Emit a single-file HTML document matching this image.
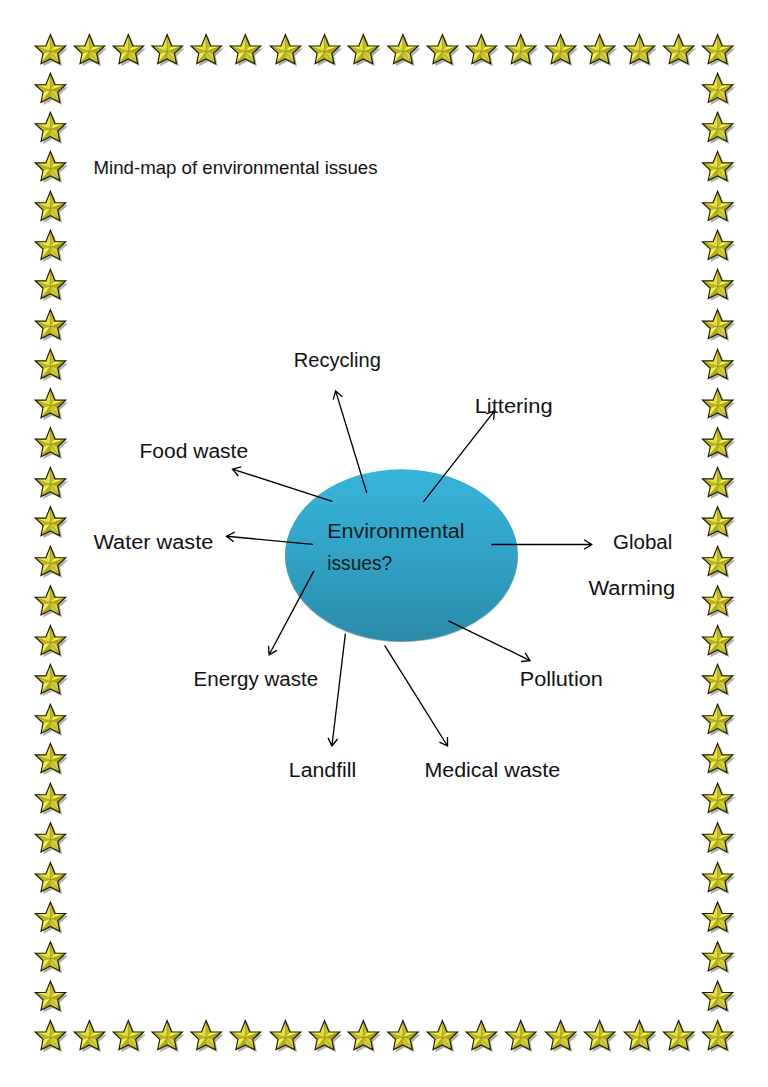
<!DOCTYPE html>
<html><head><meta charset="utf-8"><style>
html,body{margin:0;padding:0;background:#fff;}
body{width:768px;height:1087px;overflow:hidden;position:relative;}
svg{position:absolute;left:0;top:0;}
text{font-family:"Liberation Sans",sans-serif;}
</style></head><body>
<svg width="768" height="1087" viewBox="0 0 768 1087">
<defs>
<filter id="bl" x="-20%" y="-20%" width="140%" height="140%"><feGaussianBlur stdDeviation="0.7"/></filter>
<linearGradient id="eg" x1="0" y1="0" x2="0" y2="1">
<stop offset="0" stop-color="#37B5DA"/><stop offset="0.5" stop-color="#31A3C6"/><stop offset="1" stop-color="#2A8AA7"/>
</linearGradient>
</defs>
<rect width="768" height="1087" fill="#fff"/>
<g transform="translate(50.40,51.50)"><g><path d="M0.00,-17.00 L4.55,-5.50 L15.30,-5.50 L7.35,1.90 L9.40,12.20 L0.00,7.40 L-9.40,12.20 L-7.35,1.90 L-15.10,-5.50 L-4.55,-5.50Z" fill="#909090" opacity="0.7" transform="translate(2.2,2.5)" filter="url(#bl)"/><path d="M0.00,-17.00 L4.55,-5.50 L15.30,-5.50 L7.35,1.90 L9.40,12.20 L0.00,7.40 L-9.40,12.20 L-7.35,1.90 L-15.10,-5.50 L-4.55,-5.50Z" fill="#d8d23e"/><path d="M0,0 L0.00,-17.00 L-4.55,-5.50Z" fill="#e7e441"/><path d="M0,0 L0.00,-17.00 L4.55,-5.50Z" fill="#c2bc2b"/><path d="M0,0 L15.30,-5.50 L4.55,-5.50Z" fill="#f9f74b"/><path d="M0,0 L15.30,-5.50 L7.35,1.90Z" fill="#b0a820"/><path d="M0,0 L9.40,12.20 L7.35,1.90Z" fill="#d8d438"/><path d="M0,0 L9.40,12.20 L0.00,7.40Z" fill="#d1cb33"/><path d="M0,0 L-9.40,12.20 L0.00,7.40Z" fill="#b3ab21"/><path d="M0,0 L-9.40,12.20 L-7.35,1.90Z" fill="#f6f44a"/><path d="M0,0 L-15.10,-5.50 L-7.35,1.90Z" fill="#bcb527"/><path d="M0,0 L-15.10,-5.50 L-4.55,-5.50Z" fill="#edea44"/><path d="M0,0 L0.00,-17.00 M0,0 L15.30,-5.50 M0,0 L9.40,12.20 M0,0 L-9.40,12.20 M0,0 L-15.10,-5.50 " stroke="#7a7210" stroke-width="0.6" fill="none" opacity="0.7"/><path d="M0,0 L4.55,-5.50 M0,0 L7.35,1.90 M0,0 L0.00,7.40 M0,0 L-7.35,1.90 M0,0 L-4.55,-5.50 " stroke="#8a8214" stroke-width="0.5" fill="none" opacity="0.45"/><path d="M0.00,-17.00 L4.55,-5.50 L15.30,-5.50 L7.35,1.90 L9.40,12.20 L0.00,7.40 L-9.40,12.20 L-7.35,1.90 L-15.10,-5.50 L-4.55,-5.50Z" fill="none" stroke="#1a1a00" stroke-width="1.15" stroke-linejoin="miter" stroke-miterlimit="10"/></g></g>
<g transform="translate(50.40,1037.50)"><g><path d="M0.00,-17.00 L4.55,-5.50 L15.30,-5.50 L7.35,1.90 L9.40,12.20 L0.00,7.40 L-9.40,12.20 L-7.35,1.90 L-15.10,-5.50 L-4.55,-5.50Z" fill="#909090" opacity="0.7" transform="translate(2.2,2.5)" filter="url(#bl)"/><path d="M0.00,-17.00 L4.55,-5.50 L15.30,-5.50 L7.35,1.90 L9.40,12.20 L0.00,7.40 L-9.40,12.20 L-7.35,1.90 L-15.10,-5.50 L-4.55,-5.50Z" fill="#d8d23e"/><path d="M0,0 L0.00,-17.00 L-4.55,-5.50Z" fill="#e7e441"/><path d="M0,0 L0.00,-17.00 L4.55,-5.50Z" fill="#c2bc2b"/><path d="M0,0 L15.30,-5.50 L4.55,-5.50Z" fill="#f9f74b"/><path d="M0,0 L15.30,-5.50 L7.35,1.90Z" fill="#b0a820"/><path d="M0,0 L9.40,12.20 L7.35,1.90Z" fill="#d8d438"/><path d="M0,0 L9.40,12.20 L0.00,7.40Z" fill="#d1cb33"/><path d="M0,0 L-9.40,12.20 L0.00,7.40Z" fill="#b3ab21"/><path d="M0,0 L-9.40,12.20 L-7.35,1.90Z" fill="#f6f44a"/><path d="M0,0 L-15.10,-5.50 L-7.35,1.90Z" fill="#bcb527"/><path d="M0,0 L-15.10,-5.50 L-4.55,-5.50Z" fill="#edea44"/><path d="M0,0 L0.00,-17.00 M0,0 L15.30,-5.50 M0,0 L9.40,12.20 M0,0 L-9.40,12.20 M0,0 L-15.10,-5.50 " stroke="#7a7210" stroke-width="0.6" fill="none" opacity="0.7"/><path d="M0,0 L4.55,-5.50 M0,0 L7.35,1.90 M0,0 L0.00,7.40 M0,0 L-7.35,1.90 M0,0 L-4.55,-5.50 " stroke="#8a8214" stroke-width="0.5" fill="none" opacity="0.45"/><path d="M0.00,-17.00 L4.55,-5.50 L15.30,-5.50 L7.35,1.90 L9.40,12.20 L0.00,7.40 L-9.40,12.20 L-7.35,1.90 L-15.10,-5.50 L-4.55,-5.50Z" fill="none" stroke="#1a1a00" stroke-width="1.15" stroke-linejoin="miter" stroke-miterlimit="10"/></g></g>
<g transform="translate(89.40,51.50)"><g><path d="M0.00,-17.00 L4.55,-5.50 L15.30,-5.50 L7.35,1.90 L9.40,12.20 L0.00,7.40 L-9.40,12.20 L-7.35,1.90 L-15.10,-5.50 L-4.55,-5.50Z" fill="#909090" opacity="0.7" transform="translate(2.2,2.5)" filter="url(#bl)"/><path d="M0.00,-17.00 L4.55,-5.50 L15.30,-5.50 L7.35,1.90 L9.40,12.20 L0.00,7.40 L-9.40,12.20 L-7.35,1.90 L-15.10,-5.50 L-4.55,-5.50Z" fill="#d8d23e"/><path d="M0,0 L0.00,-17.00 L-4.55,-5.50Z" fill="#e7e441"/><path d="M0,0 L0.00,-17.00 L4.55,-5.50Z" fill="#c2bc2b"/><path d="M0,0 L15.30,-5.50 L4.55,-5.50Z" fill="#f9f74b"/><path d="M0,0 L15.30,-5.50 L7.35,1.90Z" fill="#b0a820"/><path d="M0,0 L9.40,12.20 L7.35,1.90Z" fill="#d8d438"/><path d="M0,0 L9.40,12.20 L0.00,7.40Z" fill="#d1cb33"/><path d="M0,0 L-9.40,12.20 L0.00,7.40Z" fill="#b3ab21"/><path d="M0,0 L-9.40,12.20 L-7.35,1.90Z" fill="#f6f44a"/><path d="M0,0 L-15.10,-5.50 L-7.35,1.90Z" fill="#bcb527"/><path d="M0,0 L-15.10,-5.50 L-4.55,-5.50Z" fill="#edea44"/><path d="M0,0 L0.00,-17.00 M0,0 L15.30,-5.50 M0,0 L9.40,12.20 M0,0 L-9.40,12.20 M0,0 L-15.10,-5.50 " stroke="#7a7210" stroke-width="0.6" fill="none" opacity="0.7"/><path d="M0,0 L4.55,-5.50 M0,0 L7.35,1.90 M0,0 L0.00,7.40 M0,0 L-7.35,1.90 M0,0 L-4.55,-5.50 " stroke="#8a8214" stroke-width="0.5" fill="none" opacity="0.45"/><path d="M0.00,-17.00 L4.55,-5.50 L15.30,-5.50 L7.35,1.90 L9.40,12.20 L0.00,7.40 L-9.40,12.20 L-7.35,1.90 L-15.10,-5.50 L-4.55,-5.50Z" fill="none" stroke="#1a1a00" stroke-width="1.15" stroke-linejoin="miter" stroke-miterlimit="10"/></g></g>
<g transform="translate(89.40,1037.50)"><g><path d="M0.00,-17.00 L4.55,-5.50 L15.30,-5.50 L7.35,1.90 L9.40,12.20 L0.00,7.40 L-9.40,12.20 L-7.35,1.90 L-15.10,-5.50 L-4.55,-5.50Z" fill="#909090" opacity="0.7" transform="translate(2.2,2.5)" filter="url(#bl)"/><path d="M0.00,-17.00 L4.55,-5.50 L15.30,-5.50 L7.35,1.90 L9.40,12.20 L0.00,7.40 L-9.40,12.20 L-7.35,1.90 L-15.10,-5.50 L-4.55,-5.50Z" fill="#d8d23e"/><path d="M0,0 L0.00,-17.00 L-4.55,-5.50Z" fill="#e7e441"/><path d="M0,0 L0.00,-17.00 L4.55,-5.50Z" fill="#c2bc2b"/><path d="M0,0 L15.30,-5.50 L4.55,-5.50Z" fill="#f9f74b"/><path d="M0,0 L15.30,-5.50 L7.35,1.90Z" fill="#b0a820"/><path d="M0,0 L9.40,12.20 L7.35,1.90Z" fill="#d8d438"/><path d="M0,0 L9.40,12.20 L0.00,7.40Z" fill="#d1cb33"/><path d="M0,0 L-9.40,12.20 L0.00,7.40Z" fill="#b3ab21"/><path d="M0,0 L-9.40,12.20 L-7.35,1.90Z" fill="#f6f44a"/><path d="M0,0 L-15.10,-5.50 L-7.35,1.90Z" fill="#bcb527"/><path d="M0,0 L-15.10,-5.50 L-4.55,-5.50Z" fill="#edea44"/><path d="M0,0 L0.00,-17.00 M0,0 L15.30,-5.50 M0,0 L9.40,12.20 M0,0 L-9.40,12.20 M0,0 L-15.10,-5.50 " stroke="#7a7210" stroke-width="0.6" fill="none" opacity="0.7"/><path d="M0,0 L4.55,-5.50 M0,0 L7.35,1.90 M0,0 L0.00,7.40 M0,0 L-7.35,1.90 M0,0 L-4.55,-5.50 " stroke="#8a8214" stroke-width="0.5" fill="none" opacity="0.45"/><path d="M0.00,-17.00 L4.55,-5.50 L15.30,-5.50 L7.35,1.90 L9.40,12.20 L0.00,7.40 L-9.40,12.20 L-7.35,1.90 L-15.10,-5.50 L-4.55,-5.50Z" fill="none" stroke="#1a1a00" stroke-width="1.15" stroke-linejoin="miter" stroke-miterlimit="10"/></g></g>
<g transform="translate(128.30,51.50)"><g><path d="M0.00,-17.00 L4.55,-5.50 L15.30,-5.50 L7.35,1.90 L9.40,12.20 L0.00,7.40 L-9.40,12.20 L-7.35,1.90 L-15.10,-5.50 L-4.55,-5.50Z" fill="#909090" opacity="0.7" transform="translate(2.2,2.5)" filter="url(#bl)"/><path d="M0.00,-17.00 L4.55,-5.50 L15.30,-5.50 L7.35,1.90 L9.40,12.20 L0.00,7.40 L-9.40,12.20 L-7.35,1.90 L-15.10,-5.50 L-4.55,-5.50Z" fill="#d8d23e"/><path d="M0,0 L0.00,-17.00 L-4.55,-5.50Z" fill="#e7e441"/><path d="M0,0 L0.00,-17.00 L4.55,-5.50Z" fill="#c2bc2b"/><path d="M0,0 L15.30,-5.50 L4.55,-5.50Z" fill="#f9f74b"/><path d="M0,0 L15.30,-5.50 L7.35,1.90Z" fill="#b0a820"/><path d="M0,0 L9.40,12.20 L7.35,1.90Z" fill="#d8d438"/><path d="M0,0 L9.40,12.20 L0.00,7.40Z" fill="#d1cb33"/><path d="M0,0 L-9.40,12.20 L0.00,7.40Z" fill="#b3ab21"/><path d="M0,0 L-9.40,12.20 L-7.35,1.90Z" fill="#f6f44a"/><path d="M0,0 L-15.10,-5.50 L-7.35,1.90Z" fill="#bcb527"/><path d="M0,0 L-15.10,-5.50 L-4.55,-5.50Z" fill="#edea44"/><path d="M0,0 L0.00,-17.00 M0,0 L15.30,-5.50 M0,0 L9.40,12.20 M0,0 L-9.40,12.20 M0,0 L-15.10,-5.50 " stroke="#7a7210" stroke-width="0.6" fill="none" opacity="0.7"/><path d="M0,0 L4.55,-5.50 M0,0 L7.35,1.90 M0,0 L0.00,7.40 M0,0 L-7.35,1.90 M0,0 L-4.55,-5.50 " stroke="#8a8214" stroke-width="0.5" fill="none" opacity="0.45"/><path d="M0.00,-17.00 L4.55,-5.50 L15.30,-5.50 L7.35,1.90 L9.40,12.20 L0.00,7.40 L-9.40,12.20 L-7.35,1.90 L-15.10,-5.50 L-4.55,-5.50Z" fill="none" stroke="#1a1a00" stroke-width="1.15" stroke-linejoin="miter" stroke-miterlimit="10"/></g></g>
<g transform="translate(128.30,1037.50)"><g><path d="M0.00,-17.00 L4.55,-5.50 L15.30,-5.50 L7.35,1.90 L9.40,12.20 L0.00,7.40 L-9.40,12.20 L-7.35,1.90 L-15.10,-5.50 L-4.55,-5.50Z" fill="#909090" opacity="0.7" transform="translate(2.2,2.5)" filter="url(#bl)"/><path d="M0.00,-17.00 L4.55,-5.50 L15.30,-5.50 L7.35,1.90 L9.40,12.20 L0.00,7.40 L-9.40,12.20 L-7.35,1.90 L-15.10,-5.50 L-4.55,-5.50Z" fill="#d8d23e"/><path d="M0,0 L0.00,-17.00 L-4.55,-5.50Z" fill="#e7e441"/><path d="M0,0 L0.00,-17.00 L4.55,-5.50Z" fill="#c2bc2b"/><path d="M0,0 L15.30,-5.50 L4.55,-5.50Z" fill="#f9f74b"/><path d="M0,0 L15.30,-5.50 L7.35,1.90Z" fill="#b0a820"/><path d="M0,0 L9.40,12.20 L7.35,1.90Z" fill="#d8d438"/><path d="M0,0 L9.40,12.20 L0.00,7.40Z" fill="#d1cb33"/><path d="M0,0 L-9.40,12.20 L0.00,7.40Z" fill="#b3ab21"/><path d="M0,0 L-9.40,12.20 L-7.35,1.90Z" fill="#f6f44a"/><path d="M0,0 L-15.10,-5.50 L-7.35,1.90Z" fill="#bcb527"/><path d="M0,0 L-15.10,-5.50 L-4.55,-5.50Z" fill="#edea44"/><path d="M0,0 L0.00,-17.00 M0,0 L15.30,-5.50 M0,0 L9.40,12.20 M0,0 L-9.40,12.20 M0,0 L-15.10,-5.50 " stroke="#7a7210" stroke-width="0.6" fill="none" opacity="0.7"/><path d="M0,0 L4.55,-5.50 M0,0 L7.35,1.90 M0,0 L0.00,7.40 M0,0 L-7.35,1.90 M0,0 L-4.55,-5.50 " stroke="#8a8214" stroke-width="0.5" fill="none" opacity="0.45"/><path d="M0.00,-17.00 L4.55,-5.50 L15.30,-5.50 L7.35,1.90 L9.40,12.20 L0.00,7.40 L-9.40,12.20 L-7.35,1.90 L-15.10,-5.50 L-4.55,-5.50Z" fill="none" stroke="#1a1a00" stroke-width="1.15" stroke-linejoin="miter" stroke-miterlimit="10"/></g></g>
<g transform="translate(167.10,51.50)"><g><path d="M0.00,-17.00 L4.55,-5.50 L15.30,-5.50 L7.35,1.90 L9.40,12.20 L0.00,7.40 L-9.40,12.20 L-7.35,1.90 L-15.10,-5.50 L-4.55,-5.50Z" fill="#909090" opacity="0.7" transform="translate(2.2,2.5)" filter="url(#bl)"/><path d="M0.00,-17.00 L4.55,-5.50 L15.30,-5.50 L7.35,1.90 L9.40,12.20 L0.00,7.40 L-9.40,12.20 L-7.35,1.90 L-15.10,-5.50 L-4.55,-5.50Z" fill="#d8d23e"/><path d="M0,0 L0.00,-17.00 L-4.55,-5.50Z" fill="#e7e441"/><path d="M0,0 L0.00,-17.00 L4.55,-5.50Z" fill="#c2bc2b"/><path d="M0,0 L15.30,-5.50 L4.55,-5.50Z" fill="#f9f74b"/><path d="M0,0 L15.30,-5.50 L7.35,1.90Z" fill="#b0a820"/><path d="M0,0 L9.40,12.20 L7.35,1.90Z" fill="#d8d438"/><path d="M0,0 L9.40,12.20 L0.00,7.40Z" fill="#d1cb33"/><path d="M0,0 L-9.40,12.20 L0.00,7.40Z" fill="#b3ab21"/><path d="M0,0 L-9.40,12.20 L-7.35,1.90Z" fill="#f6f44a"/><path d="M0,0 L-15.10,-5.50 L-7.35,1.90Z" fill="#bcb527"/><path d="M0,0 L-15.10,-5.50 L-4.55,-5.50Z" fill="#edea44"/><path d="M0,0 L0.00,-17.00 M0,0 L15.30,-5.50 M0,0 L9.40,12.20 M0,0 L-9.40,12.20 M0,0 L-15.10,-5.50 " stroke="#7a7210" stroke-width="0.6" fill="none" opacity="0.7"/><path d="M0,0 L4.55,-5.50 M0,0 L7.35,1.90 M0,0 L0.00,7.40 M0,0 L-7.35,1.90 M0,0 L-4.55,-5.50 " stroke="#8a8214" stroke-width="0.5" fill="none" opacity="0.45"/><path d="M0.00,-17.00 L4.55,-5.50 L15.30,-5.50 L7.35,1.90 L9.40,12.20 L0.00,7.40 L-9.40,12.20 L-7.35,1.90 L-15.10,-5.50 L-4.55,-5.50Z" fill="none" stroke="#1a1a00" stroke-width="1.15" stroke-linejoin="miter" stroke-miterlimit="10"/></g></g>
<g transform="translate(167.10,1037.50)"><g><path d="M0.00,-17.00 L4.55,-5.50 L15.30,-5.50 L7.35,1.90 L9.40,12.20 L0.00,7.40 L-9.40,12.20 L-7.35,1.90 L-15.10,-5.50 L-4.55,-5.50Z" fill="#909090" opacity="0.7" transform="translate(2.2,2.5)" filter="url(#bl)"/><path d="M0.00,-17.00 L4.55,-5.50 L15.30,-5.50 L7.35,1.90 L9.40,12.20 L0.00,7.40 L-9.40,12.20 L-7.35,1.90 L-15.10,-5.50 L-4.55,-5.50Z" fill="#d8d23e"/><path d="M0,0 L0.00,-17.00 L-4.55,-5.50Z" fill="#e7e441"/><path d="M0,0 L0.00,-17.00 L4.55,-5.50Z" fill="#c2bc2b"/><path d="M0,0 L15.30,-5.50 L4.55,-5.50Z" fill="#f9f74b"/><path d="M0,0 L15.30,-5.50 L7.35,1.90Z" fill="#b0a820"/><path d="M0,0 L9.40,12.20 L7.35,1.90Z" fill="#d8d438"/><path d="M0,0 L9.40,12.20 L0.00,7.40Z" fill="#d1cb33"/><path d="M0,0 L-9.40,12.20 L0.00,7.40Z" fill="#b3ab21"/><path d="M0,0 L-9.40,12.20 L-7.35,1.90Z" fill="#f6f44a"/><path d="M0,0 L-15.10,-5.50 L-7.35,1.90Z" fill="#bcb527"/><path d="M0,0 L-15.10,-5.50 L-4.55,-5.50Z" fill="#edea44"/><path d="M0,0 L0.00,-17.00 M0,0 L15.30,-5.50 M0,0 L9.40,12.20 M0,0 L-9.40,12.20 M0,0 L-15.10,-5.50 " stroke="#7a7210" stroke-width="0.6" fill="none" opacity="0.7"/><path d="M0,0 L4.55,-5.50 M0,0 L7.35,1.90 M0,0 L0.00,7.40 M0,0 L-7.35,1.90 M0,0 L-4.55,-5.50 " stroke="#8a8214" stroke-width="0.5" fill="none" opacity="0.45"/><path d="M0.00,-17.00 L4.55,-5.50 L15.30,-5.50 L7.35,1.90 L9.40,12.20 L0.00,7.40 L-9.40,12.20 L-7.35,1.90 L-15.10,-5.50 L-4.55,-5.50Z" fill="none" stroke="#1a1a00" stroke-width="1.15" stroke-linejoin="miter" stroke-miterlimit="10"/></g></g>
<g transform="translate(206.10,51.50)"><g><path d="M0.00,-17.00 L4.55,-5.50 L15.30,-5.50 L7.35,1.90 L9.40,12.20 L0.00,7.40 L-9.40,12.20 L-7.35,1.90 L-15.10,-5.50 L-4.55,-5.50Z" fill="#909090" opacity="0.7" transform="translate(2.2,2.5)" filter="url(#bl)"/><path d="M0.00,-17.00 L4.55,-5.50 L15.30,-5.50 L7.35,1.90 L9.40,12.20 L0.00,7.40 L-9.40,12.20 L-7.35,1.90 L-15.10,-5.50 L-4.55,-5.50Z" fill="#d8d23e"/><path d="M0,0 L0.00,-17.00 L-4.55,-5.50Z" fill="#e7e441"/><path d="M0,0 L0.00,-17.00 L4.55,-5.50Z" fill="#c2bc2b"/><path d="M0,0 L15.30,-5.50 L4.55,-5.50Z" fill="#f9f74b"/><path d="M0,0 L15.30,-5.50 L7.35,1.90Z" fill="#b0a820"/><path d="M0,0 L9.40,12.20 L7.35,1.90Z" fill="#d8d438"/><path d="M0,0 L9.40,12.20 L0.00,7.40Z" fill="#d1cb33"/><path d="M0,0 L-9.40,12.20 L0.00,7.40Z" fill="#b3ab21"/><path d="M0,0 L-9.40,12.20 L-7.35,1.90Z" fill="#f6f44a"/><path d="M0,0 L-15.10,-5.50 L-7.35,1.90Z" fill="#bcb527"/><path d="M0,0 L-15.10,-5.50 L-4.55,-5.50Z" fill="#edea44"/><path d="M0,0 L0.00,-17.00 M0,0 L15.30,-5.50 M0,0 L9.40,12.20 M0,0 L-9.40,12.20 M0,0 L-15.10,-5.50 " stroke="#7a7210" stroke-width="0.6" fill="none" opacity="0.7"/><path d="M0,0 L4.55,-5.50 M0,0 L7.35,1.90 M0,0 L0.00,7.40 M0,0 L-7.35,1.90 M0,0 L-4.55,-5.50 " stroke="#8a8214" stroke-width="0.5" fill="none" opacity="0.45"/><path d="M0.00,-17.00 L4.55,-5.50 L15.30,-5.50 L7.35,1.90 L9.40,12.20 L0.00,7.40 L-9.40,12.20 L-7.35,1.90 L-15.10,-5.50 L-4.55,-5.50Z" fill="none" stroke="#1a1a00" stroke-width="1.15" stroke-linejoin="miter" stroke-miterlimit="10"/></g></g>
<g transform="translate(206.10,1037.50)"><g><path d="M0.00,-17.00 L4.55,-5.50 L15.30,-5.50 L7.35,1.90 L9.40,12.20 L0.00,7.40 L-9.40,12.20 L-7.35,1.90 L-15.10,-5.50 L-4.55,-5.50Z" fill="#909090" opacity="0.7" transform="translate(2.2,2.5)" filter="url(#bl)"/><path d="M0.00,-17.00 L4.55,-5.50 L15.30,-5.50 L7.35,1.90 L9.40,12.20 L0.00,7.40 L-9.40,12.20 L-7.35,1.90 L-15.10,-5.50 L-4.55,-5.50Z" fill="#d8d23e"/><path d="M0,0 L0.00,-17.00 L-4.55,-5.50Z" fill="#e7e441"/><path d="M0,0 L0.00,-17.00 L4.55,-5.50Z" fill="#c2bc2b"/><path d="M0,0 L15.30,-5.50 L4.55,-5.50Z" fill="#f9f74b"/><path d="M0,0 L15.30,-5.50 L7.35,1.90Z" fill="#b0a820"/><path d="M0,0 L9.40,12.20 L7.35,1.90Z" fill="#d8d438"/><path d="M0,0 L9.40,12.20 L0.00,7.40Z" fill="#d1cb33"/><path d="M0,0 L-9.40,12.20 L0.00,7.40Z" fill="#b3ab21"/><path d="M0,0 L-9.40,12.20 L-7.35,1.90Z" fill="#f6f44a"/><path d="M0,0 L-15.10,-5.50 L-7.35,1.90Z" fill="#bcb527"/><path d="M0,0 L-15.10,-5.50 L-4.55,-5.50Z" fill="#edea44"/><path d="M0,0 L0.00,-17.00 M0,0 L15.30,-5.50 M0,0 L9.40,12.20 M0,0 L-9.40,12.20 M0,0 L-15.10,-5.50 " stroke="#7a7210" stroke-width="0.6" fill="none" opacity="0.7"/><path d="M0,0 L4.55,-5.50 M0,0 L7.35,1.90 M0,0 L0.00,7.40 M0,0 L-7.35,1.90 M0,0 L-4.55,-5.50 " stroke="#8a8214" stroke-width="0.5" fill="none" opacity="0.45"/><path d="M0.00,-17.00 L4.55,-5.50 L15.30,-5.50 L7.35,1.90 L9.40,12.20 L0.00,7.40 L-9.40,12.20 L-7.35,1.90 L-15.10,-5.50 L-4.55,-5.50Z" fill="none" stroke="#1a1a00" stroke-width="1.15" stroke-linejoin="miter" stroke-miterlimit="10"/></g></g>
<g transform="translate(245.30,51.50)"><g><path d="M0.00,-17.00 L4.55,-5.50 L15.30,-5.50 L7.35,1.90 L9.40,12.20 L0.00,7.40 L-9.40,12.20 L-7.35,1.90 L-15.10,-5.50 L-4.55,-5.50Z" fill="#909090" opacity="0.7" transform="translate(2.2,2.5)" filter="url(#bl)"/><path d="M0.00,-17.00 L4.55,-5.50 L15.30,-5.50 L7.35,1.90 L9.40,12.20 L0.00,7.40 L-9.40,12.20 L-7.35,1.90 L-15.10,-5.50 L-4.55,-5.50Z" fill="#d8d23e"/><path d="M0,0 L0.00,-17.00 L-4.55,-5.50Z" fill="#e7e441"/><path d="M0,0 L0.00,-17.00 L4.55,-5.50Z" fill="#c2bc2b"/><path d="M0,0 L15.30,-5.50 L4.55,-5.50Z" fill="#f9f74b"/><path d="M0,0 L15.30,-5.50 L7.35,1.90Z" fill="#b0a820"/><path d="M0,0 L9.40,12.20 L7.35,1.90Z" fill="#d8d438"/><path d="M0,0 L9.40,12.20 L0.00,7.40Z" fill="#d1cb33"/><path d="M0,0 L-9.40,12.20 L0.00,7.40Z" fill="#b3ab21"/><path d="M0,0 L-9.40,12.20 L-7.35,1.90Z" fill="#f6f44a"/><path d="M0,0 L-15.10,-5.50 L-7.35,1.90Z" fill="#bcb527"/><path d="M0,0 L-15.10,-5.50 L-4.55,-5.50Z" fill="#edea44"/><path d="M0,0 L0.00,-17.00 M0,0 L15.30,-5.50 M0,0 L9.40,12.20 M0,0 L-9.40,12.20 M0,0 L-15.10,-5.50 " stroke="#7a7210" stroke-width="0.6" fill="none" opacity="0.7"/><path d="M0,0 L4.55,-5.50 M0,0 L7.35,1.90 M0,0 L0.00,7.40 M0,0 L-7.35,1.90 M0,0 L-4.55,-5.50 " stroke="#8a8214" stroke-width="0.5" fill="none" opacity="0.45"/><path d="M0.00,-17.00 L4.55,-5.50 L15.30,-5.50 L7.35,1.90 L9.40,12.20 L0.00,7.40 L-9.40,12.20 L-7.35,1.90 L-15.10,-5.50 L-4.55,-5.50Z" fill="none" stroke="#1a1a00" stroke-width="1.15" stroke-linejoin="miter" stroke-miterlimit="10"/></g></g>
<g transform="translate(245.30,1037.50)"><g><path d="M0.00,-17.00 L4.55,-5.50 L15.30,-5.50 L7.35,1.90 L9.40,12.20 L0.00,7.40 L-9.40,12.20 L-7.35,1.90 L-15.10,-5.50 L-4.55,-5.50Z" fill="#909090" opacity="0.7" transform="translate(2.2,2.5)" filter="url(#bl)"/><path d="M0.00,-17.00 L4.55,-5.50 L15.30,-5.50 L7.35,1.90 L9.40,12.20 L0.00,7.40 L-9.40,12.20 L-7.35,1.90 L-15.10,-5.50 L-4.55,-5.50Z" fill="#d8d23e"/><path d="M0,0 L0.00,-17.00 L-4.55,-5.50Z" fill="#e7e441"/><path d="M0,0 L0.00,-17.00 L4.55,-5.50Z" fill="#c2bc2b"/><path d="M0,0 L15.30,-5.50 L4.55,-5.50Z" fill="#f9f74b"/><path d="M0,0 L15.30,-5.50 L7.35,1.90Z" fill="#b0a820"/><path d="M0,0 L9.40,12.20 L7.35,1.90Z" fill="#d8d438"/><path d="M0,0 L9.40,12.20 L0.00,7.40Z" fill="#d1cb33"/><path d="M0,0 L-9.40,12.20 L0.00,7.40Z" fill="#b3ab21"/><path d="M0,0 L-9.40,12.20 L-7.35,1.90Z" fill="#f6f44a"/><path d="M0,0 L-15.10,-5.50 L-7.35,1.90Z" fill="#bcb527"/><path d="M0,0 L-15.10,-5.50 L-4.55,-5.50Z" fill="#edea44"/><path d="M0,0 L0.00,-17.00 M0,0 L15.30,-5.50 M0,0 L9.40,12.20 M0,0 L-9.40,12.20 M0,0 L-15.10,-5.50 " stroke="#7a7210" stroke-width="0.6" fill="none" opacity="0.7"/><path d="M0,0 L4.55,-5.50 M0,0 L7.35,1.90 M0,0 L0.00,7.40 M0,0 L-7.35,1.90 M0,0 L-4.55,-5.50 " stroke="#8a8214" stroke-width="0.5" fill="none" opacity="0.45"/><path d="M0.00,-17.00 L4.55,-5.50 L15.30,-5.50 L7.35,1.90 L9.40,12.20 L0.00,7.40 L-9.40,12.20 L-7.35,1.90 L-15.10,-5.50 L-4.55,-5.50Z" fill="none" stroke="#1a1a00" stroke-width="1.15" stroke-linejoin="miter" stroke-miterlimit="10"/></g></g>
<g transform="translate(285.40,51.50)"><g><path d="M0.00,-17.00 L4.55,-5.50 L15.30,-5.50 L7.35,1.90 L9.40,12.20 L0.00,7.40 L-9.40,12.20 L-7.35,1.90 L-15.10,-5.50 L-4.55,-5.50Z" fill="#909090" opacity="0.7" transform="translate(2.2,2.5)" filter="url(#bl)"/><path d="M0.00,-17.00 L4.55,-5.50 L15.30,-5.50 L7.35,1.90 L9.40,12.20 L0.00,7.40 L-9.40,12.20 L-7.35,1.90 L-15.10,-5.50 L-4.55,-5.50Z" fill="#d8d23e"/><path d="M0,0 L0.00,-17.00 L-4.55,-5.50Z" fill="#e7e441"/><path d="M0,0 L0.00,-17.00 L4.55,-5.50Z" fill="#c2bc2b"/><path d="M0,0 L15.30,-5.50 L4.55,-5.50Z" fill="#f9f74b"/><path d="M0,0 L15.30,-5.50 L7.35,1.90Z" fill="#b0a820"/><path d="M0,0 L9.40,12.20 L7.35,1.90Z" fill="#d8d438"/><path d="M0,0 L9.40,12.20 L0.00,7.40Z" fill="#d1cb33"/><path d="M0,0 L-9.40,12.20 L0.00,7.40Z" fill="#b3ab21"/><path d="M0,0 L-9.40,12.20 L-7.35,1.90Z" fill="#f6f44a"/><path d="M0,0 L-15.10,-5.50 L-7.35,1.90Z" fill="#bcb527"/><path d="M0,0 L-15.10,-5.50 L-4.55,-5.50Z" fill="#edea44"/><path d="M0,0 L0.00,-17.00 M0,0 L15.30,-5.50 M0,0 L9.40,12.20 M0,0 L-9.40,12.20 M0,0 L-15.10,-5.50 " stroke="#7a7210" stroke-width="0.6" fill="none" opacity="0.7"/><path d="M0,0 L4.55,-5.50 M0,0 L7.35,1.90 M0,0 L0.00,7.40 M0,0 L-7.35,1.90 M0,0 L-4.55,-5.50 " stroke="#8a8214" stroke-width="0.5" fill="none" opacity="0.45"/><path d="M0.00,-17.00 L4.55,-5.50 L15.30,-5.50 L7.35,1.90 L9.40,12.20 L0.00,7.40 L-9.40,12.20 L-7.35,1.90 L-15.10,-5.50 L-4.55,-5.50Z" fill="none" stroke="#1a1a00" stroke-width="1.15" stroke-linejoin="miter" stroke-miterlimit="10"/></g></g>
<g transform="translate(285.40,1037.50)"><g><path d="M0.00,-17.00 L4.55,-5.50 L15.30,-5.50 L7.35,1.90 L9.40,12.20 L0.00,7.40 L-9.40,12.20 L-7.35,1.90 L-15.10,-5.50 L-4.55,-5.50Z" fill="#909090" opacity="0.7" transform="translate(2.2,2.5)" filter="url(#bl)"/><path d="M0.00,-17.00 L4.55,-5.50 L15.30,-5.50 L7.35,1.90 L9.40,12.20 L0.00,7.40 L-9.40,12.20 L-7.35,1.90 L-15.10,-5.50 L-4.55,-5.50Z" fill="#d8d23e"/><path d="M0,0 L0.00,-17.00 L-4.55,-5.50Z" fill="#e7e441"/><path d="M0,0 L0.00,-17.00 L4.55,-5.50Z" fill="#c2bc2b"/><path d="M0,0 L15.30,-5.50 L4.55,-5.50Z" fill="#f9f74b"/><path d="M0,0 L15.30,-5.50 L7.35,1.90Z" fill="#b0a820"/><path d="M0,0 L9.40,12.20 L7.35,1.90Z" fill="#d8d438"/><path d="M0,0 L9.40,12.20 L0.00,7.40Z" fill="#d1cb33"/><path d="M0,0 L-9.40,12.20 L0.00,7.40Z" fill="#b3ab21"/><path d="M0,0 L-9.40,12.20 L-7.35,1.90Z" fill="#f6f44a"/><path d="M0,0 L-15.10,-5.50 L-7.35,1.90Z" fill="#bcb527"/><path d="M0,0 L-15.10,-5.50 L-4.55,-5.50Z" fill="#edea44"/><path d="M0,0 L0.00,-17.00 M0,0 L15.30,-5.50 M0,0 L9.40,12.20 M0,0 L-9.40,12.20 M0,0 L-15.10,-5.50 " stroke="#7a7210" stroke-width="0.6" fill="none" opacity="0.7"/><path d="M0,0 L4.55,-5.50 M0,0 L7.35,1.90 M0,0 L0.00,7.40 M0,0 L-7.35,1.90 M0,0 L-4.55,-5.50 " stroke="#8a8214" stroke-width="0.5" fill="none" opacity="0.45"/><path d="M0.00,-17.00 L4.55,-5.50 L15.30,-5.50 L7.35,1.90 L9.40,12.20 L0.00,7.40 L-9.40,12.20 L-7.35,1.90 L-15.10,-5.50 L-4.55,-5.50Z" fill="none" stroke="#1a1a00" stroke-width="1.15" stroke-linejoin="miter" stroke-miterlimit="10"/></g></g>
<g transform="translate(324.50,51.50)"><g><path d="M0.00,-17.00 L4.55,-5.50 L15.30,-5.50 L7.35,1.90 L9.40,12.20 L0.00,7.40 L-9.40,12.20 L-7.35,1.90 L-15.10,-5.50 L-4.55,-5.50Z" fill="#909090" opacity="0.7" transform="translate(2.2,2.5)" filter="url(#bl)"/><path d="M0.00,-17.00 L4.55,-5.50 L15.30,-5.50 L7.35,1.90 L9.40,12.20 L0.00,7.40 L-9.40,12.20 L-7.35,1.90 L-15.10,-5.50 L-4.55,-5.50Z" fill="#d8d23e"/><path d="M0,0 L0.00,-17.00 L-4.55,-5.50Z" fill="#e7e441"/><path d="M0,0 L0.00,-17.00 L4.55,-5.50Z" fill="#c2bc2b"/><path d="M0,0 L15.30,-5.50 L4.55,-5.50Z" fill="#f9f74b"/><path d="M0,0 L15.30,-5.50 L7.35,1.90Z" fill="#b0a820"/><path d="M0,0 L9.40,12.20 L7.35,1.90Z" fill="#d8d438"/><path d="M0,0 L9.40,12.20 L0.00,7.40Z" fill="#d1cb33"/><path d="M0,0 L-9.40,12.20 L0.00,7.40Z" fill="#b3ab21"/><path d="M0,0 L-9.40,12.20 L-7.35,1.90Z" fill="#f6f44a"/><path d="M0,0 L-15.10,-5.50 L-7.35,1.90Z" fill="#bcb527"/><path d="M0,0 L-15.10,-5.50 L-4.55,-5.50Z" fill="#edea44"/><path d="M0,0 L0.00,-17.00 M0,0 L15.30,-5.50 M0,0 L9.40,12.20 M0,0 L-9.40,12.20 M0,0 L-15.10,-5.50 " stroke="#7a7210" stroke-width="0.6" fill="none" opacity="0.7"/><path d="M0,0 L4.55,-5.50 M0,0 L7.35,1.90 M0,0 L0.00,7.40 M0,0 L-7.35,1.90 M0,0 L-4.55,-5.50 " stroke="#8a8214" stroke-width="0.5" fill="none" opacity="0.45"/><path d="M0.00,-17.00 L4.55,-5.50 L15.30,-5.50 L7.35,1.90 L9.40,12.20 L0.00,7.40 L-9.40,12.20 L-7.35,1.90 L-15.10,-5.50 L-4.55,-5.50Z" fill="none" stroke="#1a1a00" stroke-width="1.15" stroke-linejoin="miter" stroke-miterlimit="10"/></g></g>
<g transform="translate(324.50,1037.50)"><g><path d="M0.00,-17.00 L4.55,-5.50 L15.30,-5.50 L7.35,1.90 L9.40,12.20 L0.00,7.40 L-9.40,12.20 L-7.35,1.90 L-15.10,-5.50 L-4.55,-5.50Z" fill="#909090" opacity="0.7" transform="translate(2.2,2.5)" filter="url(#bl)"/><path d="M0.00,-17.00 L4.55,-5.50 L15.30,-5.50 L7.35,1.90 L9.40,12.20 L0.00,7.40 L-9.40,12.20 L-7.35,1.90 L-15.10,-5.50 L-4.55,-5.50Z" fill="#d8d23e"/><path d="M0,0 L0.00,-17.00 L-4.55,-5.50Z" fill="#e7e441"/><path d="M0,0 L0.00,-17.00 L4.55,-5.50Z" fill="#c2bc2b"/><path d="M0,0 L15.30,-5.50 L4.55,-5.50Z" fill="#f9f74b"/><path d="M0,0 L15.30,-5.50 L7.35,1.90Z" fill="#b0a820"/><path d="M0,0 L9.40,12.20 L7.35,1.90Z" fill="#d8d438"/><path d="M0,0 L9.40,12.20 L0.00,7.40Z" fill="#d1cb33"/><path d="M0,0 L-9.40,12.20 L0.00,7.40Z" fill="#b3ab21"/><path d="M0,0 L-9.40,12.20 L-7.35,1.90Z" fill="#f6f44a"/><path d="M0,0 L-15.10,-5.50 L-7.35,1.90Z" fill="#bcb527"/><path d="M0,0 L-15.10,-5.50 L-4.55,-5.50Z" fill="#edea44"/><path d="M0,0 L0.00,-17.00 M0,0 L15.30,-5.50 M0,0 L9.40,12.20 M0,0 L-9.40,12.20 M0,0 L-15.10,-5.50 " stroke="#7a7210" stroke-width="0.6" fill="none" opacity="0.7"/><path d="M0,0 L4.55,-5.50 M0,0 L7.35,1.90 M0,0 L0.00,7.40 M0,0 L-7.35,1.90 M0,0 L-4.55,-5.50 " stroke="#8a8214" stroke-width="0.5" fill="none" opacity="0.45"/><path d="M0.00,-17.00 L4.55,-5.50 L15.30,-5.50 L7.35,1.90 L9.40,12.20 L0.00,7.40 L-9.40,12.20 L-7.35,1.90 L-15.10,-5.50 L-4.55,-5.50Z" fill="none" stroke="#1a1a00" stroke-width="1.15" stroke-linejoin="miter" stroke-miterlimit="10"/></g></g>
<g transform="translate(363.30,51.50)"><g><path d="M0.00,-17.00 L4.55,-5.50 L15.30,-5.50 L7.35,1.90 L9.40,12.20 L0.00,7.40 L-9.40,12.20 L-7.35,1.90 L-15.10,-5.50 L-4.55,-5.50Z" fill="#909090" opacity="0.7" transform="translate(2.2,2.5)" filter="url(#bl)"/><path d="M0.00,-17.00 L4.55,-5.50 L15.30,-5.50 L7.35,1.90 L9.40,12.20 L0.00,7.40 L-9.40,12.20 L-7.35,1.90 L-15.10,-5.50 L-4.55,-5.50Z" fill="#d8d23e"/><path d="M0,0 L0.00,-17.00 L-4.55,-5.50Z" fill="#e7e441"/><path d="M0,0 L0.00,-17.00 L4.55,-5.50Z" fill="#c2bc2b"/><path d="M0,0 L15.30,-5.50 L4.55,-5.50Z" fill="#f9f74b"/><path d="M0,0 L15.30,-5.50 L7.35,1.90Z" fill="#b0a820"/><path d="M0,0 L9.40,12.20 L7.35,1.90Z" fill="#d8d438"/><path d="M0,0 L9.40,12.20 L0.00,7.40Z" fill="#d1cb33"/><path d="M0,0 L-9.40,12.20 L0.00,7.40Z" fill="#b3ab21"/><path d="M0,0 L-9.40,12.20 L-7.35,1.90Z" fill="#f6f44a"/><path d="M0,0 L-15.10,-5.50 L-7.35,1.90Z" fill="#bcb527"/><path d="M0,0 L-15.10,-5.50 L-4.55,-5.50Z" fill="#edea44"/><path d="M0,0 L0.00,-17.00 M0,0 L15.30,-5.50 M0,0 L9.40,12.20 M0,0 L-9.40,12.20 M0,0 L-15.10,-5.50 " stroke="#7a7210" stroke-width="0.6" fill="none" opacity="0.7"/><path d="M0,0 L4.55,-5.50 M0,0 L7.35,1.90 M0,0 L0.00,7.40 M0,0 L-7.35,1.90 M0,0 L-4.55,-5.50 " stroke="#8a8214" stroke-width="0.5" fill="none" opacity="0.45"/><path d="M0.00,-17.00 L4.55,-5.50 L15.30,-5.50 L7.35,1.90 L9.40,12.20 L0.00,7.40 L-9.40,12.20 L-7.35,1.90 L-15.10,-5.50 L-4.55,-5.50Z" fill="none" stroke="#1a1a00" stroke-width="1.15" stroke-linejoin="miter" stroke-miterlimit="10"/></g></g>
<g transform="translate(363.30,1037.50)"><g><path d="M0.00,-17.00 L4.55,-5.50 L15.30,-5.50 L7.35,1.90 L9.40,12.20 L0.00,7.40 L-9.40,12.20 L-7.35,1.90 L-15.10,-5.50 L-4.55,-5.50Z" fill="#909090" opacity="0.7" transform="translate(2.2,2.5)" filter="url(#bl)"/><path d="M0.00,-17.00 L4.55,-5.50 L15.30,-5.50 L7.35,1.90 L9.40,12.20 L0.00,7.40 L-9.40,12.20 L-7.35,1.90 L-15.10,-5.50 L-4.55,-5.50Z" fill="#d8d23e"/><path d="M0,0 L0.00,-17.00 L-4.55,-5.50Z" fill="#e7e441"/><path d="M0,0 L0.00,-17.00 L4.55,-5.50Z" fill="#c2bc2b"/><path d="M0,0 L15.30,-5.50 L4.55,-5.50Z" fill="#f9f74b"/><path d="M0,0 L15.30,-5.50 L7.35,1.90Z" fill="#b0a820"/><path d="M0,0 L9.40,12.20 L7.35,1.90Z" fill="#d8d438"/><path d="M0,0 L9.40,12.20 L0.00,7.40Z" fill="#d1cb33"/><path d="M0,0 L-9.40,12.20 L0.00,7.40Z" fill="#b3ab21"/><path d="M0,0 L-9.40,12.20 L-7.35,1.90Z" fill="#f6f44a"/><path d="M0,0 L-15.10,-5.50 L-7.35,1.90Z" fill="#bcb527"/><path d="M0,0 L-15.10,-5.50 L-4.55,-5.50Z" fill="#edea44"/><path d="M0,0 L0.00,-17.00 M0,0 L15.30,-5.50 M0,0 L9.40,12.20 M0,0 L-9.40,12.20 M0,0 L-15.10,-5.50 " stroke="#7a7210" stroke-width="0.6" fill="none" opacity="0.7"/><path d="M0,0 L4.55,-5.50 M0,0 L7.35,1.90 M0,0 L0.00,7.40 M0,0 L-7.35,1.90 M0,0 L-4.55,-5.50 " stroke="#8a8214" stroke-width="0.5" fill="none" opacity="0.45"/><path d="M0.00,-17.00 L4.55,-5.50 L15.30,-5.50 L7.35,1.90 L9.40,12.20 L0.00,7.40 L-9.40,12.20 L-7.35,1.90 L-15.10,-5.50 L-4.55,-5.50Z" fill="none" stroke="#1a1a00" stroke-width="1.15" stroke-linejoin="miter" stroke-miterlimit="10"/></g></g>
<g transform="translate(402.90,51.50)"><g><path d="M0.00,-17.00 L4.55,-5.50 L15.30,-5.50 L7.35,1.90 L9.40,12.20 L0.00,7.40 L-9.40,12.20 L-7.35,1.90 L-15.10,-5.50 L-4.55,-5.50Z" fill="#909090" opacity="0.7" transform="translate(2.2,2.5)" filter="url(#bl)"/><path d="M0.00,-17.00 L4.55,-5.50 L15.30,-5.50 L7.35,1.90 L9.40,12.20 L0.00,7.40 L-9.40,12.20 L-7.35,1.90 L-15.10,-5.50 L-4.55,-5.50Z" fill="#d8d23e"/><path d="M0,0 L0.00,-17.00 L-4.55,-5.50Z" fill="#e7e441"/><path d="M0,0 L0.00,-17.00 L4.55,-5.50Z" fill="#c2bc2b"/><path d="M0,0 L15.30,-5.50 L4.55,-5.50Z" fill="#f9f74b"/><path d="M0,0 L15.30,-5.50 L7.35,1.90Z" fill="#b0a820"/><path d="M0,0 L9.40,12.20 L7.35,1.90Z" fill="#d8d438"/><path d="M0,0 L9.40,12.20 L0.00,7.40Z" fill="#d1cb33"/><path d="M0,0 L-9.40,12.20 L0.00,7.40Z" fill="#b3ab21"/><path d="M0,0 L-9.40,12.20 L-7.35,1.90Z" fill="#f6f44a"/><path d="M0,0 L-15.10,-5.50 L-7.35,1.90Z" fill="#bcb527"/><path d="M0,0 L-15.10,-5.50 L-4.55,-5.50Z" fill="#edea44"/><path d="M0,0 L0.00,-17.00 M0,0 L15.30,-5.50 M0,0 L9.40,12.20 M0,0 L-9.40,12.20 M0,0 L-15.10,-5.50 " stroke="#7a7210" stroke-width="0.6" fill="none" opacity="0.7"/><path d="M0,0 L4.55,-5.50 M0,0 L7.35,1.90 M0,0 L0.00,7.40 M0,0 L-7.35,1.90 M0,0 L-4.55,-5.50 " stroke="#8a8214" stroke-width="0.5" fill="none" opacity="0.45"/><path d="M0.00,-17.00 L4.55,-5.50 L15.30,-5.50 L7.35,1.90 L9.40,12.20 L0.00,7.40 L-9.40,12.20 L-7.35,1.90 L-15.10,-5.50 L-4.55,-5.50Z" fill="none" stroke="#1a1a00" stroke-width="1.15" stroke-linejoin="miter" stroke-miterlimit="10"/></g></g>
<g transform="translate(402.90,1037.50)"><g><path d="M0.00,-17.00 L4.55,-5.50 L15.30,-5.50 L7.35,1.90 L9.40,12.20 L0.00,7.40 L-9.40,12.20 L-7.35,1.90 L-15.10,-5.50 L-4.55,-5.50Z" fill="#909090" opacity="0.7" transform="translate(2.2,2.5)" filter="url(#bl)"/><path d="M0.00,-17.00 L4.55,-5.50 L15.30,-5.50 L7.35,1.90 L9.40,12.20 L0.00,7.40 L-9.40,12.20 L-7.35,1.90 L-15.10,-5.50 L-4.55,-5.50Z" fill="#d8d23e"/><path d="M0,0 L0.00,-17.00 L-4.55,-5.50Z" fill="#e7e441"/><path d="M0,0 L0.00,-17.00 L4.55,-5.50Z" fill="#c2bc2b"/><path d="M0,0 L15.30,-5.50 L4.55,-5.50Z" fill="#f9f74b"/><path d="M0,0 L15.30,-5.50 L7.35,1.90Z" fill="#b0a820"/><path d="M0,0 L9.40,12.20 L7.35,1.90Z" fill="#d8d438"/><path d="M0,0 L9.40,12.20 L0.00,7.40Z" fill="#d1cb33"/><path d="M0,0 L-9.40,12.20 L0.00,7.40Z" fill="#b3ab21"/><path d="M0,0 L-9.40,12.20 L-7.35,1.90Z" fill="#f6f44a"/><path d="M0,0 L-15.10,-5.50 L-7.35,1.90Z" fill="#bcb527"/><path d="M0,0 L-15.10,-5.50 L-4.55,-5.50Z" fill="#edea44"/><path d="M0,0 L0.00,-17.00 M0,0 L15.30,-5.50 M0,0 L9.40,12.20 M0,0 L-9.40,12.20 M0,0 L-15.10,-5.50 " stroke="#7a7210" stroke-width="0.6" fill="none" opacity="0.7"/><path d="M0,0 L4.55,-5.50 M0,0 L7.35,1.90 M0,0 L0.00,7.40 M0,0 L-7.35,1.90 M0,0 L-4.55,-5.50 " stroke="#8a8214" stroke-width="0.5" fill="none" opacity="0.45"/><path d="M0.00,-17.00 L4.55,-5.50 L15.30,-5.50 L7.35,1.90 L9.40,12.20 L0.00,7.40 L-9.40,12.20 L-7.35,1.90 L-15.10,-5.50 L-4.55,-5.50Z" fill="none" stroke="#1a1a00" stroke-width="1.15" stroke-linejoin="miter" stroke-miterlimit="10"/></g></g>
<g transform="translate(442.40,51.50)"><g><path d="M0.00,-17.00 L4.55,-5.50 L15.30,-5.50 L7.35,1.90 L9.40,12.20 L0.00,7.40 L-9.40,12.20 L-7.35,1.90 L-15.10,-5.50 L-4.55,-5.50Z" fill="#909090" opacity="0.7" transform="translate(2.2,2.5)" filter="url(#bl)"/><path d="M0.00,-17.00 L4.55,-5.50 L15.30,-5.50 L7.35,1.90 L9.40,12.20 L0.00,7.40 L-9.40,12.20 L-7.35,1.90 L-15.10,-5.50 L-4.55,-5.50Z" fill="#d8d23e"/><path d="M0,0 L0.00,-17.00 L-4.55,-5.50Z" fill="#e7e441"/><path d="M0,0 L0.00,-17.00 L4.55,-5.50Z" fill="#c2bc2b"/><path d="M0,0 L15.30,-5.50 L4.55,-5.50Z" fill="#f9f74b"/><path d="M0,0 L15.30,-5.50 L7.35,1.90Z" fill="#b0a820"/><path d="M0,0 L9.40,12.20 L7.35,1.90Z" fill="#d8d438"/><path d="M0,0 L9.40,12.20 L0.00,7.40Z" fill="#d1cb33"/><path d="M0,0 L-9.40,12.20 L0.00,7.40Z" fill="#b3ab21"/><path d="M0,0 L-9.40,12.20 L-7.35,1.90Z" fill="#f6f44a"/><path d="M0,0 L-15.10,-5.50 L-7.35,1.90Z" fill="#bcb527"/><path d="M0,0 L-15.10,-5.50 L-4.55,-5.50Z" fill="#edea44"/><path d="M0,0 L0.00,-17.00 M0,0 L15.30,-5.50 M0,0 L9.40,12.20 M0,0 L-9.40,12.20 M0,0 L-15.10,-5.50 " stroke="#7a7210" stroke-width="0.6" fill="none" opacity="0.7"/><path d="M0,0 L4.55,-5.50 M0,0 L7.35,1.90 M0,0 L0.00,7.40 M0,0 L-7.35,1.90 M0,0 L-4.55,-5.50 " stroke="#8a8214" stroke-width="0.5" fill="none" opacity="0.45"/><path d="M0.00,-17.00 L4.55,-5.50 L15.30,-5.50 L7.35,1.90 L9.40,12.20 L0.00,7.40 L-9.40,12.20 L-7.35,1.90 L-15.10,-5.50 L-4.55,-5.50Z" fill="none" stroke="#1a1a00" stroke-width="1.15" stroke-linejoin="miter" stroke-miterlimit="10"/></g></g>
<g transform="translate(442.40,1037.50)"><g><path d="M0.00,-17.00 L4.55,-5.50 L15.30,-5.50 L7.35,1.90 L9.40,12.20 L0.00,7.40 L-9.40,12.20 L-7.35,1.90 L-15.10,-5.50 L-4.55,-5.50Z" fill="#909090" opacity="0.7" transform="translate(2.2,2.5)" filter="url(#bl)"/><path d="M0.00,-17.00 L4.55,-5.50 L15.30,-5.50 L7.35,1.90 L9.40,12.20 L0.00,7.40 L-9.40,12.20 L-7.35,1.90 L-15.10,-5.50 L-4.55,-5.50Z" fill="#d8d23e"/><path d="M0,0 L0.00,-17.00 L-4.55,-5.50Z" fill="#e7e441"/><path d="M0,0 L0.00,-17.00 L4.55,-5.50Z" fill="#c2bc2b"/><path d="M0,0 L15.30,-5.50 L4.55,-5.50Z" fill="#f9f74b"/><path d="M0,0 L15.30,-5.50 L7.35,1.90Z" fill="#b0a820"/><path d="M0,0 L9.40,12.20 L7.35,1.90Z" fill="#d8d438"/><path d="M0,0 L9.40,12.20 L0.00,7.40Z" fill="#d1cb33"/><path d="M0,0 L-9.40,12.20 L0.00,7.40Z" fill="#b3ab21"/><path d="M0,0 L-9.40,12.20 L-7.35,1.90Z" fill="#f6f44a"/><path d="M0,0 L-15.10,-5.50 L-7.35,1.90Z" fill="#bcb527"/><path d="M0,0 L-15.10,-5.50 L-4.55,-5.50Z" fill="#edea44"/><path d="M0,0 L0.00,-17.00 M0,0 L15.30,-5.50 M0,0 L9.40,12.20 M0,0 L-9.40,12.20 M0,0 L-15.10,-5.50 " stroke="#7a7210" stroke-width="0.6" fill="none" opacity="0.7"/><path d="M0,0 L4.55,-5.50 M0,0 L7.35,1.90 M0,0 L0.00,7.40 M0,0 L-7.35,1.90 M0,0 L-4.55,-5.50 " stroke="#8a8214" stroke-width="0.5" fill="none" opacity="0.45"/><path d="M0.00,-17.00 L4.55,-5.50 L15.30,-5.50 L7.35,1.90 L9.40,12.20 L0.00,7.40 L-9.40,12.20 L-7.35,1.90 L-15.10,-5.50 L-4.55,-5.50Z" fill="none" stroke="#1a1a00" stroke-width="1.15" stroke-linejoin="miter" stroke-miterlimit="10"/></g></g>
<g transform="translate(481.30,51.50)"><g><path d="M0.00,-17.00 L4.55,-5.50 L15.30,-5.50 L7.35,1.90 L9.40,12.20 L0.00,7.40 L-9.40,12.20 L-7.35,1.90 L-15.10,-5.50 L-4.55,-5.50Z" fill="#909090" opacity="0.7" transform="translate(2.2,2.5)" filter="url(#bl)"/><path d="M0.00,-17.00 L4.55,-5.50 L15.30,-5.50 L7.35,1.90 L9.40,12.20 L0.00,7.40 L-9.40,12.20 L-7.35,1.90 L-15.10,-5.50 L-4.55,-5.50Z" fill="#d8d23e"/><path d="M0,0 L0.00,-17.00 L-4.55,-5.50Z" fill="#e7e441"/><path d="M0,0 L0.00,-17.00 L4.55,-5.50Z" fill="#c2bc2b"/><path d="M0,0 L15.30,-5.50 L4.55,-5.50Z" fill="#f9f74b"/><path d="M0,0 L15.30,-5.50 L7.35,1.90Z" fill="#b0a820"/><path d="M0,0 L9.40,12.20 L7.35,1.90Z" fill="#d8d438"/><path d="M0,0 L9.40,12.20 L0.00,7.40Z" fill="#d1cb33"/><path d="M0,0 L-9.40,12.20 L0.00,7.40Z" fill="#b3ab21"/><path d="M0,0 L-9.40,12.20 L-7.35,1.90Z" fill="#f6f44a"/><path d="M0,0 L-15.10,-5.50 L-7.35,1.90Z" fill="#bcb527"/><path d="M0,0 L-15.10,-5.50 L-4.55,-5.50Z" fill="#edea44"/><path d="M0,0 L0.00,-17.00 M0,0 L15.30,-5.50 M0,0 L9.40,12.20 M0,0 L-9.40,12.20 M0,0 L-15.10,-5.50 " stroke="#7a7210" stroke-width="0.6" fill="none" opacity="0.7"/><path d="M0,0 L4.55,-5.50 M0,0 L7.35,1.90 M0,0 L0.00,7.40 M0,0 L-7.35,1.90 M0,0 L-4.55,-5.50 " stroke="#8a8214" stroke-width="0.5" fill="none" opacity="0.45"/><path d="M0.00,-17.00 L4.55,-5.50 L15.30,-5.50 L7.35,1.90 L9.40,12.20 L0.00,7.40 L-9.40,12.20 L-7.35,1.90 L-15.10,-5.50 L-4.55,-5.50Z" fill="none" stroke="#1a1a00" stroke-width="1.15" stroke-linejoin="miter" stroke-miterlimit="10"/></g></g>
<g transform="translate(481.30,1037.50)"><g><path d="M0.00,-17.00 L4.55,-5.50 L15.30,-5.50 L7.35,1.90 L9.40,12.20 L0.00,7.40 L-9.40,12.20 L-7.35,1.90 L-15.10,-5.50 L-4.55,-5.50Z" fill="#909090" opacity="0.7" transform="translate(2.2,2.5)" filter="url(#bl)"/><path d="M0.00,-17.00 L4.55,-5.50 L15.30,-5.50 L7.35,1.90 L9.40,12.20 L0.00,7.40 L-9.40,12.20 L-7.35,1.90 L-15.10,-5.50 L-4.55,-5.50Z" fill="#d8d23e"/><path d="M0,0 L0.00,-17.00 L-4.55,-5.50Z" fill="#e7e441"/><path d="M0,0 L0.00,-17.00 L4.55,-5.50Z" fill="#c2bc2b"/><path d="M0,0 L15.30,-5.50 L4.55,-5.50Z" fill="#f9f74b"/><path d="M0,0 L15.30,-5.50 L7.35,1.90Z" fill="#b0a820"/><path d="M0,0 L9.40,12.20 L7.35,1.90Z" fill="#d8d438"/><path d="M0,0 L9.40,12.20 L0.00,7.40Z" fill="#d1cb33"/><path d="M0,0 L-9.40,12.20 L0.00,7.40Z" fill="#b3ab21"/><path d="M0,0 L-9.40,12.20 L-7.35,1.90Z" fill="#f6f44a"/><path d="M0,0 L-15.10,-5.50 L-7.35,1.90Z" fill="#bcb527"/><path d="M0,0 L-15.10,-5.50 L-4.55,-5.50Z" fill="#edea44"/><path d="M0,0 L0.00,-17.00 M0,0 L15.30,-5.50 M0,0 L9.40,12.20 M0,0 L-9.40,12.20 M0,0 L-15.10,-5.50 " stroke="#7a7210" stroke-width="0.6" fill="none" opacity="0.7"/><path d="M0,0 L4.55,-5.50 M0,0 L7.35,1.90 M0,0 L0.00,7.40 M0,0 L-7.35,1.90 M0,0 L-4.55,-5.50 " stroke="#8a8214" stroke-width="0.5" fill="none" opacity="0.45"/><path d="M0.00,-17.00 L4.55,-5.50 L15.30,-5.50 L7.35,1.90 L9.40,12.20 L0.00,7.40 L-9.40,12.20 L-7.35,1.90 L-15.10,-5.50 L-4.55,-5.50Z" fill="none" stroke="#1a1a00" stroke-width="1.15" stroke-linejoin="miter" stroke-miterlimit="10"/></g></g>
<g transform="translate(520.70,51.50)"><g><path d="M0.00,-17.00 L4.55,-5.50 L15.30,-5.50 L7.35,1.90 L9.40,12.20 L0.00,7.40 L-9.40,12.20 L-7.35,1.90 L-15.10,-5.50 L-4.55,-5.50Z" fill="#909090" opacity="0.7" transform="translate(2.2,2.5)" filter="url(#bl)"/><path d="M0.00,-17.00 L4.55,-5.50 L15.30,-5.50 L7.35,1.90 L9.40,12.20 L0.00,7.40 L-9.40,12.20 L-7.35,1.90 L-15.10,-5.50 L-4.55,-5.50Z" fill="#d8d23e"/><path d="M0,0 L0.00,-17.00 L-4.55,-5.50Z" fill="#e7e441"/><path d="M0,0 L0.00,-17.00 L4.55,-5.50Z" fill="#c2bc2b"/><path d="M0,0 L15.30,-5.50 L4.55,-5.50Z" fill="#f9f74b"/><path d="M0,0 L15.30,-5.50 L7.35,1.90Z" fill="#b0a820"/><path d="M0,0 L9.40,12.20 L7.35,1.90Z" fill="#d8d438"/><path d="M0,0 L9.40,12.20 L0.00,7.40Z" fill="#d1cb33"/><path d="M0,0 L-9.40,12.20 L0.00,7.40Z" fill="#b3ab21"/><path d="M0,0 L-9.40,12.20 L-7.35,1.90Z" fill="#f6f44a"/><path d="M0,0 L-15.10,-5.50 L-7.35,1.90Z" fill="#bcb527"/><path d="M0,0 L-15.10,-5.50 L-4.55,-5.50Z" fill="#edea44"/><path d="M0,0 L0.00,-17.00 M0,0 L15.30,-5.50 M0,0 L9.40,12.20 M0,0 L-9.40,12.20 M0,0 L-15.10,-5.50 " stroke="#7a7210" stroke-width="0.6" fill="none" opacity="0.7"/><path d="M0,0 L4.55,-5.50 M0,0 L7.35,1.90 M0,0 L0.00,7.40 M0,0 L-7.35,1.90 M0,0 L-4.55,-5.50 " stroke="#8a8214" stroke-width="0.5" fill="none" opacity="0.45"/><path d="M0.00,-17.00 L4.55,-5.50 L15.30,-5.50 L7.35,1.90 L9.40,12.20 L0.00,7.40 L-9.40,12.20 L-7.35,1.90 L-15.10,-5.50 L-4.55,-5.50Z" fill="none" stroke="#1a1a00" stroke-width="1.15" stroke-linejoin="miter" stroke-miterlimit="10"/></g></g>
<g transform="translate(520.70,1037.50)"><g><path d="M0.00,-17.00 L4.55,-5.50 L15.30,-5.50 L7.35,1.90 L9.40,12.20 L0.00,7.40 L-9.40,12.20 L-7.35,1.90 L-15.10,-5.50 L-4.55,-5.50Z" fill="#909090" opacity="0.7" transform="translate(2.2,2.5)" filter="url(#bl)"/><path d="M0.00,-17.00 L4.55,-5.50 L15.30,-5.50 L7.35,1.90 L9.40,12.20 L0.00,7.40 L-9.40,12.20 L-7.35,1.90 L-15.10,-5.50 L-4.55,-5.50Z" fill="#d8d23e"/><path d="M0,0 L0.00,-17.00 L-4.55,-5.50Z" fill="#e7e441"/><path d="M0,0 L0.00,-17.00 L4.55,-5.50Z" fill="#c2bc2b"/><path d="M0,0 L15.30,-5.50 L4.55,-5.50Z" fill="#f9f74b"/><path d="M0,0 L15.30,-5.50 L7.35,1.90Z" fill="#b0a820"/><path d="M0,0 L9.40,12.20 L7.35,1.90Z" fill="#d8d438"/><path d="M0,0 L9.40,12.20 L0.00,7.40Z" fill="#d1cb33"/><path d="M0,0 L-9.40,12.20 L0.00,7.40Z" fill="#b3ab21"/><path d="M0,0 L-9.40,12.20 L-7.35,1.90Z" fill="#f6f44a"/><path d="M0,0 L-15.10,-5.50 L-7.35,1.90Z" fill="#bcb527"/><path d="M0,0 L-15.10,-5.50 L-4.55,-5.50Z" fill="#edea44"/><path d="M0,0 L0.00,-17.00 M0,0 L15.30,-5.50 M0,0 L9.40,12.20 M0,0 L-9.40,12.20 M0,0 L-15.10,-5.50 " stroke="#7a7210" stroke-width="0.6" fill="none" opacity="0.7"/><path d="M0,0 L4.55,-5.50 M0,0 L7.35,1.90 M0,0 L0.00,7.40 M0,0 L-7.35,1.90 M0,0 L-4.55,-5.50 " stroke="#8a8214" stroke-width="0.5" fill="none" opacity="0.45"/><path d="M0.00,-17.00 L4.55,-5.50 L15.30,-5.50 L7.35,1.90 L9.40,12.20 L0.00,7.40 L-9.40,12.20 L-7.35,1.90 L-15.10,-5.50 L-4.55,-5.50Z" fill="none" stroke="#1a1a00" stroke-width="1.15" stroke-linejoin="miter" stroke-miterlimit="10"/></g></g>
<g transform="translate(560.60,51.50)"><g><path d="M0.00,-17.00 L4.55,-5.50 L15.30,-5.50 L7.35,1.90 L9.40,12.20 L0.00,7.40 L-9.40,12.20 L-7.35,1.90 L-15.10,-5.50 L-4.55,-5.50Z" fill="#909090" opacity="0.7" transform="translate(2.2,2.5)" filter="url(#bl)"/><path d="M0.00,-17.00 L4.55,-5.50 L15.30,-5.50 L7.35,1.90 L9.40,12.20 L0.00,7.40 L-9.40,12.20 L-7.35,1.90 L-15.10,-5.50 L-4.55,-5.50Z" fill="#d8d23e"/><path d="M0,0 L0.00,-17.00 L-4.55,-5.50Z" fill="#e7e441"/><path d="M0,0 L0.00,-17.00 L4.55,-5.50Z" fill="#c2bc2b"/><path d="M0,0 L15.30,-5.50 L4.55,-5.50Z" fill="#f9f74b"/><path d="M0,0 L15.30,-5.50 L7.35,1.90Z" fill="#b0a820"/><path d="M0,0 L9.40,12.20 L7.35,1.90Z" fill="#d8d438"/><path d="M0,0 L9.40,12.20 L0.00,7.40Z" fill="#d1cb33"/><path d="M0,0 L-9.40,12.20 L0.00,7.40Z" fill="#b3ab21"/><path d="M0,0 L-9.40,12.20 L-7.35,1.90Z" fill="#f6f44a"/><path d="M0,0 L-15.10,-5.50 L-7.35,1.90Z" fill="#bcb527"/><path d="M0,0 L-15.10,-5.50 L-4.55,-5.50Z" fill="#edea44"/><path d="M0,0 L0.00,-17.00 M0,0 L15.30,-5.50 M0,0 L9.40,12.20 M0,0 L-9.40,12.20 M0,0 L-15.10,-5.50 " stroke="#7a7210" stroke-width="0.6" fill="none" opacity="0.7"/><path d="M0,0 L4.55,-5.50 M0,0 L7.35,1.90 M0,0 L0.00,7.40 M0,0 L-7.35,1.90 M0,0 L-4.55,-5.50 " stroke="#8a8214" stroke-width="0.5" fill="none" opacity="0.45"/><path d="M0.00,-17.00 L4.55,-5.50 L15.30,-5.50 L7.35,1.90 L9.40,12.20 L0.00,7.40 L-9.40,12.20 L-7.35,1.90 L-15.10,-5.50 L-4.55,-5.50Z" fill="none" stroke="#1a1a00" stroke-width="1.15" stroke-linejoin="miter" stroke-miterlimit="10"/></g></g>
<g transform="translate(560.60,1037.50)"><g><path d="M0.00,-17.00 L4.55,-5.50 L15.30,-5.50 L7.35,1.90 L9.40,12.20 L0.00,7.40 L-9.40,12.20 L-7.35,1.90 L-15.10,-5.50 L-4.55,-5.50Z" fill="#909090" opacity="0.7" transform="translate(2.2,2.5)" filter="url(#bl)"/><path d="M0.00,-17.00 L4.55,-5.50 L15.30,-5.50 L7.35,1.90 L9.40,12.20 L0.00,7.40 L-9.40,12.20 L-7.35,1.90 L-15.10,-5.50 L-4.55,-5.50Z" fill="#d8d23e"/><path d="M0,0 L0.00,-17.00 L-4.55,-5.50Z" fill="#e7e441"/><path d="M0,0 L0.00,-17.00 L4.55,-5.50Z" fill="#c2bc2b"/><path d="M0,0 L15.30,-5.50 L4.55,-5.50Z" fill="#f9f74b"/><path d="M0,0 L15.30,-5.50 L7.35,1.90Z" fill="#b0a820"/><path d="M0,0 L9.40,12.20 L7.35,1.90Z" fill="#d8d438"/><path d="M0,0 L9.40,12.20 L0.00,7.40Z" fill="#d1cb33"/><path d="M0,0 L-9.40,12.20 L0.00,7.40Z" fill="#b3ab21"/><path d="M0,0 L-9.40,12.20 L-7.35,1.90Z" fill="#f6f44a"/><path d="M0,0 L-15.10,-5.50 L-7.35,1.90Z" fill="#bcb527"/><path d="M0,0 L-15.10,-5.50 L-4.55,-5.50Z" fill="#edea44"/><path d="M0,0 L0.00,-17.00 M0,0 L15.30,-5.50 M0,0 L9.40,12.20 M0,0 L-9.40,12.20 M0,0 L-15.10,-5.50 " stroke="#7a7210" stroke-width="0.6" fill="none" opacity="0.7"/><path d="M0,0 L4.55,-5.50 M0,0 L7.35,1.90 M0,0 L0.00,7.40 M0,0 L-7.35,1.90 M0,0 L-4.55,-5.50 " stroke="#8a8214" stroke-width="0.5" fill="none" opacity="0.45"/><path d="M0.00,-17.00 L4.55,-5.50 L15.30,-5.50 L7.35,1.90 L9.40,12.20 L0.00,7.40 L-9.40,12.20 L-7.35,1.90 L-15.10,-5.50 L-4.55,-5.50Z" fill="none" stroke="#1a1a00" stroke-width="1.15" stroke-linejoin="miter" stroke-miterlimit="10"/></g></g>
<g transform="translate(599.60,51.50)"><g><path d="M0.00,-17.00 L4.55,-5.50 L15.30,-5.50 L7.35,1.90 L9.40,12.20 L0.00,7.40 L-9.40,12.20 L-7.35,1.90 L-15.10,-5.50 L-4.55,-5.50Z" fill="#909090" opacity="0.7" transform="translate(2.2,2.5)" filter="url(#bl)"/><path d="M0.00,-17.00 L4.55,-5.50 L15.30,-5.50 L7.35,1.90 L9.40,12.20 L0.00,7.40 L-9.40,12.20 L-7.35,1.90 L-15.10,-5.50 L-4.55,-5.50Z" fill="#d8d23e"/><path d="M0,0 L0.00,-17.00 L-4.55,-5.50Z" fill="#e7e441"/><path d="M0,0 L0.00,-17.00 L4.55,-5.50Z" fill="#c2bc2b"/><path d="M0,0 L15.30,-5.50 L4.55,-5.50Z" fill="#f9f74b"/><path d="M0,0 L15.30,-5.50 L7.35,1.90Z" fill="#b0a820"/><path d="M0,0 L9.40,12.20 L7.35,1.90Z" fill="#d8d438"/><path d="M0,0 L9.40,12.20 L0.00,7.40Z" fill="#d1cb33"/><path d="M0,0 L-9.40,12.20 L0.00,7.40Z" fill="#b3ab21"/><path d="M0,0 L-9.40,12.20 L-7.35,1.90Z" fill="#f6f44a"/><path d="M0,0 L-15.10,-5.50 L-7.35,1.90Z" fill="#bcb527"/><path d="M0,0 L-15.10,-5.50 L-4.55,-5.50Z" fill="#edea44"/><path d="M0,0 L0.00,-17.00 M0,0 L15.30,-5.50 M0,0 L9.40,12.20 M0,0 L-9.40,12.20 M0,0 L-15.10,-5.50 " stroke="#7a7210" stroke-width="0.6" fill="none" opacity="0.7"/><path d="M0,0 L4.55,-5.50 M0,0 L7.35,1.90 M0,0 L0.00,7.40 M0,0 L-7.35,1.90 M0,0 L-4.55,-5.50 " stroke="#8a8214" stroke-width="0.5" fill="none" opacity="0.45"/><path d="M0.00,-17.00 L4.55,-5.50 L15.30,-5.50 L7.35,1.90 L9.40,12.20 L0.00,7.40 L-9.40,12.20 L-7.35,1.90 L-15.10,-5.50 L-4.55,-5.50Z" fill="none" stroke="#1a1a00" stroke-width="1.15" stroke-linejoin="miter" stroke-miterlimit="10"/></g></g>
<g transform="translate(599.60,1037.50)"><g><path d="M0.00,-17.00 L4.55,-5.50 L15.30,-5.50 L7.35,1.90 L9.40,12.20 L0.00,7.40 L-9.40,12.20 L-7.35,1.90 L-15.10,-5.50 L-4.55,-5.50Z" fill="#909090" opacity="0.7" transform="translate(2.2,2.5)" filter="url(#bl)"/><path d="M0.00,-17.00 L4.55,-5.50 L15.30,-5.50 L7.35,1.90 L9.40,12.20 L0.00,7.40 L-9.40,12.20 L-7.35,1.90 L-15.10,-5.50 L-4.55,-5.50Z" fill="#d8d23e"/><path d="M0,0 L0.00,-17.00 L-4.55,-5.50Z" fill="#e7e441"/><path d="M0,0 L0.00,-17.00 L4.55,-5.50Z" fill="#c2bc2b"/><path d="M0,0 L15.30,-5.50 L4.55,-5.50Z" fill="#f9f74b"/><path d="M0,0 L15.30,-5.50 L7.35,1.90Z" fill="#b0a820"/><path d="M0,0 L9.40,12.20 L7.35,1.90Z" fill="#d8d438"/><path d="M0,0 L9.40,12.20 L0.00,7.40Z" fill="#d1cb33"/><path d="M0,0 L-9.40,12.20 L0.00,7.40Z" fill="#b3ab21"/><path d="M0,0 L-9.40,12.20 L-7.35,1.90Z" fill="#f6f44a"/><path d="M0,0 L-15.10,-5.50 L-7.35,1.90Z" fill="#bcb527"/><path d="M0,0 L-15.10,-5.50 L-4.55,-5.50Z" fill="#edea44"/><path d="M0,0 L0.00,-17.00 M0,0 L15.30,-5.50 M0,0 L9.40,12.20 M0,0 L-9.40,12.20 M0,0 L-15.10,-5.50 " stroke="#7a7210" stroke-width="0.6" fill="none" opacity="0.7"/><path d="M0,0 L4.55,-5.50 M0,0 L7.35,1.90 M0,0 L0.00,7.40 M0,0 L-7.35,1.90 M0,0 L-4.55,-5.50 " stroke="#8a8214" stroke-width="0.5" fill="none" opacity="0.45"/><path d="M0.00,-17.00 L4.55,-5.50 L15.30,-5.50 L7.35,1.90 L9.40,12.20 L0.00,7.40 L-9.40,12.20 L-7.35,1.90 L-15.10,-5.50 L-4.55,-5.50Z" fill="none" stroke="#1a1a00" stroke-width="1.15" stroke-linejoin="miter" stroke-miterlimit="10"/></g></g>
<g transform="translate(639.40,51.50)"><g><path d="M0.00,-17.00 L4.55,-5.50 L15.30,-5.50 L7.35,1.90 L9.40,12.20 L0.00,7.40 L-9.40,12.20 L-7.35,1.90 L-15.10,-5.50 L-4.55,-5.50Z" fill="#909090" opacity="0.7" transform="translate(2.2,2.5)" filter="url(#bl)"/><path d="M0.00,-17.00 L4.55,-5.50 L15.30,-5.50 L7.35,1.90 L9.40,12.20 L0.00,7.40 L-9.40,12.20 L-7.35,1.90 L-15.10,-5.50 L-4.55,-5.50Z" fill="#d8d23e"/><path d="M0,0 L0.00,-17.00 L-4.55,-5.50Z" fill="#e7e441"/><path d="M0,0 L0.00,-17.00 L4.55,-5.50Z" fill="#c2bc2b"/><path d="M0,0 L15.30,-5.50 L4.55,-5.50Z" fill="#f9f74b"/><path d="M0,0 L15.30,-5.50 L7.35,1.90Z" fill="#b0a820"/><path d="M0,0 L9.40,12.20 L7.35,1.90Z" fill="#d8d438"/><path d="M0,0 L9.40,12.20 L0.00,7.40Z" fill="#d1cb33"/><path d="M0,0 L-9.40,12.20 L0.00,7.40Z" fill="#b3ab21"/><path d="M0,0 L-9.40,12.20 L-7.35,1.90Z" fill="#f6f44a"/><path d="M0,0 L-15.10,-5.50 L-7.35,1.90Z" fill="#bcb527"/><path d="M0,0 L-15.10,-5.50 L-4.55,-5.50Z" fill="#edea44"/><path d="M0,0 L0.00,-17.00 M0,0 L15.30,-5.50 M0,0 L9.40,12.20 M0,0 L-9.40,12.20 M0,0 L-15.10,-5.50 " stroke="#7a7210" stroke-width="0.6" fill="none" opacity="0.7"/><path d="M0,0 L4.55,-5.50 M0,0 L7.35,1.90 M0,0 L0.00,7.40 M0,0 L-7.35,1.90 M0,0 L-4.55,-5.50 " stroke="#8a8214" stroke-width="0.5" fill="none" opacity="0.45"/><path d="M0.00,-17.00 L4.55,-5.50 L15.30,-5.50 L7.35,1.90 L9.40,12.20 L0.00,7.40 L-9.40,12.20 L-7.35,1.90 L-15.10,-5.50 L-4.55,-5.50Z" fill="none" stroke="#1a1a00" stroke-width="1.15" stroke-linejoin="miter" stroke-miterlimit="10"/></g></g>
<g transform="translate(639.40,1037.50)"><g><path d="M0.00,-17.00 L4.55,-5.50 L15.30,-5.50 L7.35,1.90 L9.40,12.20 L0.00,7.40 L-9.40,12.20 L-7.35,1.90 L-15.10,-5.50 L-4.55,-5.50Z" fill="#909090" opacity="0.7" transform="translate(2.2,2.5)" filter="url(#bl)"/><path d="M0.00,-17.00 L4.55,-5.50 L15.30,-5.50 L7.35,1.90 L9.40,12.20 L0.00,7.40 L-9.40,12.20 L-7.35,1.90 L-15.10,-5.50 L-4.55,-5.50Z" fill="#d8d23e"/><path d="M0,0 L0.00,-17.00 L-4.55,-5.50Z" fill="#e7e441"/><path d="M0,0 L0.00,-17.00 L4.55,-5.50Z" fill="#c2bc2b"/><path d="M0,0 L15.30,-5.50 L4.55,-5.50Z" fill="#f9f74b"/><path d="M0,0 L15.30,-5.50 L7.35,1.90Z" fill="#b0a820"/><path d="M0,0 L9.40,12.20 L7.35,1.90Z" fill="#d8d438"/><path d="M0,0 L9.40,12.20 L0.00,7.40Z" fill="#d1cb33"/><path d="M0,0 L-9.40,12.20 L0.00,7.40Z" fill="#b3ab21"/><path d="M0,0 L-9.40,12.20 L-7.35,1.90Z" fill="#f6f44a"/><path d="M0,0 L-15.10,-5.50 L-7.35,1.90Z" fill="#bcb527"/><path d="M0,0 L-15.10,-5.50 L-4.55,-5.50Z" fill="#edea44"/><path d="M0,0 L0.00,-17.00 M0,0 L15.30,-5.50 M0,0 L9.40,12.20 M0,0 L-9.40,12.20 M0,0 L-15.10,-5.50 " stroke="#7a7210" stroke-width="0.6" fill="none" opacity="0.7"/><path d="M0,0 L4.55,-5.50 M0,0 L7.35,1.90 M0,0 L0.00,7.40 M0,0 L-7.35,1.90 M0,0 L-4.55,-5.50 " stroke="#8a8214" stroke-width="0.5" fill="none" opacity="0.45"/><path d="M0.00,-17.00 L4.55,-5.50 L15.30,-5.50 L7.35,1.90 L9.40,12.20 L0.00,7.40 L-9.40,12.20 L-7.35,1.90 L-15.10,-5.50 L-4.55,-5.50Z" fill="none" stroke="#1a1a00" stroke-width="1.15" stroke-linejoin="miter" stroke-miterlimit="10"/></g></g>
<g transform="translate(678.60,51.50)"><g><path d="M0.00,-17.00 L4.55,-5.50 L15.30,-5.50 L7.35,1.90 L9.40,12.20 L0.00,7.40 L-9.40,12.20 L-7.35,1.90 L-15.10,-5.50 L-4.55,-5.50Z" fill="#909090" opacity="0.7" transform="translate(2.2,2.5)" filter="url(#bl)"/><path d="M0.00,-17.00 L4.55,-5.50 L15.30,-5.50 L7.35,1.90 L9.40,12.20 L0.00,7.40 L-9.40,12.20 L-7.35,1.90 L-15.10,-5.50 L-4.55,-5.50Z" fill="#d8d23e"/><path d="M0,0 L0.00,-17.00 L-4.55,-5.50Z" fill="#e7e441"/><path d="M0,0 L0.00,-17.00 L4.55,-5.50Z" fill="#c2bc2b"/><path d="M0,0 L15.30,-5.50 L4.55,-5.50Z" fill="#f9f74b"/><path d="M0,0 L15.30,-5.50 L7.35,1.90Z" fill="#b0a820"/><path d="M0,0 L9.40,12.20 L7.35,1.90Z" fill="#d8d438"/><path d="M0,0 L9.40,12.20 L0.00,7.40Z" fill="#d1cb33"/><path d="M0,0 L-9.40,12.20 L0.00,7.40Z" fill="#b3ab21"/><path d="M0,0 L-9.40,12.20 L-7.35,1.90Z" fill="#f6f44a"/><path d="M0,0 L-15.10,-5.50 L-7.35,1.90Z" fill="#bcb527"/><path d="M0,0 L-15.10,-5.50 L-4.55,-5.50Z" fill="#edea44"/><path d="M0,0 L0.00,-17.00 M0,0 L15.30,-5.50 M0,0 L9.40,12.20 M0,0 L-9.40,12.20 M0,0 L-15.10,-5.50 " stroke="#7a7210" stroke-width="0.6" fill="none" opacity="0.7"/><path d="M0,0 L4.55,-5.50 M0,0 L7.35,1.90 M0,0 L0.00,7.40 M0,0 L-7.35,1.90 M0,0 L-4.55,-5.50 " stroke="#8a8214" stroke-width="0.5" fill="none" opacity="0.45"/><path d="M0.00,-17.00 L4.55,-5.50 L15.30,-5.50 L7.35,1.90 L9.40,12.20 L0.00,7.40 L-9.40,12.20 L-7.35,1.90 L-15.10,-5.50 L-4.55,-5.50Z" fill="none" stroke="#1a1a00" stroke-width="1.15" stroke-linejoin="miter" stroke-miterlimit="10"/></g></g>
<g transform="translate(678.60,1037.50)"><g><path d="M0.00,-17.00 L4.55,-5.50 L15.30,-5.50 L7.35,1.90 L9.40,12.20 L0.00,7.40 L-9.40,12.20 L-7.35,1.90 L-15.10,-5.50 L-4.55,-5.50Z" fill="#909090" opacity="0.7" transform="translate(2.2,2.5)" filter="url(#bl)"/><path d="M0.00,-17.00 L4.55,-5.50 L15.30,-5.50 L7.35,1.90 L9.40,12.20 L0.00,7.40 L-9.40,12.20 L-7.35,1.90 L-15.10,-5.50 L-4.55,-5.50Z" fill="#d8d23e"/><path d="M0,0 L0.00,-17.00 L-4.55,-5.50Z" fill="#e7e441"/><path d="M0,0 L0.00,-17.00 L4.55,-5.50Z" fill="#c2bc2b"/><path d="M0,0 L15.30,-5.50 L4.55,-5.50Z" fill="#f9f74b"/><path d="M0,0 L15.30,-5.50 L7.35,1.90Z" fill="#b0a820"/><path d="M0,0 L9.40,12.20 L7.35,1.90Z" fill="#d8d438"/><path d="M0,0 L9.40,12.20 L0.00,7.40Z" fill="#d1cb33"/><path d="M0,0 L-9.40,12.20 L0.00,7.40Z" fill="#b3ab21"/><path d="M0,0 L-9.40,12.20 L-7.35,1.90Z" fill="#f6f44a"/><path d="M0,0 L-15.10,-5.50 L-7.35,1.90Z" fill="#bcb527"/><path d="M0,0 L-15.10,-5.50 L-4.55,-5.50Z" fill="#edea44"/><path d="M0,0 L0.00,-17.00 M0,0 L15.30,-5.50 M0,0 L9.40,12.20 M0,0 L-9.40,12.20 M0,0 L-15.10,-5.50 " stroke="#7a7210" stroke-width="0.6" fill="none" opacity="0.7"/><path d="M0,0 L4.55,-5.50 M0,0 L7.35,1.90 M0,0 L0.00,7.40 M0,0 L-7.35,1.90 M0,0 L-4.55,-5.50 " stroke="#8a8214" stroke-width="0.5" fill="none" opacity="0.45"/><path d="M0.00,-17.00 L4.55,-5.50 L15.30,-5.50 L7.35,1.90 L9.40,12.20 L0.00,7.40 L-9.40,12.20 L-7.35,1.90 L-15.10,-5.50 L-4.55,-5.50Z" fill="none" stroke="#1a1a00" stroke-width="1.15" stroke-linejoin="miter" stroke-miterlimit="10"/></g></g>
<g transform="translate(717.60,51.50)"><g><path d="M0.00,-17.00 L4.55,-5.50 L15.30,-5.50 L7.35,1.90 L9.40,12.20 L0.00,7.40 L-9.40,12.20 L-7.35,1.90 L-15.10,-5.50 L-4.55,-5.50Z" fill="#909090" opacity="0.7" transform="translate(2.2,2.5)" filter="url(#bl)"/><path d="M0.00,-17.00 L4.55,-5.50 L15.30,-5.50 L7.35,1.90 L9.40,12.20 L0.00,7.40 L-9.40,12.20 L-7.35,1.90 L-15.10,-5.50 L-4.55,-5.50Z" fill="#d8d23e"/><path d="M0,0 L0.00,-17.00 L-4.55,-5.50Z" fill="#e7e441"/><path d="M0,0 L0.00,-17.00 L4.55,-5.50Z" fill="#c2bc2b"/><path d="M0,0 L15.30,-5.50 L4.55,-5.50Z" fill="#f9f74b"/><path d="M0,0 L15.30,-5.50 L7.35,1.90Z" fill="#b0a820"/><path d="M0,0 L9.40,12.20 L7.35,1.90Z" fill="#d8d438"/><path d="M0,0 L9.40,12.20 L0.00,7.40Z" fill="#d1cb33"/><path d="M0,0 L-9.40,12.20 L0.00,7.40Z" fill="#b3ab21"/><path d="M0,0 L-9.40,12.20 L-7.35,1.90Z" fill="#f6f44a"/><path d="M0,0 L-15.10,-5.50 L-7.35,1.90Z" fill="#bcb527"/><path d="M0,0 L-15.10,-5.50 L-4.55,-5.50Z" fill="#edea44"/><path d="M0,0 L0.00,-17.00 M0,0 L15.30,-5.50 M0,0 L9.40,12.20 M0,0 L-9.40,12.20 M0,0 L-15.10,-5.50 " stroke="#7a7210" stroke-width="0.6" fill="none" opacity="0.7"/><path d="M0,0 L4.55,-5.50 M0,0 L7.35,1.90 M0,0 L0.00,7.40 M0,0 L-7.35,1.90 M0,0 L-4.55,-5.50 " stroke="#8a8214" stroke-width="0.5" fill="none" opacity="0.45"/><path d="M0.00,-17.00 L4.55,-5.50 L15.30,-5.50 L7.35,1.90 L9.40,12.20 L0.00,7.40 L-9.40,12.20 L-7.35,1.90 L-15.10,-5.50 L-4.55,-5.50Z" fill="none" stroke="#1a1a00" stroke-width="1.15" stroke-linejoin="miter" stroke-miterlimit="10"/></g></g>
<g transform="translate(717.60,1037.50)"><g><path d="M0.00,-17.00 L4.55,-5.50 L15.30,-5.50 L7.35,1.90 L9.40,12.20 L0.00,7.40 L-9.40,12.20 L-7.35,1.90 L-15.10,-5.50 L-4.55,-5.50Z" fill="#909090" opacity="0.7" transform="translate(2.2,2.5)" filter="url(#bl)"/><path d="M0.00,-17.00 L4.55,-5.50 L15.30,-5.50 L7.35,1.90 L9.40,12.20 L0.00,7.40 L-9.40,12.20 L-7.35,1.90 L-15.10,-5.50 L-4.55,-5.50Z" fill="#d8d23e"/><path d="M0,0 L0.00,-17.00 L-4.55,-5.50Z" fill="#e7e441"/><path d="M0,0 L0.00,-17.00 L4.55,-5.50Z" fill="#c2bc2b"/><path d="M0,0 L15.30,-5.50 L4.55,-5.50Z" fill="#f9f74b"/><path d="M0,0 L15.30,-5.50 L7.35,1.90Z" fill="#b0a820"/><path d="M0,0 L9.40,12.20 L7.35,1.90Z" fill="#d8d438"/><path d="M0,0 L9.40,12.20 L0.00,7.40Z" fill="#d1cb33"/><path d="M0,0 L-9.40,12.20 L0.00,7.40Z" fill="#b3ab21"/><path d="M0,0 L-9.40,12.20 L-7.35,1.90Z" fill="#f6f44a"/><path d="M0,0 L-15.10,-5.50 L-7.35,1.90Z" fill="#bcb527"/><path d="M0,0 L-15.10,-5.50 L-4.55,-5.50Z" fill="#edea44"/><path d="M0,0 L0.00,-17.00 M0,0 L15.30,-5.50 M0,0 L9.40,12.20 M0,0 L-9.40,12.20 M0,0 L-15.10,-5.50 " stroke="#7a7210" stroke-width="0.6" fill="none" opacity="0.7"/><path d="M0,0 L4.55,-5.50 M0,0 L7.35,1.90 M0,0 L0.00,7.40 M0,0 L-7.35,1.90 M0,0 L-4.55,-5.50 " stroke="#8a8214" stroke-width="0.5" fill="none" opacity="0.45"/><path d="M0.00,-17.00 L4.55,-5.50 L15.30,-5.50 L7.35,1.90 L9.40,12.20 L0.00,7.40 L-9.40,12.20 L-7.35,1.90 L-15.10,-5.50 L-4.55,-5.50Z" fill="none" stroke="#1a1a00" stroke-width="1.15" stroke-linejoin="miter" stroke-miterlimit="10"/></g></g>
<g transform="translate(50.40,90.20)"><g><path d="M0.00,-17.00 L4.55,-5.50 L15.30,-5.50 L7.35,1.90 L9.40,12.20 L0.00,7.40 L-9.40,12.20 L-7.35,1.90 L-15.10,-5.50 L-4.55,-5.50Z" fill="#909090" opacity="0.7" transform="translate(2.2,2.5)" filter="url(#bl)"/><path d="M0.00,-17.00 L4.55,-5.50 L15.30,-5.50 L7.35,1.90 L9.40,12.20 L0.00,7.40 L-9.40,12.20 L-7.35,1.90 L-15.10,-5.50 L-4.55,-5.50Z" fill="#d8d23e"/><path d="M0,0 L0.00,-17.00 L-4.55,-5.50Z" fill="#e7e441"/><path d="M0,0 L0.00,-17.00 L4.55,-5.50Z" fill="#c2bc2b"/><path d="M0,0 L15.30,-5.50 L4.55,-5.50Z" fill="#f9f74b"/><path d="M0,0 L15.30,-5.50 L7.35,1.90Z" fill="#b0a820"/><path d="M0,0 L9.40,12.20 L7.35,1.90Z" fill="#d8d438"/><path d="M0,0 L9.40,12.20 L0.00,7.40Z" fill="#d1cb33"/><path d="M0,0 L-9.40,12.20 L0.00,7.40Z" fill="#b3ab21"/><path d="M0,0 L-9.40,12.20 L-7.35,1.90Z" fill="#f6f44a"/><path d="M0,0 L-15.10,-5.50 L-7.35,1.90Z" fill="#bcb527"/><path d="M0,0 L-15.10,-5.50 L-4.55,-5.50Z" fill="#edea44"/><path d="M0,0 L0.00,-17.00 M0,0 L15.30,-5.50 M0,0 L9.40,12.20 M0,0 L-9.40,12.20 M0,0 L-15.10,-5.50 " stroke="#7a7210" stroke-width="0.6" fill="none" opacity="0.7"/><path d="M0,0 L4.55,-5.50 M0,0 L7.35,1.90 M0,0 L0.00,7.40 M0,0 L-7.35,1.90 M0,0 L-4.55,-5.50 " stroke="#8a8214" stroke-width="0.5" fill="none" opacity="0.45"/><path d="M0.00,-17.00 L4.55,-5.50 L15.30,-5.50 L7.35,1.90 L9.40,12.20 L0.00,7.40 L-9.40,12.20 L-7.35,1.90 L-15.10,-5.50 L-4.55,-5.50Z" fill="none" stroke="#1a1a00" stroke-width="1.15" stroke-linejoin="miter" stroke-miterlimit="10"/></g></g>
<g transform="translate(717.60,90.20)"><g><path d="M0.00,-17.00 L4.55,-5.50 L15.30,-5.50 L7.35,1.90 L9.40,12.20 L0.00,7.40 L-9.40,12.20 L-7.35,1.90 L-15.10,-5.50 L-4.55,-5.50Z" fill="#909090" opacity="0.7" transform="translate(2.2,2.5)" filter="url(#bl)"/><path d="M0.00,-17.00 L4.55,-5.50 L15.30,-5.50 L7.35,1.90 L9.40,12.20 L0.00,7.40 L-9.40,12.20 L-7.35,1.90 L-15.10,-5.50 L-4.55,-5.50Z" fill="#d8d23e"/><path d="M0,0 L0.00,-17.00 L-4.55,-5.50Z" fill="#e7e441"/><path d="M0,0 L0.00,-17.00 L4.55,-5.50Z" fill="#c2bc2b"/><path d="M0,0 L15.30,-5.50 L4.55,-5.50Z" fill="#f9f74b"/><path d="M0,0 L15.30,-5.50 L7.35,1.90Z" fill="#b0a820"/><path d="M0,0 L9.40,12.20 L7.35,1.90Z" fill="#d8d438"/><path d="M0,0 L9.40,12.20 L0.00,7.40Z" fill="#d1cb33"/><path d="M0,0 L-9.40,12.20 L0.00,7.40Z" fill="#b3ab21"/><path d="M0,0 L-9.40,12.20 L-7.35,1.90Z" fill="#f6f44a"/><path d="M0,0 L-15.10,-5.50 L-7.35,1.90Z" fill="#bcb527"/><path d="M0,0 L-15.10,-5.50 L-4.55,-5.50Z" fill="#edea44"/><path d="M0,0 L0.00,-17.00 M0,0 L15.30,-5.50 M0,0 L9.40,12.20 M0,0 L-9.40,12.20 M0,0 L-15.10,-5.50 " stroke="#7a7210" stroke-width="0.6" fill="none" opacity="0.7"/><path d="M0,0 L4.55,-5.50 M0,0 L7.35,1.90 M0,0 L0.00,7.40 M0,0 L-7.35,1.90 M0,0 L-4.55,-5.50 " stroke="#8a8214" stroke-width="0.5" fill="none" opacity="0.45"/><path d="M0.00,-17.00 L4.55,-5.50 L15.30,-5.50 L7.35,1.90 L9.40,12.20 L0.00,7.40 L-9.40,12.20 L-7.35,1.90 L-15.10,-5.50 L-4.55,-5.50Z" fill="none" stroke="#1a1a00" stroke-width="1.15" stroke-linejoin="miter" stroke-miterlimit="10"/></g></g>
<g transform="translate(50.40,129.20)"><g><path d="M0.00,-17.00 L4.55,-5.50 L15.30,-5.50 L7.35,1.90 L9.40,12.20 L0.00,7.40 L-9.40,12.20 L-7.35,1.90 L-15.10,-5.50 L-4.55,-5.50Z" fill="#909090" opacity="0.7" transform="translate(2.2,2.5)" filter="url(#bl)"/><path d="M0.00,-17.00 L4.55,-5.50 L15.30,-5.50 L7.35,1.90 L9.40,12.20 L0.00,7.40 L-9.40,12.20 L-7.35,1.90 L-15.10,-5.50 L-4.55,-5.50Z" fill="#d8d23e"/><path d="M0,0 L0.00,-17.00 L-4.55,-5.50Z" fill="#e7e441"/><path d="M0,0 L0.00,-17.00 L4.55,-5.50Z" fill="#c2bc2b"/><path d="M0,0 L15.30,-5.50 L4.55,-5.50Z" fill="#f9f74b"/><path d="M0,0 L15.30,-5.50 L7.35,1.90Z" fill="#b0a820"/><path d="M0,0 L9.40,12.20 L7.35,1.90Z" fill="#d8d438"/><path d="M0,0 L9.40,12.20 L0.00,7.40Z" fill="#d1cb33"/><path d="M0,0 L-9.40,12.20 L0.00,7.40Z" fill="#b3ab21"/><path d="M0,0 L-9.40,12.20 L-7.35,1.90Z" fill="#f6f44a"/><path d="M0,0 L-15.10,-5.50 L-7.35,1.90Z" fill="#bcb527"/><path d="M0,0 L-15.10,-5.50 L-4.55,-5.50Z" fill="#edea44"/><path d="M0,0 L0.00,-17.00 M0,0 L15.30,-5.50 M0,0 L9.40,12.20 M0,0 L-9.40,12.20 M0,0 L-15.10,-5.50 " stroke="#7a7210" stroke-width="0.6" fill="none" opacity="0.7"/><path d="M0,0 L4.55,-5.50 M0,0 L7.35,1.90 M0,0 L0.00,7.40 M0,0 L-7.35,1.90 M0,0 L-4.55,-5.50 " stroke="#8a8214" stroke-width="0.5" fill="none" opacity="0.45"/><path d="M0.00,-17.00 L4.55,-5.50 L15.30,-5.50 L7.35,1.90 L9.40,12.20 L0.00,7.40 L-9.40,12.20 L-7.35,1.90 L-15.10,-5.50 L-4.55,-5.50Z" fill="none" stroke="#1a1a00" stroke-width="1.15" stroke-linejoin="miter" stroke-miterlimit="10"/></g></g>
<g transform="translate(717.60,129.20)"><g><path d="M0.00,-17.00 L4.55,-5.50 L15.30,-5.50 L7.35,1.90 L9.40,12.20 L0.00,7.40 L-9.40,12.20 L-7.35,1.90 L-15.10,-5.50 L-4.55,-5.50Z" fill="#909090" opacity="0.7" transform="translate(2.2,2.5)" filter="url(#bl)"/><path d="M0.00,-17.00 L4.55,-5.50 L15.30,-5.50 L7.35,1.90 L9.40,12.20 L0.00,7.40 L-9.40,12.20 L-7.35,1.90 L-15.10,-5.50 L-4.55,-5.50Z" fill="#d8d23e"/><path d="M0,0 L0.00,-17.00 L-4.55,-5.50Z" fill="#e7e441"/><path d="M0,0 L0.00,-17.00 L4.55,-5.50Z" fill="#c2bc2b"/><path d="M0,0 L15.30,-5.50 L4.55,-5.50Z" fill="#f9f74b"/><path d="M0,0 L15.30,-5.50 L7.35,1.90Z" fill="#b0a820"/><path d="M0,0 L9.40,12.20 L7.35,1.90Z" fill="#d8d438"/><path d="M0,0 L9.40,12.20 L0.00,7.40Z" fill="#d1cb33"/><path d="M0,0 L-9.40,12.20 L0.00,7.40Z" fill="#b3ab21"/><path d="M0,0 L-9.40,12.20 L-7.35,1.90Z" fill="#f6f44a"/><path d="M0,0 L-15.10,-5.50 L-7.35,1.90Z" fill="#bcb527"/><path d="M0,0 L-15.10,-5.50 L-4.55,-5.50Z" fill="#edea44"/><path d="M0,0 L0.00,-17.00 M0,0 L15.30,-5.50 M0,0 L9.40,12.20 M0,0 L-9.40,12.20 M0,0 L-15.10,-5.50 " stroke="#7a7210" stroke-width="0.6" fill="none" opacity="0.7"/><path d="M0,0 L4.55,-5.50 M0,0 L7.35,1.90 M0,0 L0.00,7.40 M0,0 L-7.35,1.90 M0,0 L-4.55,-5.50 " stroke="#8a8214" stroke-width="0.5" fill="none" opacity="0.45"/><path d="M0.00,-17.00 L4.55,-5.50 L15.30,-5.50 L7.35,1.90 L9.40,12.20 L0.00,7.40 L-9.40,12.20 L-7.35,1.90 L-15.10,-5.50 L-4.55,-5.50Z" fill="none" stroke="#1a1a00" stroke-width="1.15" stroke-linejoin="miter" stroke-miterlimit="10"/></g></g>
<g transform="translate(50.40,168.40)"><g><path d="M0.00,-17.00 L4.55,-5.50 L15.30,-5.50 L7.35,1.90 L9.40,12.20 L0.00,7.40 L-9.40,12.20 L-7.35,1.90 L-15.10,-5.50 L-4.55,-5.50Z" fill="#909090" opacity="0.7" transform="translate(2.2,2.5)" filter="url(#bl)"/><path d="M0.00,-17.00 L4.55,-5.50 L15.30,-5.50 L7.35,1.90 L9.40,12.20 L0.00,7.40 L-9.40,12.20 L-7.35,1.90 L-15.10,-5.50 L-4.55,-5.50Z" fill="#d8d23e"/><path d="M0,0 L0.00,-17.00 L-4.55,-5.50Z" fill="#e7e441"/><path d="M0,0 L0.00,-17.00 L4.55,-5.50Z" fill="#c2bc2b"/><path d="M0,0 L15.30,-5.50 L4.55,-5.50Z" fill="#f9f74b"/><path d="M0,0 L15.30,-5.50 L7.35,1.90Z" fill="#b0a820"/><path d="M0,0 L9.40,12.20 L7.35,1.90Z" fill="#d8d438"/><path d="M0,0 L9.40,12.20 L0.00,7.40Z" fill="#d1cb33"/><path d="M0,0 L-9.40,12.20 L0.00,7.40Z" fill="#b3ab21"/><path d="M0,0 L-9.40,12.20 L-7.35,1.90Z" fill="#f6f44a"/><path d="M0,0 L-15.10,-5.50 L-7.35,1.90Z" fill="#bcb527"/><path d="M0,0 L-15.10,-5.50 L-4.55,-5.50Z" fill="#edea44"/><path d="M0,0 L0.00,-17.00 M0,0 L15.30,-5.50 M0,0 L9.40,12.20 M0,0 L-9.40,12.20 M0,0 L-15.10,-5.50 " stroke="#7a7210" stroke-width="0.6" fill="none" opacity="0.7"/><path d="M0,0 L4.55,-5.50 M0,0 L7.35,1.90 M0,0 L0.00,7.40 M0,0 L-7.35,1.90 M0,0 L-4.55,-5.50 " stroke="#8a8214" stroke-width="0.5" fill="none" opacity="0.45"/><path d="M0.00,-17.00 L4.55,-5.50 L15.30,-5.50 L7.35,1.90 L9.40,12.20 L0.00,7.40 L-9.40,12.20 L-7.35,1.90 L-15.10,-5.50 L-4.55,-5.50Z" fill="none" stroke="#1a1a00" stroke-width="1.15" stroke-linejoin="miter" stroke-miterlimit="10"/></g></g>
<g transform="translate(717.60,168.40)"><g><path d="M0.00,-17.00 L4.55,-5.50 L15.30,-5.50 L7.35,1.90 L9.40,12.20 L0.00,7.40 L-9.40,12.20 L-7.35,1.90 L-15.10,-5.50 L-4.55,-5.50Z" fill="#909090" opacity="0.7" transform="translate(2.2,2.5)" filter="url(#bl)"/><path d="M0.00,-17.00 L4.55,-5.50 L15.30,-5.50 L7.35,1.90 L9.40,12.20 L0.00,7.40 L-9.40,12.20 L-7.35,1.90 L-15.10,-5.50 L-4.55,-5.50Z" fill="#d8d23e"/><path d="M0,0 L0.00,-17.00 L-4.55,-5.50Z" fill="#e7e441"/><path d="M0,0 L0.00,-17.00 L4.55,-5.50Z" fill="#c2bc2b"/><path d="M0,0 L15.30,-5.50 L4.55,-5.50Z" fill="#f9f74b"/><path d="M0,0 L15.30,-5.50 L7.35,1.90Z" fill="#b0a820"/><path d="M0,0 L9.40,12.20 L7.35,1.90Z" fill="#d8d438"/><path d="M0,0 L9.40,12.20 L0.00,7.40Z" fill="#d1cb33"/><path d="M0,0 L-9.40,12.20 L0.00,7.40Z" fill="#b3ab21"/><path d="M0,0 L-9.40,12.20 L-7.35,1.90Z" fill="#f6f44a"/><path d="M0,0 L-15.10,-5.50 L-7.35,1.90Z" fill="#bcb527"/><path d="M0,0 L-15.10,-5.50 L-4.55,-5.50Z" fill="#edea44"/><path d="M0,0 L0.00,-17.00 M0,0 L15.30,-5.50 M0,0 L9.40,12.20 M0,0 L-9.40,12.20 M0,0 L-15.10,-5.50 " stroke="#7a7210" stroke-width="0.6" fill="none" opacity="0.7"/><path d="M0,0 L4.55,-5.50 M0,0 L7.35,1.90 M0,0 L0.00,7.40 M0,0 L-7.35,1.90 M0,0 L-4.55,-5.50 " stroke="#8a8214" stroke-width="0.5" fill="none" opacity="0.45"/><path d="M0.00,-17.00 L4.55,-5.50 L15.30,-5.50 L7.35,1.90 L9.40,12.20 L0.00,7.40 L-9.40,12.20 L-7.35,1.90 L-15.10,-5.50 L-4.55,-5.50Z" fill="none" stroke="#1a1a00" stroke-width="1.15" stroke-linejoin="miter" stroke-miterlimit="10"/></g></g>
<g transform="translate(50.40,208.20)"><g><path d="M0.00,-17.00 L4.55,-5.50 L15.30,-5.50 L7.35,1.90 L9.40,12.20 L0.00,7.40 L-9.40,12.20 L-7.35,1.90 L-15.10,-5.50 L-4.55,-5.50Z" fill="#909090" opacity="0.7" transform="translate(2.2,2.5)" filter="url(#bl)"/><path d="M0.00,-17.00 L4.55,-5.50 L15.30,-5.50 L7.35,1.90 L9.40,12.20 L0.00,7.40 L-9.40,12.20 L-7.35,1.90 L-15.10,-5.50 L-4.55,-5.50Z" fill="#d8d23e"/><path d="M0,0 L0.00,-17.00 L-4.55,-5.50Z" fill="#e7e441"/><path d="M0,0 L0.00,-17.00 L4.55,-5.50Z" fill="#c2bc2b"/><path d="M0,0 L15.30,-5.50 L4.55,-5.50Z" fill="#f9f74b"/><path d="M0,0 L15.30,-5.50 L7.35,1.90Z" fill="#b0a820"/><path d="M0,0 L9.40,12.20 L7.35,1.90Z" fill="#d8d438"/><path d="M0,0 L9.40,12.20 L0.00,7.40Z" fill="#d1cb33"/><path d="M0,0 L-9.40,12.20 L0.00,7.40Z" fill="#b3ab21"/><path d="M0,0 L-9.40,12.20 L-7.35,1.90Z" fill="#f6f44a"/><path d="M0,0 L-15.10,-5.50 L-7.35,1.90Z" fill="#bcb527"/><path d="M0,0 L-15.10,-5.50 L-4.55,-5.50Z" fill="#edea44"/><path d="M0,0 L0.00,-17.00 M0,0 L15.30,-5.50 M0,0 L9.40,12.20 M0,0 L-9.40,12.20 M0,0 L-15.10,-5.50 " stroke="#7a7210" stroke-width="0.6" fill="none" opacity="0.7"/><path d="M0,0 L4.55,-5.50 M0,0 L7.35,1.90 M0,0 L0.00,7.40 M0,0 L-7.35,1.90 M0,0 L-4.55,-5.50 " stroke="#8a8214" stroke-width="0.5" fill="none" opacity="0.45"/><path d="M0.00,-17.00 L4.55,-5.50 L15.30,-5.50 L7.35,1.90 L9.40,12.20 L0.00,7.40 L-9.40,12.20 L-7.35,1.90 L-15.10,-5.50 L-4.55,-5.50Z" fill="none" stroke="#1a1a00" stroke-width="1.15" stroke-linejoin="miter" stroke-miterlimit="10"/></g></g>
<g transform="translate(717.60,208.20)"><g><path d="M0.00,-17.00 L4.55,-5.50 L15.30,-5.50 L7.35,1.90 L9.40,12.20 L0.00,7.40 L-9.40,12.20 L-7.35,1.90 L-15.10,-5.50 L-4.55,-5.50Z" fill="#909090" opacity="0.7" transform="translate(2.2,2.5)" filter="url(#bl)"/><path d="M0.00,-17.00 L4.55,-5.50 L15.30,-5.50 L7.35,1.90 L9.40,12.20 L0.00,7.40 L-9.40,12.20 L-7.35,1.90 L-15.10,-5.50 L-4.55,-5.50Z" fill="#d8d23e"/><path d="M0,0 L0.00,-17.00 L-4.55,-5.50Z" fill="#e7e441"/><path d="M0,0 L0.00,-17.00 L4.55,-5.50Z" fill="#c2bc2b"/><path d="M0,0 L15.30,-5.50 L4.55,-5.50Z" fill="#f9f74b"/><path d="M0,0 L15.30,-5.50 L7.35,1.90Z" fill="#b0a820"/><path d="M0,0 L9.40,12.20 L7.35,1.90Z" fill="#d8d438"/><path d="M0,0 L9.40,12.20 L0.00,7.40Z" fill="#d1cb33"/><path d="M0,0 L-9.40,12.20 L0.00,7.40Z" fill="#b3ab21"/><path d="M0,0 L-9.40,12.20 L-7.35,1.90Z" fill="#f6f44a"/><path d="M0,0 L-15.10,-5.50 L-7.35,1.90Z" fill="#bcb527"/><path d="M0,0 L-15.10,-5.50 L-4.55,-5.50Z" fill="#edea44"/><path d="M0,0 L0.00,-17.00 M0,0 L15.30,-5.50 M0,0 L9.40,12.20 M0,0 L-9.40,12.20 M0,0 L-15.10,-5.50 " stroke="#7a7210" stroke-width="0.6" fill="none" opacity="0.7"/><path d="M0,0 L4.55,-5.50 M0,0 L7.35,1.90 M0,0 L0.00,7.40 M0,0 L-7.35,1.90 M0,0 L-4.55,-5.50 " stroke="#8a8214" stroke-width="0.5" fill="none" opacity="0.45"/><path d="M0.00,-17.00 L4.55,-5.50 L15.30,-5.50 L7.35,1.90 L9.40,12.20 L0.00,7.40 L-9.40,12.20 L-7.35,1.90 L-15.10,-5.50 L-4.55,-5.50Z" fill="none" stroke="#1a1a00" stroke-width="1.15" stroke-linejoin="miter" stroke-miterlimit="10"/></g></g>
<g transform="translate(50.40,247.20)"><g><path d="M0.00,-17.00 L4.55,-5.50 L15.30,-5.50 L7.35,1.90 L9.40,12.20 L0.00,7.40 L-9.40,12.20 L-7.35,1.90 L-15.10,-5.50 L-4.55,-5.50Z" fill="#909090" opacity="0.7" transform="translate(2.2,2.5)" filter="url(#bl)"/><path d="M0.00,-17.00 L4.55,-5.50 L15.30,-5.50 L7.35,1.90 L9.40,12.20 L0.00,7.40 L-9.40,12.20 L-7.35,1.90 L-15.10,-5.50 L-4.55,-5.50Z" fill="#d8d23e"/><path d="M0,0 L0.00,-17.00 L-4.55,-5.50Z" fill="#e7e441"/><path d="M0,0 L0.00,-17.00 L4.55,-5.50Z" fill="#c2bc2b"/><path d="M0,0 L15.30,-5.50 L4.55,-5.50Z" fill="#f9f74b"/><path d="M0,0 L15.30,-5.50 L7.35,1.90Z" fill="#b0a820"/><path d="M0,0 L9.40,12.20 L7.35,1.90Z" fill="#d8d438"/><path d="M0,0 L9.40,12.20 L0.00,7.40Z" fill="#d1cb33"/><path d="M0,0 L-9.40,12.20 L0.00,7.40Z" fill="#b3ab21"/><path d="M0,0 L-9.40,12.20 L-7.35,1.90Z" fill="#f6f44a"/><path d="M0,0 L-15.10,-5.50 L-7.35,1.90Z" fill="#bcb527"/><path d="M0,0 L-15.10,-5.50 L-4.55,-5.50Z" fill="#edea44"/><path d="M0,0 L0.00,-17.00 M0,0 L15.30,-5.50 M0,0 L9.40,12.20 M0,0 L-9.40,12.20 M0,0 L-15.10,-5.50 " stroke="#7a7210" stroke-width="0.6" fill="none" opacity="0.7"/><path d="M0,0 L4.55,-5.50 M0,0 L7.35,1.90 M0,0 L0.00,7.40 M0,0 L-7.35,1.90 M0,0 L-4.55,-5.50 " stroke="#8a8214" stroke-width="0.5" fill="none" opacity="0.45"/><path d="M0.00,-17.00 L4.55,-5.50 L15.30,-5.50 L7.35,1.90 L9.40,12.20 L0.00,7.40 L-9.40,12.20 L-7.35,1.90 L-15.10,-5.50 L-4.55,-5.50Z" fill="none" stroke="#1a1a00" stroke-width="1.15" stroke-linejoin="miter" stroke-miterlimit="10"/></g></g>
<g transform="translate(717.60,247.20)"><g><path d="M0.00,-17.00 L4.55,-5.50 L15.30,-5.50 L7.35,1.90 L9.40,12.20 L0.00,7.40 L-9.40,12.20 L-7.35,1.90 L-15.10,-5.50 L-4.55,-5.50Z" fill="#909090" opacity="0.7" transform="translate(2.2,2.5)" filter="url(#bl)"/><path d="M0.00,-17.00 L4.55,-5.50 L15.30,-5.50 L7.35,1.90 L9.40,12.20 L0.00,7.40 L-9.40,12.20 L-7.35,1.90 L-15.10,-5.50 L-4.55,-5.50Z" fill="#d8d23e"/><path d="M0,0 L0.00,-17.00 L-4.55,-5.50Z" fill="#e7e441"/><path d="M0,0 L0.00,-17.00 L4.55,-5.50Z" fill="#c2bc2b"/><path d="M0,0 L15.30,-5.50 L4.55,-5.50Z" fill="#f9f74b"/><path d="M0,0 L15.30,-5.50 L7.35,1.90Z" fill="#b0a820"/><path d="M0,0 L9.40,12.20 L7.35,1.90Z" fill="#d8d438"/><path d="M0,0 L9.40,12.20 L0.00,7.40Z" fill="#d1cb33"/><path d="M0,0 L-9.40,12.20 L0.00,7.40Z" fill="#b3ab21"/><path d="M0,0 L-9.40,12.20 L-7.35,1.90Z" fill="#f6f44a"/><path d="M0,0 L-15.10,-5.50 L-7.35,1.90Z" fill="#bcb527"/><path d="M0,0 L-15.10,-5.50 L-4.55,-5.50Z" fill="#edea44"/><path d="M0,0 L0.00,-17.00 M0,0 L15.30,-5.50 M0,0 L9.40,12.20 M0,0 L-9.40,12.20 M0,0 L-15.10,-5.50 " stroke="#7a7210" stroke-width="0.6" fill="none" opacity="0.7"/><path d="M0,0 L4.55,-5.50 M0,0 L7.35,1.90 M0,0 L0.00,7.40 M0,0 L-7.35,1.90 M0,0 L-4.55,-5.50 " stroke="#8a8214" stroke-width="0.5" fill="none" opacity="0.45"/><path d="M0.00,-17.00 L4.55,-5.50 L15.30,-5.50 L7.35,1.90 L9.40,12.20 L0.00,7.40 L-9.40,12.20 L-7.35,1.90 L-15.10,-5.50 L-4.55,-5.50Z" fill="none" stroke="#1a1a00" stroke-width="1.15" stroke-linejoin="miter" stroke-miterlimit="10"/></g></g>
<g transform="translate(50.40,286.40)"><g><path d="M0.00,-17.00 L4.55,-5.50 L15.30,-5.50 L7.35,1.90 L9.40,12.20 L0.00,7.40 L-9.40,12.20 L-7.35,1.90 L-15.10,-5.50 L-4.55,-5.50Z" fill="#909090" opacity="0.7" transform="translate(2.2,2.5)" filter="url(#bl)"/><path d="M0.00,-17.00 L4.55,-5.50 L15.30,-5.50 L7.35,1.90 L9.40,12.20 L0.00,7.40 L-9.40,12.20 L-7.35,1.90 L-15.10,-5.50 L-4.55,-5.50Z" fill="#d8d23e"/><path d="M0,0 L0.00,-17.00 L-4.55,-5.50Z" fill="#e7e441"/><path d="M0,0 L0.00,-17.00 L4.55,-5.50Z" fill="#c2bc2b"/><path d="M0,0 L15.30,-5.50 L4.55,-5.50Z" fill="#f9f74b"/><path d="M0,0 L15.30,-5.50 L7.35,1.90Z" fill="#b0a820"/><path d="M0,0 L9.40,12.20 L7.35,1.90Z" fill="#d8d438"/><path d="M0,0 L9.40,12.20 L0.00,7.40Z" fill="#d1cb33"/><path d="M0,0 L-9.40,12.20 L0.00,7.40Z" fill="#b3ab21"/><path d="M0,0 L-9.40,12.20 L-7.35,1.90Z" fill="#f6f44a"/><path d="M0,0 L-15.10,-5.50 L-7.35,1.90Z" fill="#bcb527"/><path d="M0,0 L-15.10,-5.50 L-4.55,-5.50Z" fill="#edea44"/><path d="M0,0 L0.00,-17.00 M0,0 L15.30,-5.50 M0,0 L9.40,12.20 M0,0 L-9.40,12.20 M0,0 L-15.10,-5.50 " stroke="#7a7210" stroke-width="0.6" fill="none" opacity="0.7"/><path d="M0,0 L4.55,-5.50 M0,0 L7.35,1.90 M0,0 L0.00,7.40 M0,0 L-7.35,1.90 M0,0 L-4.55,-5.50 " stroke="#8a8214" stroke-width="0.5" fill="none" opacity="0.45"/><path d="M0.00,-17.00 L4.55,-5.50 L15.30,-5.50 L7.35,1.90 L9.40,12.20 L0.00,7.40 L-9.40,12.20 L-7.35,1.90 L-15.10,-5.50 L-4.55,-5.50Z" fill="none" stroke="#1a1a00" stroke-width="1.15" stroke-linejoin="miter" stroke-miterlimit="10"/></g></g>
<g transform="translate(717.60,286.40)"><g><path d="M0.00,-17.00 L4.55,-5.50 L15.30,-5.50 L7.35,1.90 L9.40,12.20 L0.00,7.40 L-9.40,12.20 L-7.35,1.90 L-15.10,-5.50 L-4.55,-5.50Z" fill="#909090" opacity="0.7" transform="translate(2.2,2.5)" filter="url(#bl)"/><path d="M0.00,-17.00 L4.55,-5.50 L15.30,-5.50 L7.35,1.90 L9.40,12.20 L0.00,7.40 L-9.40,12.20 L-7.35,1.90 L-15.10,-5.50 L-4.55,-5.50Z" fill="#d8d23e"/><path d="M0,0 L0.00,-17.00 L-4.55,-5.50Z" fill="#e7e441"/><path d="M0,0 L0.00,-17.00 L4.55,-5.50Z" fill="#c2bc2b"/><path d="M0,0 L15.30,-5.50 L4.55,-5.50Z" fill="#f9f74b"/><path d="M0,0 L15.30,-5.50 L7.35,1.90Z" fill="#b0a820"/><path d="M0,0 L9.40,12.20 L7.35,1.90Z" fill="#d8d438"/><path d="M0,0 L9.40,12.20 L0.00,7.40Z" fill="#d1cb33"/><path d="M0,0 L-9.40,12.20 L0.00,7.40Z" fill="#b3ab21"/><path d="M0,0 L-9.40,12.20 L-7.35,1.90Z" fill="#f6f44a"/><path d="M0,0 L-15.10,-5.50 L-7.35,1.90Z" fill="#bcb527"/><path d="M0,0 L-15.10,-5.50 L-4.55,-5.50Z" fill="#edea44"/><path d="M0,0 L0.00,-17.00 M0,0 L15.30,-5.50 M0,0 L9.40,12.20 M0,0 L-9.40,12.20 M0,0 L-15.10,-5.50 " stroke="#7a7210" stroke-width="0.6" fill="none" opacity="0.7"/><path d="M0,0 L4.55,-5.50 M0,0 L7.35,1.90 M0,0 L0.00,7.40 M0,0 L-7.35,1.90 M0,0 L-4.55,-5.50 " stroke="#8a8214" stroke-width="0.5" fill="none" opacity="0.45"/><path d="M0.00,-17.00 L4.55,-5.50 L15.30,-5.50 L7.35,1.90 L9.40,12.20 L0.00,7.40 L-9.40,12.20 L-7.35,1.90 L-15.10,-5.50 L-4.55,-5.50Z" fill="none" stroke="#1a1a00" stroke-width="1.15" stroke-linejoin="miter" stroke-miterlimit="10"/></g></g>
<g transform="translate(50.40,326.60)"><g><path d="M0.00,-17.00 L4.55,-5.50 L15.30,-5.50 L7.35,1.90 L9.40,12.20 L0.00,7.40 L-9.40,12.20 L-7.35,1.90 L-15.10,-5.50 L-4.55,-5.50Z" fill="#909090" opacity="0.7" transform="translate(2.2,2.5)" filter="url(#bl)"/><path d="M0.00,-17.00 L4.55,-5.50 L15.30,-5.50 L7.35,1.90 L9.40,12.20 L0.00,7.40 L-9.40,12.20 L-7.35,1.90 L-15.10,-5.50 L-4.55,-5.50Z" fill="#d8d23e"/><path d="M0,0 L0.00,-17.00 L-4.55,-5.50Z" fill="#e7e441"/><path d="M0,0 L0.00,-17.00 L4.55,-5.50Z" fill="#c2bc2b"/><path d="M0,0 L15.30,-5.50 L4.55,-5.50Z" fill="#f9f74b"/><path d="M0,0 L15.30,-5.50 L7.35,1.90Z" fill="#b0a820"/><path d="M0,0 L9.40,12.20 L7.35,1.90Z" fill="#d8d438"/><path d="M0,0 L9.40,12.20 L0.00,7.40Z" fill="#d1cb33"/><path d="M0,0 L-9.40,12.20 L0.00,7.40Z" fill="#b3ab21"/><path d="M0,0 L-9.40,12.20 L-7.35,1.90Z" fill="#f6f44a"/><path d="M0,0 L-15.10,-5.50 L-7.35,1.90Z" fill="#bcb527"/><path d="M0,0 L-15.10,-5.50 L-4.55,-5.50Z" fill="#edea44"/><path d="M0,0 L0.00,-17.00 M0,0 L15.30,-5.50 M0,0 L9.40,12.20 M0,0 L-9.40,12.20 M0,0 L-15.10,-5.50 " stroke="#7a7210" stroke-width="0.6" fill="none" opacity="0.7"/><path d="M0,0 L4.55,-5.50 M0,0 L7.35,1.90 M0,0 L0.00,7.40 M0,0 L-7.35,1.90 M0,0 L-4.55,-5.50 " stroke="#8a8214" stroke-width="0.5" fill="none" opacity="0.45"/><path d="M0.00,-17.00 L4.55,-5.50 L15.30,-5.50 L7.35,1.90 L9.40,12.20 L0.00,7.40 L-9.40,12.20 L-7.35,1.90 L-15.10,-5.50 L-4.55,-5.50Z" fill="none" stroke="#1a1a00" stroke-width="1.15" stroke-linejoin="miter" stroke-miterlimit="10"/></g></g>
<g transform="translate(717.60,326.60)"><g><path d="M0.00,-17.00 L4.55,-5.50 L15.30,-5.50 L7.35,1.90 L9.40,12.20 L0.00,7.40 L-9.40,12.20 L-7.35,1.90 L-15.10,-5.50 L-4.55,-5.50Z" fill="#909090" opacity="0.7" transform="translate(2.2,2.5)" filter="url(#bl)"/><path d="M0.00,-17.00 L4.55,-5.50 L15.30,-5.50 L7.35,1.90 L9.40,12.20 L0.00,7.40 L-9.40,12.20 L-7.35,1.90 L-15.10,-5.50 L-4.55,-5.50Z" fill="#d8d23e"/><path d="M0,0 L0.00,-17.00 L-4.55,-5.50Z" fill="#e7e441"/><path d="M0,0 L0.00,-17.00 L4.55,-5.50Z" fill="#c2bc2b"/><path d="M0,0 L15.30,-5.50 L4.55,-5.50Z" fill="#f9f74b"/><path d="M0,0 L15.30,-5.50 L7.35,1.90Z" fill="#b0a820"/><path d="M0,0 L9.40,12.20 L7.35,1.90Z" fill="#d8d438"/><path d="M0,0 L9.40,12.20 L0.00,7.40Z" fill="#d1cb33"/><path d="M0,0 L-9.40,12.20 L0.00,7.40Z" fill="#b3ab21"/><path d="M0,0 L-9.40,12.20 L-7.35,1.90Z" fill="#f6f44a"/><path d="M0,0 L-15.10,-5.50 L-7.35,1.90Z" fill="#bcb527"/><path d="M0,0 L-15.10,-5.50 L-4.55,-5.50Z" fill="#edea44"/><path d="M0,0 L0.00,-17.00 M0,0 L15.30,-5.50 M0,0 L9.40,12.20 M0,0 L-9.40,12.20 M0,0 L-15.10,-5.50 " stroke="#7a7210" stroke-width="0.6" fill="none" opacity="0.7"/><path d="M0,0 L4.55,-5.50 M0,0 L7.35,1.90 M0,0 L0.00,7.40 M0,0 L-7.35,1.90 M0,0 L-4.55,-5.50 " stroke="#8a8214" stroke-width="0.5" fill="none" opacity="0.45"/><path d="M0.00,-17.00 L4.55,-5.50 L15.30,-5.50 L7.35,1.90 L9.40,12.20 L0.00,7.40 L-9.40,12.20 L-7.35,1.90 L-15.10,-5.50 L-4.55,-5.50Z" fill="none" stroke="#1a1a00" stroke-width="1.15" stroke-linejoin="miter" stroke-miterlimit="10"/></g></g>
<g transform="translate(50.40,366.40)"><g><path d="M0.00,-17.00 L4.55,-5.50 L15.30,-5.50 L7.35,1.90 L9.40,12.20 L0.00,7.40 L-9.40,12.20 L-7.35,1.90 L-15.10,-5.50 L-4.55,-5.50Z" fill="#909090" opacity="0.7" transform="translate(2.2,2.5)" filter="url(#bl)"/><path d="M0.00,-17.00 L4.55,-5.50 L15.30,-5.50 L7.35,1.90 L9.40,12.20 L0.00,7.40 L-9.40,12.20 L-7.35,1.90 L-15.10,-5.50 L-4.55,-5.50Z" fill="#d8d23e"/><path d="M0,0 L0.00,-17.00 L-4.55,-5.50Z" fill="#e7e441"/><path d="M0,0 L0.00,-17.00 L4.55,-5.50Z" fill="#c2bc2b"/><path d="M0,0 L15.30,-5.50 L4.55,-5.50Z" fill="#f9f74b"/><path d="M0,0 L15.30,-5.50 L7.35,1.90Z" fill="#b0a820"/><path d="M0,0 L9.40,12.20 L7.35,1.90Z" fill="#d8d438"/><path d="M0,0 L9.40,12.20 L0.00,7.40Z" fill="#d1cb33"/><path d="M0,0 L-9.40,12.20 L0.00,7.40Z" fill="#b3ab21"/><path d="M0,0 L-9.40,12.20 L-7.35,1.90Z" fill="#f6f44a"/><path d="M0,0 L-15.10,-5.50 L-7.35,1.90Z" fill="#bcb527"/><path d="M0,0 L-15.10,-5.50 L-4.55,-5.50Z" fill="#edea44"/><path d="M0,0 L0.00,-17.00 M0,0 L15.30,-5.50 M0,0 L9.40,12.20 M0,0 L-9.40,12.20 M0,0 L-15.10,-5.50 " stroke="#7a7210" stroke-width="0.6" fill="none" opacity="0.7"/><path d="M0,0 L4.55,-5.50 M0,0 L7.35,1.90 M0,0 L0.00,7.40 M0,0 L-7.35,1.90 M0,0 L-4.55,-5.50 " stroke="#8a8214" stroke-width="0.5" fill="none" opacity="0.45"/><path d="M0.00,-17.00 L4.55,-5.50 L15.30,-5.50 L7.35,1.90 L9.40,12.20 L0.00,7.40 L-9.40,12.20 L-7.35,1.90 L-15.10,-5.50 L-4.55,-5.50Z" fill="none" stroke="#1a1a00" stroke-width="1.15" stroke-linejoin="miter" stroke-miterlimit="10"/></g></g>
<g transform="translate(717.60,366.40)"><g><path d="M0.00,-17.00 L4.55,-5.50 L15.30,-5.50 L7.35,1.90 L9.40,12.20 L0.00,7.40 L-9.40,12.20 L-7.35,1.90 L-15.10,-5.50 L-4.55,-5.50Z" fill="#909090" opacity="0.7" transform="translate(2.2,2.5)" filter="url(#bl)"/><path d="M0.00,-17.00 L4.55,-5.50 L15.30,-5.50 L7.35,1.90 L9.40,12.20 L0.00,7.40 L-9.40,12.20 L-7.35,1.90 L-15.10,-5.50 L-4.55,-5.50Z" fill="#d8d23e"/><path d="M0,0 L0.00,-17.00 L-4.55,-5.50Z" fill="#e7e441"/><path d="M0,0 L0.00,-17.00 L4.55,-5.50Z" fill="#c2bc2b"/><path d="M0,0 L15.30,-5.50 L4.55,-5.50Z" fill="#f9f74b"/><path d="M0,0 L15.30,-5.50 L7.35,1.90Z" fill="#b0a820"/><path d="M0,0 L9.40,12.20 L7.35,1.90Z" fill="#d8d438"/><path d="M0,0 L9.40,12.20 L0.00,7.40Z" fill="#d1cb33"/><path d="M0,0 L-9.40,12.20 L0.00,7.40Z" fill="#b3ab21"/><path d="M0,0 L-9.40,12.20 L-7.35,1.90Z" fill="#f6f44a"/><path d="M0,0 L-15.10,-5.50 L-7.35,1.90Z" fill="#bcb527"/><path d="M0,0 L-15.10,-5.50 L-4.55,-5.50Z" fill="#edea44"/><path d="M0,0 L0.00,-17.00 M0,0 L15.30,-5.50 M0,0 L9.40,12.20 M0,0 L-9.40,12.20 M0,0 L-15.10,-5.50 " stroke="#7a7210" stroke-width="0.6" fill="none" opacity="0.7"/><path d="M0,0 L4.55,-5.50 M0,0 L7.35,1.90 M0,0 L0.00,7.40 M0,0 L-7.35,1.90 M0,0 L-4.55,-5.50 " stroke="#8a8214" stroke-width="0.5" fill="none" opacity="0.45"/><path d="M0.00,-17.00 L4.55,-5.50 L15.30,-5.50 L7.35,1.90 L9.40,12.20 L0.00,7.40 L-9.40,12.20 L-7.35,1.90 L-15.10,-5.50 L-4.55,-5.50Z" fill="none" stroke="#1a1a00" stroke-width="1.15" stroke-linejoin="miter" stroke-miterlimit="10"/></g></g>
<g transform="translate(50.40,405.60)"><g><path d="M0.00,-17.00 L4.55,-5.50 L15.30,-5.50 L7.35,1.90 L9.40,12.20 L0.00,7.40 L-9.40,12.20 L-7.35,1.90 L-15.10,-5.50 L-4.55,-5.50Z" fill="#909090" opacity="0.7" transform="translate(2.2,2.5)" filter="url(#bl)"/><path d="M0.00,-17.00 L4.55,-5.50 L15.30,-5.50 L7.35,1.90 L9.40,12.20 L0.00,7.40 L-9.40,12.20 L-7.35,1.90 L-15.10,-5.50 L-4.55,-5.50Z" fill="#d8d23e"/><path d="M0,0 L0.00,-17.00 L-4.55,-5.50Z" fill="#e7e441"/><path d="M0,0 L0.00,-17.00 L4.55,-5.50Z" fill="#c2bc2b"/><path d="M0,0 L15.30,-5.50 L4.55,-5.50Z" fill="#f9f74b"/><path d="M0,0 L15.30,-5.50 L7.35,1.90Z" fill="#b0a820"/><path d="M0,0 L9.40,12.20 L7.35,1.90Z" fill="#d8d438"/><path d="M0,0 L9.40,12.20 L0.00,7.40Z" fill="#d1cb33"/><path d="M0,0 L-9.40,12.20 L0.00,7.40Z" fill="#b3ab21"/><path d="M0,0 L-9.40,12.20 L-7.35,1.90Z" fill="#f6f44a"/><path d="M0,0 L-15.10,-5.50 L-7.35,1.90Z" fill="#bcb527"/><path d="M0,0 L-15.10,-5.50 L-4.55,-5.50Z" fill="#edea44"/><path d="M0,0 L0.00,-17.00 M0,0 L15.30,-5.50 M0,0 L9.40,12.20 M0,0 L-9.40,12.20 M0,0 L-15.10,-5.50 " stroke="#7a7210" stroke-width="0.6" fill="none" opacity="0.7"/><path d="M0,0 L4.55,-5.50 M0,0 L7.35,1.90 M0,0 L0.00,7.40 M0,0 L-7.35,1.90 M0,0 L-4.55,-5.50 " stroke="#8a8214" stroke-width="0.5" fill="none" opacity="0.45"/><path d="M0.00,-17.00 L4.55,-5.50 L15.30,-5.50 L7.35,1.90 L9.40,12.20 L0.00,7.40 L-9.40,12.20 L-7.35,1.90 L-15.10,-5.50 L-4.55,-5.50Z" fill="none" stroke="#1a1a00" stroke-width="1.15" stroke-linejoin="miter" stroke-miterlimit="10"/></g></g>
<g transform="translate(717.60,405.60)"><g><path d="M0.00,-17.00 L4.55,-5.50 L15.30,-5.50 L7.35,1.90 L9.40,12.20 L0.00,7.40 L-9.40,12.20 L-7.35,1.90 L-15.10,-5.50 L-4.55,-5.50Z" fill="#909090" opacity="0.7" transform="translate(2.2,2.5)" filter="url(#bl)"/><path d="M0.00,-17.00 L4.55,-5.50 L15.30,-5.50 L7.35,1.90 L9.40,12.20 L0.00,7.40 L-9.40,12.20 L-7.35,1.90 L-15.10,-5.50 L-4.55,-5.50Z" fill="#d8d23e"/><path d="M0,0 L0.00,-17.00 L-4.55,-5.50Z" fill="#e7e441"/><path d="M0,0 L0.00,-17.00 L4.55,-5.50Z" fill="#c2bc2b"/><path d="M0,0 L15.30,-5.50 L4.55,-5.50Z" fill="#f9f74b"/><path d="M0,0 L15.30,-5.50 L7.35,1.90Z" fill="#b0a820"/><path d="M0,0 L9.40,12.20 L7.35,1.90Z" fill="#d8d438"/><path d="M0,0 L9.40,12.20 L0.00,7.40Z" fill="#d1cb33"/><path d="M0,0 L-9.40,12.20 L0.00,7.40Z" fill="#b3ab21"/><path d="M0,0 L-9.40,12.20 L-7.35,1.90Z" fill="#f6f44a"/><path d="M0,0 L-15.10,-5.50 L-7.35,1.90Z" fill="#bcb527"/><path d="M0,0 L-15.10,-5.50 L-4.55,-5.50Z" fill="#edea44"/><path d="M0,0 L0.00,-17.00 M0,0 L15.30,-5.50 M0,0 L9.40,12.20 M0,0 L-9.40,12.20 M0,0 L-15.10,-5.50 " stroke="#7a7210" stroke-width="0.6" fill="none" opacity="0.7"/><path d="M0,0 L4.55,-5.50 M0,0 L7.35,1.90 M0,0 L0.00,7.40 M0,0 L-7.35,1.90 M0,0 L-4.55,-5.50 " stroke="#8a8214" stroke-width="0.5" fill="none" opacity="0.45"/><path d="M0.00,-17.00 L4.55,-5.50 L15.30,-5.50 L7.35,1.90 L9.40,12.20 L0.00,7.40 L-9.40,12.20 L-7.35,1.90 L-15.10,-5.50 L-4.55,-5.50Z" fill="none" stroke="#1a1a00" stroke-width="1.15" stroke-linejoin="miter" stroke-miterlimit="10"/></g></g>
<g transform="translate(50.40,444.60)"><g><path d="M0.00,-17.00 L4.55,-5.50 L15.30,-5.50 L7.35,1.90 L9.40,12.20 L0.00,7.40 L-9.40,12.20 L-7.35,1.90 L-15.10,-5.50 L-4.55,-5.50Z" fill="#909090" opacity="0.7" transform="translate(2.2,2.5)" filter="url(#bl)"/><path d="M0.00,-17.00 L4.55,-5.50 L15.30,-5.50 L7.35,1.90 L9.40,12.20 L0.00,7.40 L-9.40,12.20 L-7.35,1.90 L-15.10,-5.50 L-4.55,-5.50Z" fill="#d8d23e"/><path d="M0,0 L0.00,-17.00 L-4.55,-5.50Z" fill="#e7e441"/><path d="M0,0 L0.00,-17.00 L4.55,-5.50Z" fill="#c2bc2b"/><path d="M0,0 L15.30,-5.50 L4.55,-5.50Z" fill="#f9f74b"/><path d="M0,0 L15.30,-5.50 L7.35,1.90Z" fill="#b0a820"/><path d="M0,0 L9.40,12.20 L7.35,1.90Z" fill="#d8d438"/><path d="M0,0 L9.40,12.20 L0.00,7.40Z" fill="#d1cb33"/><path d="M0,0 L-9.40,12.20 L0.00,7.40Z" fill="#b3ab21"/><path d="M0,0 L-9.40,12.20 L-7.35,1.90Z" fill="#f6f44a"/><path d="M0,0 L-15.10,-5.50 L-7.35,1.90Z" fill="#bcb527"/><path d="M0,0 L-15.10,-5.50 L-4.55,-5.50Z" fill="#edea44"/><path d="M0,0 L0.00,-17.00 M0,0 L15.30,-5.50 M0,0 L9.40,12.20 M0,0 L-9.40,12.20 M0,0 L-15.10,-5.50 " stroke="#7a7210" stroke-width="0.6" fill="none" opacity="0.7"/><path d="M0,0 L4.55,-5.50 M0,0 L7.35,1.90 M0,0 L0.00,7.40 M0,0 L-7.35,1.90 M0,0 L-4.55,-5.50 " stroke="#8a8214" stroke-width="0.5" fill="none" opacity="0.45"/><path d="M0.00,-17.00 L4.55,-5.50 L15.30,-5.50 L7.35,1.90 L9.40,12.20 L0.00,7.40 L-9.40,12.20 L-7.35,1.90 L-15.10,-5.50 L-4.55,-5.50Z" fill="none" stroke="#1a1a00" stroke-width="1.15" stroke-linejoin="miter" stroke-miterlimit="10"/></g></g>
<g transform="translate(717.60,444.60)"><g><path d="M0.00,-17.00 L4.55,-5.50 L15.30,-5.50 L7.35,1.90 L9.40,12.20 L0.00,7.40 L-9.40,12.20 L-7.35,1.90 L-15.10,-5.50 L-4.55,-5.50Z" fill="#909090" opacity="0.7" transform="translate(2.2,2.5)" filter="url(#bl)"/><path d="M0.00,-17.00 L4.55,-5.50 L15.30,-5.50 L7.35,1.90 L9.40,12.20 L0.00,7.40 L-9.40,12.20 L-7.35,1.90 L-15.10,-5.50 L-4.55,-5.50Z" fill="#d8d23e"/><path d="M0,0 L0.00,-17.00 L-4.55,-5.50Z" fill="#e7e441"/><path d="M0,0 L0.00,-17.00 L4.55,-5.50Z" fill="#c2bc2b"/><path d="M0,0 L15.30,-5.50 L4.55,-5.50Z" fill="#f9f74b"/><path d="M0,0 L15.30,-5.50 L7.35,1.90Z" fill="#b0a820"/><path d="M0,0 L9.40,12.20 L7.35,1.90Z" fill="#d8d438"/><path d="M0,0 L9.40,12.20 L0.00,7.40Z" fill="#d1cb33"/><path d="M0,0 L-9.40,12.20 L0.00,7.40Z" fill="#b3ab21"/><path d="M0,0 L-9.40,12.20 L-7.35,1.90Z" fill="#f6f44a"/><path d="M0,0 L-15.10,-5.50 L-7.35,1.90Z" fill="#bcb527"/><path d="M0,0 L-15.10,-5.50 L-4.55,-5.50Z" fill="#edea44"/><path d="M0,0 L0.00,-17.00 M0,0 L15.30,-5.50 M0,0 L9.40,12.20 M0,0 L-9.40,12.20 M0,0 L-15.10,-5.50 " stroke="#7a7210" stroke-width="0.6" fill="none" opacity="0.7"/><path d="M0,0 L4.55,-5.50 M0,0 L7.35,1.90 M0,0 L0.00,7.40 M0,0 L-7.35,1.90 M0,0 L-4.55,-5.50 " stroke="#8a8214" stroke-width="0.5" fill="none" opacity="0.45"/><path d="M0.00,-17.00 L4.55,-5.50 L15.30,-5.50 L7.35,1.90 L9.40,12.20 L0.00,7.40 L-9.40,12.20 L-7.35,1.90 L-15.10,-5.50 L-4.55,-5.50Z" fill="none" stroke="#1a1a00" stroke-width="1.15" stroke-linejoin="miter" stroke-miterlimit="10"/></g></g>
<g transform="translate(50.40,484.40)"><g><path d="M0.00,-17.00 L4.55,-5.50 L15.30,-5.50 L7.35,1.90 L9.40,12.20 L0.00,7.40 L-9.40,12.20 L-7.35,1.90 L-15.10,-5.50 L-4.55,-5.50Z" fill="#909090" opacity="0.7" transform="translate(2.2,2.5)" filter="url(#bl)"/><path d="M0.00,-17.00 L4.55,-5.50 L15.30,-5.50 L7.35,1.90 L9.40,12.20 L0.00,7.40 L-9.40,12.20 L-7.35,1.90 L-15.10,-5.50 L-4.55,-5.50Z" fill="#d8d23e"/><path d="M0,0 L0.00,-17.00 L-4.55,-5.50Z" fill="#e7e441"/><path d="M0,0 L0.00,-17.00 L4.55,-5.50Z" fill="#c2bc2b"/><path d="M0,0 L15.30,-5.50 L4.55,-5.50Z" fill="#f9f74b"/><path d="M0,0 L15.30,-5.50 L7.35,1.90Z" fill="#b0a820"/><path d="M0,0 L9.40,12.20 L7.35,1.90Z" fill="#d8d438"/><path d="M0,0 L9.40,12.20 L0.00,7.40Z" fill="#d1cb33"/><path d="M0,0 L-9.40,12.20 L0.00,7.40Z" fill="#b3ab21"/><path d="M0,0 L-9.40,12.20 L-7.35,1.90Z" fill="#f6f44a"/><path d="M0,0 L-15.10,-5.50 L-7.35,1.90Z" fill="#bcb527"/><path d="M0,0 L-15.10,-5.50 L-4.55,-5.50Z" fill="#edea44"/><path d="M0,0 L0.00,-17.00 M0,0 L15.30,-5.50 M0,0 L9.40,12.20 M0,0 L-9.40,12.20 M0,0 L-15.10,-5.50 " stroke="#7a7210" stroke-width="0.6" fill="none" opacity="0.7"/><path d="M0,0 L4.55,-5.50 M0,0 L7.35,1.90 M0,0 L0.00,7.40 M0,0 L-7.35,1.90 M0,0 L-4.55,-5.50 " stroke="#8a8214" stroke-width="0.5" fill="none" opacity="0.45"/><path d="M0.00,-17.00 L4.55,-5.50 L15.30,-5.50 L7.35,1.90 L9.40,12.20 L0.00,7.40 L-9.40,12.20 L-7.35,1.90 L-15.10,-5.50 L-4.55,-5.50Z" fill="none" stroke="#1a1a00" stroke-width="1.15" stroke-linejoin="miter" stroke-miterlimit="10"/></g></g>
<g transform="translate(717.60,484.40)"><g><path d="M0.00,-17.00 L4.55,-5.50 L15.30,-5.50 L7.35,1.90 L9.40,12.20 L0.00,7.40 L-9.40,12.20 L-7.35,1.90 L-15.10,-5.50 L-4.55,-5.50Z" fill="#909090" opacity="0.7" transform="translate(2.2,2.5)" filter="url(#bl)"/><path d="M0.00,-17.00 L4.55,-5.50 L15.30,-5.50 L7.35,1.90 L9.40,12.20 L0.00,7.40 L-9.40,12.20 L-7.35,1.90 L-15.10,-5.50 L-4.55,-5.50Z" fill="#d8d23e"/><path d="M0,0 L0.00,-17.00 L-4.55,-5.50Z" fill="#e7e441"/><path d="M0,0 L0.00,-17.00 L4.55,-5.50Z" fill="#c2bc2b"/><path d="M0,0 L15.30,-5.50 L4.55,-5.50Z" fill="#f9f74b"/><path d="M0,0 L15.30,-5.50 L7.35,1.90Z" fill="#b0a820"/><path d="M0,0 L9.40,12.20 L7.35,1.90Z" fill="#d8d438"/><path d="M0,0 L9.40,12.20 L0.00,7.40Z" fill="#d1cb33"/><path d="M0,0 L-9.40,12.20 L0.00,7.40Z" fill="#b3ab21"/><path d="M0,0 L-9.40,12.20 L-7.35,1.90Z" fill="#f6f44a"/><path d="M0,0 L-15.10,-5.50 L-7.35,1.90Z" fill="#bcb527"/><path d="M0,0 L-15.10,-5.50 L-4.55,-5.50Z" fill="#edea44"/><path d="M0,0 L0.00,-17.00 M0,0 L15.30,-5.50 M0,0 L9.40,12.20 M0,0 L-9.40,12.20 M0,0 L-15.10,-5.50 " stroke="#7a7210" stroke-width="0.6" fill="none" opacity="0.7"/><path d="M0,0 L4.55,-5.50 M0,0 L7.35,1.90 M0,0 L0.00,7.40 M0,0 L-7.35,1.90 M0,0 L-4.55,-5.50 " stroke="#8a8214" stroke-width="0.5" fill="none" opacity="0.45"/><path d="M0.00,-17.00 L4.55,-5.50 L15.30,-5.50 L7.35,1.90 L9.40,12.20 L0.00,7.40 L-9.40,12.20 L-7.35,1.90 L-15.10,-5.50 L-4.55,-5.50Z" fill="none" stroke="#1a1a00" stroke-width="1.15" stroke-linejoin="miter" stroke-miterlimit="10"/></g></g>
<g transform="translate(50.40,523.60)"><g><path d="M0.00,-17.00 L4.55,-5.50 L15.30,-5.50 L7.35,1.90 L9.40,12.20 L0.00,7.40 L-9.40,12.20 L-7.35,1.90 L-15.10,-5.50 L-4.55,-5.50Z" fill="#909090" opacity="0.7" transform="translate(2.2,2.5)" filter="url(#bl)"/><path d="M0.00,-17.00 L4.55,-5.50 L15.30,-5.50 L7.35,1.90 L9.40,12.20 L0.00,7.40 L-9.40,12.20 L-7.35,1.90 L-15.10,-5.50 L-4.55,-5.50Z" fill="#d8d23e"/><path d="M0,0 L0.00,-17.00 L-4.55,-5.50Z" fill="#e7e441"/><path d="M0,0 L0.00,-17.00 L4.55,-5.50Z" fill="#c2bc2b"/><path d="M0,0 L15.30,-5.50 L4.55,-5.50Z" fill="#f9f74b"/><path d="M0,0 L15.30,-5.50 L7.35,1.90Z" fill="#b0a820"/><path d="M0,0 L9.40,12.20 L7.35,1.90Z" fill="#d8d438"/><path d="M0,0 L9.40,12.20 L0.00,7.40Z" fill="#d1cb33"/><path d="M0,0 L-9.40,12.20 L0.00,7.40Z" fill="#b3ab21"/><path d="M0,0 L-9.40,12.20 L-7.35,1.90Z" fill="#f6f44a"/><path d="M0,0 L-15.10,-5.50 L-7.35,1.90Z" fill="#bcb527"/><path d="M0,0 L-15.10,-5.50 L-4.55,-5.50Z" fill="#edea44"/><path d="M0,0 L0.00,-17.00 M0,0 L15.30,-5.50 M0,0 L9.40,12.20 M0,0 L-9.40,12.20 M0,0 L-15.10,-5.50 " stroke="#7a7210" stroke-width="0.6" fill="none" opacity="0.7"/><path d="M0,0 L4.55,-5.50 M0,0 L7.35,1.90 M0,0 L0.00,7.40 M0,0 L-7.35,1.90 M0,0 L-4.55,-5.50 " stroke="#8a8214" stroke-width="0.5" fill="none" opacity="0.45"/><path d="M0.00,-17.00 L4.55,-5.50 L15.30,-5.50 L7.35,1.90 L9.40,12.20 L0.00,7.40 L-9.40,12.20 L-7.35,1.90 L-15.10,-5.50 L-4.55,-5.50Z" fill="none" stroke="#1a1a00" stroke-width="1.15" stroke-linejoin="miter" stroke-miterlimit="10"/></g></g>
<g transform="translate(717.60,523.60)"><g><path d="M0.00,-17.00 L4.55,-5.50 L15.30,-5.50 L7.35,1.90 L9.40,12.20 L0.00,7.40 L-9.40,12.20 L-7.35,1.90 L-15.10,-5.50 L-4.55,-5.50Z" fill="#909090" opacity="0.7" transform="translate(2.2,2.5)" filter="url(#bl)"/><path d="M0.00,-17.00 L4.55,-5.50 L15.30,-5.50 L7.35,1.90 L9.40,12.20 L0.00,7.40 L-9.40,12.20 L-7.35,1.90 L-15.10,-5.50 L-4.55,-5.50Z" fill="#d8d23e"/><path d="M0,0 L0.00,-17.00 L-4.55,-5.50Z" fill="#e7e441"/><path d="M0,0 L0.00,-17.00 L4.55,-5.50Z" fill="#c2bc2b"/><path d="M0,0 L15.30,-5.50 L4.55,-5.50Z" fill="#f9f74b"/><path d="M0,0 L15.30,-5.50 L7.35,1.90Z" fill="#b0a820"/><path d="M0,0 L9.40,12.20 L7.35,1.90Z" fill="#d8d438"/><path d="M0,0 L9.40,12.20 L0.00,7.40Z" fill="#d1cb33"/><path d="M0,0 L-9.40,12.20 L0.00,7.40Z" fill="#b3ab21"/><path d="M0,0 L-9.40,12.20 L-7.35,1.90Z" fill="#f6f44a"/><path d="M0,0 L-15.10,-5.50 L-7.35,1.90Z" fill="#bcb527"/><path d="M0,0 L-15.10,-5.50 L-4.55,-5.50Z" fill="#edea44"/><path d="M0,0 L0.00,-17.00 M0,0 L15.30,-5.50 M0,0 L9.40,12.20 M0,0 L-9.40,12.20 M0,0 L-15.10,-5.50 " stroke="#7a7210" stroke-width="0.6" fill="none" opacity="0.7"/><path d="M0,0 L4.55,-5.50 M0,0 L7.35,1.90 M0,0 L0.00,7.40 M0,0 L-7.35,1.90 M0,0 L-4.55,-5.50 " stroke="#8a8214" stroke-width="0.5" fill="none" opacity="0.45"/><path d="M0.00,-17.00 L4.55,-5.50 L15.30,-5.50 L7.35,1.90 L9.40,12.20 L0.00,7.40 L-9.40,12.20 L-7.35,1.90 L-15.10,-5.50 L-4.55,-5.50Z" fill="none" stroke="#1a1a00" stroke-width="1.15" stroke-linejoin="miter" stroke-miterlimit="10"/></g></g>
<g transform="translate(50.40,563.30)"><g><path d="M0.00,-17.00 L4.55,-5.50 L15.30,-5.50 L7.35,1.90 L9.40,12.20 L0.00,7.40 L-9.40,12.20 L-7.35,1.90 L-15.10,-5.50 L-4.55,-5.50Z" fill="#909090" opacity="0.7" transform="translate(2.2,2.5)" filter="url(#bl)"/><path d="M0.00,-17.00 L4.55,-5.50 L15.30,-5.50 L7.35,1.90 L9.40,12.20 L0.00,7.40 L-9.40,12.20 L-7.35,1.90 L-15.10,-5.50 L-4.55,-5.50Z" fill="#d8d23e"/><path d="M0,0 L0.00,-17.00 L-4.55,-5.50Z" fill="#e7e441"/><path d="M0,0 L0.00,-17.00 L4.55,-5.50Z" fill="#c2bc2b"/><path d="M0,0 L15.30,-5.50 L4.55,-5.50Z" fill="#f9f74b"/><path d="M0,0 L15.30,-5.50 L7.35,1.90Z" fill="#b0a820"/><path d="M0,0 L9.40,12.20 L7.35,1.90Z" fill="#d8d438"/><path d="M0,0 L9.40,12.20 L0.00,7.40Z" fill="#d1cb33"/><path d="M0,0 L-9.40,12.20 L0.00,7.40Z" fill="#b3ab21"/><path d="M0,0 L-9.40,12.20 L-7.35,1.90Z" fill="#f6f44a"/><path d="M0,0 L-15.10,-5.50 L-7.35,1.90Z" fill="#bcb527"/><path d="M0,0 L-15.10,-5.50 L-4.55,-5.50Z" fill="#edea44"/><path d="M0,0 L0.00,-17.00 M0,0 L15.30,-5.50 M0,0 L9.40,12.20 M0,0 L-9.40,12.20 M0,0 L-15.10,-5.50 " stroke="#7a7210" stroke-width="0.6" fill="none" opacity="0.7"/><path d="M0,0 L4.55,-5.50 M0,0 L7.35,1.90 M0,0 L0.00,7.40 M0,0 L-7.35,1.90 M0,0 L-4.55,-5.50 " stroke="#8a8214" stroke-width="0.5" fill="none" opacity="0.45"/><path d="M0.00,-17.00 L4.55,-5.50 L15.30,-5.50 L7.35,1.90 L9.40,12.20 L0.00,7.40 L-9.40,12.20 L-7.35,1.90 L-15.10,-5.50 L-4.55,-5.50Z" fill="none" stroke="#1a1a00" stroke-width="1.15" stroke-linejoin="miter" stroke-miterlimit="10"/></g></g>
<g transform="translate(717.60,563.30)"><g><path d="M0.00,-17.00 L4.55,-5.50 L15.30,-5.50 L7.35,1.90 L9.40,12.20 L0.00,7.40 L-9.40,12.20 L-7.35,1.90 L-15.10,-5.50 L-4.55,-5.50Z" fill="#909090" opacity="0.7" transform="translate(2.2,2.5)" filter="url(#bl)"/><path d="M0.00,-17.00 L4.55,-5.50 L15.30,-5.50 L7.35,1.90 L9.40,12.20 L0.00,7.40 L-9.40,12.20 L-7.35,1.90 L-15.10,-5.50 L-4.55,-5.50Z" fill="#d8d23e"/><path d="M0,0 L0.00,-17.00 L-4.55,-5.50Z" fill="#e7e441"/><path d="M0,0 L0.00,-17.00 L4.55,-5.50Z" fill="#c2bc2b"/><path d="M0,0 L15.30,-5.50 L4.55,-5.50Z" fill="#f9f74b"/><path d="M0,0 L15.30,-5.50 L7.35,1.90Z" fill="#b0a820"/><path d="M0,0 L9.40,12.20 L7.35,1.90Z" fill="#d8d438"/><path d="M0,0 L9.40,12.20 L0.00,7.40Z" fill="#d1cb33"/><path d="M0,0 L-9.40,12.20 L0.00,7.40Z" fill="#b3ab21"/><path d="M0,0 L-9.40,12.20 L-7.35,1.90Z" fill="#f6f44a"/><path d="M0,0 L-15.10,-5.50 L-7.35,1.90Z" fill="#bcb527"/><path d="M0,0 L-15.10,-5.50 L-4.55,-5.50Z" fill="#edea44"/><path d="M0,0 L0.00,-17.00 M0,0 L15.30,-5.50 M0,0 L9.40,12.20 M0,0 L-9.40,12.20 M0,0 L-15.10,-5.50 " stroke="#7a7210" stroke-width="0.6" fill="none" opacity="0.7"/><path d="M0,0 L4.55,-5.50 M0,0 L7.35,1.90 M0,0 L0.00,7.40 M0,0 L-7.35,1.90 M0,0 L-4.55,-5.50 " stroke="#8a8214" stroke-width="0.5" fill="none" opacity="0.45"/><path d="M0.00,-17.00 L4.55,-5.50 L15.30,-5.50 L7.35,1.90 L9.40,12.20 L0.00,7.40 L-9.40,12.20 L-7.35,1.90 L-15.10,-5.50 L-4.55,-5.50Z" fill="none" stroke="#1a1a00" stroke-width="1.15" stroke-linejoin="miter" stroke-miterlimit="10"/></g></g>
<g transform="translate(50.40,602.70)"><g><path d="M0.00,-17.00 L4.55,-5.50 L15.30,-5.50 L7.35,1.90 L9.40,12.20 L0.00,7.40 L-9.40,12.20 L-7.35,1.90 L-15.10,-5.50 L-4.55,-5.50Z" fill="#909090" opacity="0.7" transform="translate(2.2,2.5)" filter="url(#bl)"/><path d="M0.00,-17.00 L4.55,-5.50 L15.30,-5.50 L7.35,1.90 L9.40,12.20 L0.00,7.40 L-9.40,12.20 L-7.35,1.90 L-15.10,-5.50 L-4.55,-5.50Z" fill="#d8d23e"/><path d="M0,0 L0.00,-17.00 L-4.55,-5.50Z" fill="#e7e441"/><path d="M0,0 L0.00,-17.00 L4.55,-5.50Z" fill="#c2bc2b"/><path d="M0,0 L15.30,-5.50 L4.55,-5.50Z" fill="#f9f74b"/><path d="M0,0 L15.30,-5.50 L7.35,1.90Z" fill="#b0a820"/><path d="M0,0 L9.40,12.20 L7.35,1.90Z" fill="#d8d438"/><path d="M0,0 L9.40,12.20 L0.00,7.40Z" fill="#d1cb33"/><path d="M0,0 L-9.40,12.20 L0.00,7.40Z" fill="#b3ab21"/><path d="M0,0 L-9.40,12.20 L-7.35,1.90Z" fill="#f6f44a"/><path d="M0,0 L-15.10,-5.50 L-7.35,1.90Z" fill="#bcb527"/><path d="M0,0 L-15.10,-5.50 L-4.55,-5.50Z" fill="#edea44"/><path d="M0,0 L0.00,-17.00 M0,0 L15.30,-5.50 M0,0 L9.40,12.20 M0,0 L-9.40,12.20 M0,0 L-15.10,-5.50 " stroke="#7a7210" stroke-width="0.6" fill="none" opacity="0.7"/><path d="M0,0 L4.55,-5.50 M0,0 L7.35,1.90 M0,0 L0.00,7.40 M0,0 L-7.35,1.90 M0,0 L-4.55,-5.50 " stroke="#8a8214" stroke-width="0.5" fill="none" opacity="0.45"/><path d="M0.00,-17.00 L4.55,-5.50 L15.30,-5.50 L7.35,1.90 L9.40,12.20 L0.00,7.40 L-9.40,12.20 L-7.35,1.90 L-15.10,-5.50 L-4.55,-5.50Z" fill="none" stroke="#1a1a00" stroke-width="1.15" stroke-linejoin="miter" stroke-miterlimit="10"/></g></g>
<g transform="translate(717.60,602.70)"><g><path d="M0.00,-17.00 L4.55,-5.50 L15.30,-5.50 L7.35,1.90 L9.40,12.20 L0.00,7.40 L-9.40,12.20 L-7.35,1.90 L-15.10,-5.50 L-4.55,-5.50Z" fill="#909090" opacity="0.7" transform="translate(2.2,2.5)" filter="url(#bl)"/><path d="M0.00,-17.00 L4.55,-5.50 L15.30,-5.50 L7.35,1.90 L9.40,12.20 L0.00,7.40 L-9.40,12.20 L-7.35,1.90 L-15.10,-5.50 L-4.55,-5.50Z" fill="#d8d23e"/><path d="M0,0 L0.00,-17.00 L-4.55,-5.50Z" fill="#e7e441"/><path d="M0,0 L0.00,-17.00 L4.55,-5.50Z" fill="#c2bc2b"/><path d="M0,0 L15.30,-5.50 L4.55,-5.50Z" fill="#f9f74b"/><path d="M0,0 L15.30,-5.50 L7.35,1.90Z" fill="#b0a820"/><path d="M0,0 L9.40,12.20 L7.35,1.90Z" fill="#d8d438"/><path d="M0,0 L9.40,12.20 L0.00,7.40Z" fill="#d1cb33"/><path d="M0,0 L-9.40,12.20 L0.00,7.40Z" fill="#b3ab21"/><path d="M0,0 L-9.40,12.20 L-7.35,1.90Z" fill="#f6f44a"/><path d="M0,0 L-15.10,-5.50 L-7.35,1.90Z" fill="#bcb527"/><path d="M0,0 L-15.10,-5.50 L-4.55,-5.50Z" fill="#edea44"/><path d="M0,0 L0.00,-17.00 M0,0 L15.30,-5.50 M0,0 L9.40,12.20 M0,0 L-9.40,12.20 M0,0 L-15.10,-5.50 " stroke="#7a7210" stroke-width="0.6" fill="none" opacity="0.7"/><path d="M0,0 L4.55,-5.50 M0,0 L7.35,1.90 M0,0 L0.00,7.40 M0,0 L-7.35,1.90 M0,0 L-4.55,-5.50 " stroke="#8a8214" stroke-width="0.5" fill="none" opacity="0.45"/><path d="M0.00,-17.00 L4.55,-5.50 L15.30,-5.50 L7.35,1.90 L9.40,12.20 L0.00,7.40 L-9.40,12.20 L-7.35,1.90 L-15.10,-5.50 L-4.55,-5.50Z" fill="none" stroke="#1a1a00" stroke-width="1.15" stroke-linejoin="miter" stroke-miterlimit="10"/></g></g>
<g transform="translate(50.40,642.50)"><g><path d="M0.00,-17.00 L4.55,-5.50 L15.30,-5.50 L7.35,1.90 L9.40,12.20 L0.00,7.40 L-9.40,12.20 L-7.35,1.90 L-15.10,-5.50 L-4.55,-5.50Z" fill="#909090" opacity="0.7" transform="translate(2.2,2.5)" filter="url(#bl)"/><path d="M0.00,-17.00 L4.55,-5.50 L15.30,-5.50 L7.35,1.90 L9.40,12.20 L0.00,7.40 L-9.40,12.20 L-7.35,1.90 L-15.10,-5.50 L-4.55,-5.50Z" fill="#d8d23e"/><path d="M0,0 L0.00,-17.00 L-4.55,-5.50Z" fill="#e7e441"/><path d="M0,0 L0.00,-17.00 L4.55,-5.50Z" fill="#c2bc2b"/><path d="M0,0 L15.30,-5.50 L4.55,-5.50Z" fill="#f9f74b"/><path d="M0,0 L15.30,-5.50 L7.35,1.90Z" fill="#b0a820"/><path d="M0,0 L9.40,12.20 L7.35,1.90Z" fill="#d8d438"/><path d="M0,0 L9.40,12.20 L0.00,7.40Z" fill="#d1cb33"/><path d="M0,0 L-9.40,12.20 L0.00,7.40Z" fill="#b3ab21"/><path d="M0,0 L-9.40,12.20 L-7.35,1.90Z" fill="#f6f44a"/><path d="M0,0 L-15.10,-5.50 L-7.35,1.90Z" fill="#bcb527"/><path d="M0,0 L-15.10,-5.50 L-4.55,-5.50Z" fill="#edea44"/><path d="M0,0 L0.00,-17.00 M0,0 L15.30,-5.50 M0,0 L9.40,12.20 M0,0 L-9.40,12.20 M0,0 L-15.10,-5.50 " stroke="#7a7210" stroke-width="0.6" fill="none" opacity="0.7"/><path d="M0,0 L4.55,-5.50 M0,0 L7.35,1.90 M0,0 L0.00,7.40 M0,0 L-7.35,1.90 M0,0 L-4.55,-5.50 " stroke="#8a8214" stroke-width="0.5" fill="none" opacity="0.45"/><path d="M0.00,-17.00 L4.55,-5.50 L15.30,-5.50 L7.35,1.90 L9.40,12.20 L0.00,7.40 L-9.40,12.20 L-7.35,1.90 L-15.10,-5.50 L-4.55,-5.50Z" fill="none" stroke="#1a1a00" stroke-width="1.15" stroke-linejoin="miter" stroke-miterlimit="10"/></g></g>
<g transform="translate(717.60,642.50)"><g><path d="M0.00,-17.00 L4.55,-5.50 L15.30,-5.50 L7.35,1.90 L9.40,12.20 L0.00,7.40 L-9.40,12.20 L-7.35,1.90 L-15.10,-5.50 L-4.55,-5.50Z" fill="#909090" opacity="0.7" transform="translate(2.2,2.5)" filter="url(#bl)"/><path d="M0.00,-17.00 L4.55,-5.50 L15.30,-5.50 L7.35,1.90 L9.40,12.20 L0.00,7.40 L-9.40,12.20 L-7.35,1.90 L-15.10,-5.50 L-4.55,-5.50Z" fill="#d8d23e"/><path d="M0,0 L0.00,-17.00 L-4.55,-5.50Z" fill="#e7e441"/><path d="M0,0 L0.00,-17.00 L4.55,-5.50Z" fill="#c2bc2b"/><path d="M0,0 L15.30,-5.50 L4.55,-5.50Z" fill="#f9f74b"/><path d="M0,0 L15.30,-5.50 L7.35,1.90Z" fill="#b0a820"/><path d="M0,0 L9.40,12.20 L7.35,1.90Z" fill="#d8d438"/><path d="M0,0 L9.40,12.20 L0.00,7.40Z" fill="#d1cb33"/><path d="M0,0 L-9.40,12.20 L0.00,7.40Z" fill="#b3ab21"/><path d="M0,0 L-9.40,12.20 L-7.35,1.90Z" fill="#f6f44a"/><path d="M0,0 L-15.10,-5.50 L-7.35,1.90Z" fill="#bcb527"/><path d="M0,0 L-15.10,-5.50 L-4.55,-5.50Z" fill="#edea44"/><path d="M0,0 L0.00,-17.00 M0,0 L15.30,-5.50 M0,0 L9.40,12.20 M0,0 L-9.40,12.20 M0,0 L-15.10,-5.50 " stroke="#7a7210" stroke-width="0.6" fill="none" opacity="0.7"/><path d="M0,0 L4.55,-5.50 M0,0 L7.35,1.90 M0,0 L0.00,7.40 M0,0 L-7.35,1.90 M0,0 L-4.55,-5.50 " stroke="#8a8214" stroke-width="0.5" fill="none" opacity="0.45"/><path d="M0.00,-17.00 L4.55,-5.50 L15.30,-5.50 L7.35,1.90 L9.40,12.20 L0.00,7.40 L-9.40,12.20 L-7.35,1.90 L-15.10,-5.50 L-4.55,-5.50Z" fill="none" stroke="#1a1a00" stroke-width="1.15" stroke-linejoin="miter" stroke-miterlimit="10"/></g></g>
<g transform="translate(50.40,681.40)"><g><path d="M0.00,-17.00 L4.55,-5.50 L15.30,-5.50 L7.35,1.90 L9.40,12.20 L0.00,7.40 L-9.40,12.20 L-7.35,1.90 L-15.10,-5.50 L-4.55,-5.50Z" fill="#909090" opacity="0.7" transform="translate(2.2,2.5)" filter="url(#bl)"/><path d="M0.00,-17.00 L4.55,-5.50 L15.30,-5.50 L7.35,1.90 L9.40,12.20 L0.00,7.40 L-9.40,12.20 L-7.35,1.90 L-15.10,-5.50 L-4.55,-5.50Z" fill="#d8d23e"/><path d="M0,0 L0.00,-17.00 L-4.55,-5.50Z" fill="#e7e441"/><path d="M0,0 L0.00,-17.00 L4.55,-5.50Z" fill="#c2bc2b"/><path d="M0,0 L15.30,-5.50 L4.55,-5.50Z" fill="#f9f74b"/><path d="M0,0 L15.30,-5.50 L7.35,1.90Z" fill="#b0a820"/><path d="M0,0 L9.40,12.20 L7.35,1.90Z" fill="#d8d438"/><path d="M0,0 L9.40,12.20 L0.00,7.40Z" fill="#d1cb33"/><path d="M0,0 L-9.40,12.20 L0.00,7.40Z" fill="#b3ab21"/><path d="M0,0 L-9.40,12.20 L-7.35,1.90Z" fill="#f6f44a"/><path d="M0,0 L-15.10,-5.50 L-7.35,1.90Z" fill="#bcb527"/><path d="M0,0 L-15.10,-5.50 L-4.55,-5.50Z" fill="#edea44"/><path d="M0,0 L0.00,-17.00 M0,0 L15.30,-5.50 M0,0 L9.40,12.20 M0,0 L-9.40,12.20 M0,0 L-15.10,-5.50 " stroke="#7a7210" stroke-width="0.6" fill="none" opacity="0.7"/><path d="M0,0 L4.55,-5.50 M0,0 L7.35,1.90 M0,0 L0.00,7.40 M0,0 L-7.35,1.90 M0,0 L-4.55,-5.50 " stroke="#8a8214" stroke-width="0.5" fill="none" opacity="0.45"/><path d="M0.00,-17.00 L4.55,-5.50 L15.30,-5.50 L7.35,1.90 L9.40,12.20 L0.00,7.40 L-9.40,12.20 L-7.35,1.90 L-15.10,-5.50 L-4.55,-5.50Z" fill="none" stroke="#1a1a00" stroke-width="1.15" stroke-linejoin="miter" stroke-miterlimit="10"/></g></g>
<g transform="translate(717.60,681.40)"><g><path d="M0.00,-17.00 L4.55,-5.50 L15.30,-5.50 L7.35,1.90 L9.40,12.20 L0.00,7.40 L-9.40,12.20 L-7.35,1.90 L-15.10,-5.50 L-4.55,-5.50Z" fill="#909090" opacity="0.7" transform="translate(2.2,2.5)" filter="url(#bl)"/><path d="M0.00,-17.00 L4.55,-5.50 L15.30,-5.50 L7.35,1.90 L9.40,12.20 L0.00,7.40 L-9.40,12.20 L-7.35,1.90 L-15.10,-5.50 L-4.55,-5.50Z" fill="#d8d23e"/><path d="M0,0 L0.00,-17.00 L-4.55,-5.50Z" fill="#e7e441"/><path d="M0,0 L0.00,-17.00 L4.55,-5.50Z" fill="#c2bc2b"/><path d="M0,0 L15.30,-5.50 L4.55,-5.50Z" fill="#f9f74b"/><path d="M0,0 L15.30,-5.50 L7.35,1.90Z" fill="#b0a820"/><path d="M0,0 L9.40,12.20 L7.35,1.90Z" fill="#d8d438"/><path d="M0,0 L9.40,12.20 L0.00,7.40Z" fill="#d1cb33"/><path d="M0,0 L-9.40,12.20 L0.00,7.40Z" fill="#b3ab21"/><path d="M0,0 L-9.40,12.20 L-7.35,1.90Z" fill="#f6f44a"/><path d="M0,0 L-15.10,-5.50 L-7.35,1.90Z" fill="#bcb527"/><path d="M0,0 L-15.10,-5.50 L-4.55,-5.50Z" fill="#edea44"/><path d="M0,0 L0.00,-17.00 M0,0 L15.30,-5.50 M0,0 L9.40,12.20 M0,0 L-9.40,12.20 M0,0 L-15.10,-5.50 " stroke="#7a7210" stroke-width="0.6" fill="none" opacity="0.7"/><path d="M0,0 L4.55,-5.50 M0,0 L7.35,1.90 M0,0 L0.00,7.40 M0,0 L-7.35,1.90 M0,0 L-4.55,-5.50 " stroke="#8a8214" stroke-width="0.5" fill="none" opacity="0.45"/><path d="M0.00,-17.00 L4.55,-5.50 L15.30,-5.50 L7.35,1.90 L9.40,12.20 L0.00,7.40 L-9.40,12.20 L-7.35,1.90 L-15.10,-5.50 L-4.55,-5.50Z" fill="none" stroke="#1a1a00" stroke-width="1.15" stroke-linejoin="miter" stroke-miterlimit="10"/></g></g>
<g transform="translate(50.40,721.20)"><g><path d="M0.00,-17.00 L4.55,-5.50 L15.30,-5.50 L7.35,1.90 L9.40,12.20 L0.00,7.40 L-9.40,12.20 L-7.35,1.90 L-15.10,-5.50 L-4.55,-5.50Z" fill="#909090" opacity="0.7" transform="translate(2.2,2.5)" filter="url(#bl)"/><path d="M0.00,-17.00 L4.55,-5.50 L15.30,-5.50 L7.35,1.90 L9.40,12.20 L0.00,7.40 L-9.40,12.20 L-7.35,1.90 L-15.10,-5.50 L-4.55,-5.50Z" fill="#d8d23e"/><path d="M0,0 L0.00,-17.00 L-4.55,-5.50Z" fill="#e7e441"/><path d="M0,0 L0.00,-17.00 L4.55,-5.50Z" fill="#c2bc2b"/><path d="M0,0 L15.30,-5.50 L4.55,-5.50Z" fill="#f9f74b"/><path d="M0,0 L15.30,-5.50 L7.35,1.90Z" fill="#b0a820"/><path d="M0,0 L9.40,12.20 L7.35,1.90Z" fill="#d8d438"/><path d="M0,0 L9.40,12.20 L0.00,7.40Z" fill="#d1cb33"/><path d="M0,0 L-9.40,12.20 L0.00,7.40Z" fill="#b3ab21"/><path d="M0,0 L-9.40,12.20 L-7.35,1.90Z" fill="#f6f44a"/><path d="M0,0 L-15.10,-5.50 L-7.35,1.90Z" fill="#bcb527"/><path d="M0,0 L-15.10,-5.50 L-4.55,-5.50Z" fill="#edea44"/><path d="M0,0 L0.00,-17.00 M0,0 L15.30,-5.50 M0,0 L9.40,12.20 M0,0 L-9.40,12.20 M0,0 L-15.10,-5.50 " stroke="#7a7210" stroke-width="0.6" fill="none" opacity="0.7"/><path d="M0,0 L4.55,-5.50 M0,0 L7.35,1.90 M0,0 L0.00,7.40 M0,0 L-7.35,1.90 M0,0 L-4.55,-5.50 " stroke="#8a8214" stroke-width="0.5" fill="none" opacity="0.45"/><path d="M0.00,-17.00 L4.55,-5.50 L15.30,-5.50 L7.35,1.90 L9.40,12.20 L0.00,7.40 L-9.40,12.20 L-7.35,1.90 L-15.10,-5.50 L-4.55,-5.50Z" fill="none" stroke="#1a1a00" stroke-width="1.15" stroke-linejoin="miter" stroke-miterlimit="10"/></g></g>
<g transform="translate(717.60,721.20)"><g><path d="M0.00,-17.00 L4.55,-5.50 L15.30,-5.50 L7.35,1.90 L9.40,12.20 L0.00,7.40 L-9.40,12.20 L-7.35,1.90 L-15.10,-5.50 L-4.55,-5.50Z" fill="#909090" opacity="0.7" transform="translate(2.2,2.5)" filter="url(#bl)"/><path d="M0.00,-17.00 L4.55,-5.50 L15.30,-5.50 L7.35,1.90 L9.40,12.20 L0.00,7.40 L-9.40,12.20 L-7.35,1.90 L-15.10,-5.50 L-4.55,-5.50Z" fill="#d8d23e"/><path d="M0,0 L0.00,-17.00 L-4.55,-5.50Z" fill="#e7e441"/><path d="M0,0 L0.00,-17.00 L4.55,-5.50Z" fill="#c2bc2b"/><path d="M0,0 L15.30,-5.50 L4.55,-5.50Z" fill="#f9f74b"/><path d="M0,0 L15.30,-5.50 L7.35,1.90Z" fill="#b0a820"/><path d="M0,0 L9.40,12.20 L7.35,1.90Z" fill="#d8d438"/><path d="M0,0 L9.40,12.20 L0.00,7.40Z" fill="#d1cb33"/><path d="M0,0 L-9.40,12.20 L0.00,7.40Z" fill="#b3ab21"/><path d="M0,0 L-9.40,12.20 L-7.35,1.90Z" fill="#f6f44a"/><path d="M0,0 L-15.10,-5.50 L-7.35,1.90Z" fill="#bcb527"/><path d="M0,0 L-15.10,-5.50 L-4.55,-5.50Z" fill="#edea44"/><path d="M0,0 L0.00,-17.00 M0,0 L15.30,-5.50 M0,0 L9.40,12.20 M0,0 L-9.40,12.20 M0,0 L-15.10,-5.50 " stroke="#7a7210" stroke-width="0.6" fill="none" opacity="0.7"/><path d="M0,0 L4.55,-5.50 M0,0 L7.35,1.90 M0,0 L0.00,7.40 M0,0 L-7.35,1.90 M0,0 L-4.55,-5.50 " stroke="#8a8214" stroke-width="0.5" fill="none" opacity="0.45"/><path d="M0.00,-17.00 L4.55,-5.50 L15.30,-5.50 L7.35,1.90 L9.40,12.20 L0.00,7.40 L-9.40,12.20 L-7.35,1.90 L-15.10,-5.50 L-4.55,-5.50Z" fill="none" stroke="#1a1a00" stroke-width="1.15" stroke-linejoin="miter" stroke-miterlimit="10"/></g></g>
<g transform="translate(50.40,760.40)"><g><path d="M0.00,-17.00 L4.55,-5.50 L15.30,-5.50 L7.35,1.90 L9.40,12.20 L0.00,7.40 L-9.40,12.20 L-7.35,1.90 L-15.10,-5.50 L-4.55,-5.50Z" fill="#909090" opacity="0.7" transform="translate(2.2,2.5)" filter="url(#bl)"/><path d="M0.00,-17.00 L4.55,-5.50 L15.30,-5.50 L7.35,1.90 L9.40,12.20 L0.00,7.40 L-9.40,12.20 L-7.35,1.90 L-15.10,-5.50 L-4.55,-5.50Z" fill="#d8d23e"/><path d="M0,0 L0.00,-17.00 L-4.55,-5.50Z" fill="#e7e441"/><path d="M0,0 L0.00,-17.00 L4.55,-5.50Z" fill="#c2bc2b"/><path d="M0,0 L15.30,-5.50 L4.55,-5.50Z" fill="#f9f74b"/><path d="M0,0 L15.30,-5.50 L7.35,1.90Z" fill="#b0a820"/><path d="M0,0 L9.40,12.20 L7.35,1.90Z" fill="#d8d438"/><path d="M0,0 L9.40,12.20 L0.00,7.40Z" fill="#d1cb33"/><path d="M0,0 L-9.40,12.20 L0.00,7.40Z" fill="#b3ab21"/><path d="M0,0 L-9.40,12.20 L-7.35,1.90Z" fill="#f6f44a"/><path d="M0,0 L-15.10,-5.50 L-7.35,1.90Z" fill="#bcb527"/><path d="M0,0 L-15.10,-5.50 L-4.55,-5.50Z" fill="#edea44"/><path d="M0,0 L0.00,-17.00 M0,0 L15.30,-5.50 M0,0 L9.40,12.20 M0,0 L-9.40,12.20 M0,0 L-15.10,-5.50 " stroke="#7a7210" stroke-width="0.6" fill="none" opacity="0.7"/><path d="M0,0 L4.55,-5.50 M0,0 L7.35,1.90 M0,0 L0.00,7.40 M0,0 L-7.35,1.90 M0,0 L-4.55,-5.50 " stroke="#8a8214" stroke-width="0.5" fill="none" opacity="0.45"/><path d="M0.00,-17.00 L4.55,-5.50 L15.30,-5.50 L7.35,1.90 L9.40,12.20 L0.00,7.40 L-9.40,12.20 L-7.35,1.90 L-15.10,-5.50 L-4.55,-5.50Z" fill="none" stroke="#1a1a00" stroke-width="1.15" stroke-linejoin="miter" stroke-miterlimit="10"/></g></g>
<g transform="translate(717.60,760.40)"><g><path d="M0.00,-17.00 L4.55,-5.50 L15.30,-5.50 L7.35,1.90 L9.40,12.20 L0.00,7.40 L-9.40,12.20 L-7.35,1.90 L-15.10,-5.50 L-4.55,-5.50Z" fill="#909090" opacity="0.7" transform="translate(2.2,2.5)" filter="url(#bl)"/><path d="M0.00,-17.00 L4.55,-5.50 L15.30,-5.50 L7.35,1.90 L9.40,12.20 L0.00,7.40 L-9.40,12.20 L-7.35,1.90 L-15.10,-5.50 L-4.55,-5.50Z" fill="#d8d23e"/><path d="M0,0 L0.00,-17.00 L-4.55,-5.50Z" fill="#e7e441"/><path d="M0,0 L0.00,-17.00 L4.55,-5.50Z" fill="#c2bc2b"/><path d="M0,0 L15.30,-5.50 L4.55,-5.50Z" fill="#f9f74b"/><path d="M0,0 L15.30,-5.50 L7.35,1.90Z" fill="#b0a820"/><path d="M0,0 L9.40,12.20 L7.35,1.90Z" fill="#d8d438"/><path d="M0,0 L9.40,12.20 L0.00,7.40Z" fill="#d1cb33"/><path d="M0,0 L-9.40,12.20 L0.00,7.40Z" fill="#b3ab21"/><path d="M0,0 L-9.40,12.20 L-7.35,1.90Z" fill="#f6f44a"/><path d="M0,0 L-15.10,-5.50 L-7.35,1.90Z" fill="#bcb527"/><path d="M0,0 L-15.10,-5.50 L-4.55,-5.50Z" fill="#edea44"/><path d="M0,0 L0.00,-17.00 M0,0 L15.30,-5.50 M0,0 L9.40,12.20 M0,0 L-9.40,12.20 M0,0 L-15.10,-5.50 " stroke="#7a7210" stroke-width="0.6" fill="none" opacity="0.7"/><path d="M0,0 L4.55,-5.50 M0,0 L7.35,1.90 M0,0 L0.00,7.40 M0,0 L-7.35,1.90 M0,0 L-4.55,-5.50 " stroke="#8a8214" stroke-width="0.5" fill="none" opacity="0.45"/><path d="M0.00,-17.00 L4.55,-5.50 L15.30,-5.50 L7.35,1.90 L9.40,12.20 L0.00,7.40 L-9.40,12.20 L-7.35,1.90 L-15.10,-5.50 L-4.55,-5.50Z" fill="none" stroke="#1a1a00" stroke-width="1.15" stroke-linejoin="miter" stroke-miterlimit="10"/></g></g>
<g transform="translate(50.40,800.30)"><g><path d="M0.00,-17.00 L4.55,-5.50 L15.30,-5.50 L7.35,1.90 L9.40,12.20 L0.00,7.40 L-9.40,12.20 L-7.35,1.90 L-15.10,-5.50 L-4.55,-5.50Z" fill="#909090" opacity="0.7" transform="translate(2.2,2.5)" filter="url(#bl)"/><path d="M0.00,-17.00 L4.55,-5.50 L15.30,-5.50 L7.35,1.90 L9.40,12.20 L0.00,7.40 L-9.40,12.20 L-7.35,1.90 L-15.10,-5.50 L-4.55,-5.50Z" fill="#d8d23e"/><path d="M0,0 L0.00,-17.00 L-4.55,-5.50Z" fill="#e7e441"/><path d="M0,0 L0.00,-17.00 L4.55,-5.50Z" fill="#c2bc2b"/><path d="M0,0 L15.30,-5.50 L4.55,-5.50Z" fill="#f9f74b"/><path d="M0,0 L15.30,-5.50 L7.35,1.90Z" fill="#b0a820"/><path d="M0,0 L9.40,12.20 L7.35,1.90Z" fill="#d8d438"/><path d="M0,0 L9.40,12.20 L0.00,7.40Z" fill="#d1cb33"/><path d="M0,0 L-9.40,12.20 L0.00,7.40Z" fill="#b3ab21"/><path d="M0,0 L-9.40,12.20 L-7.35,1.90Z" fill="#f6f44a"/><path d="M0,0 L-15.10,-5.50 L-7.35,1.90Z" fill="#bcb527"/><path d="M0,0 L-15.10,-5.50 L-4.55,-5.50Z" fill="#edea44"/><path d="M0,0 L0.00,-17.00 M0,0 L15.30,-5.50 M0,0 L9.40,12.20 M0,0 L-9.40,12.20 M0,0 L-15.10,-5.50 " stroke="#7a7210" stroke-width="0.6" fill="none" opacity="0.7"/><path d="M0,0 L4.55,-5.50 M0,0 L7.35,1.90 M0,0 L0.00,7.40 M0,0 L-7.35,1.90 M0,0 L-4.55,-5.50 " stroke="#8a8214" stroke-width="0.5" fill="none" opacity="0.45"/><path d="M0.00,-17.00 L4.55,-5.50 L15.30,-5.50 L7.35,1.90 L9.40,12.20 L0.00,7.40 L-9.40,12.20 L-7.35,1.90 L-15.10,-5.50 L-4.55,-5.50Z" fill="none" stroke="#1a1a00" stroke-width="1.15" stroke-linejoin="miter" stroke-miterlimit="10"/></g></g>
<g transform="translate(717.60,800.30)"><g><path d="M0.00,-17.00 L4.55,-5.50 L15.30,-5.50 L7.35,1.90 L9.40,12.20 L0.00,7.40 L-9.40,12.20 L-7.35,1.90 L-15.10,-5.50 L-4.55,-5.50Z" fill="#909090" opacity="0.7" transform="translate(2.2,2.5)" filter="url(#bl)"/><path d="M0.00,-17.00 L4.55,-5.50 L15.30,-5.50 L7.35,1.90 L9.40,12.20 L0.00,7.40 L-9.40,12.20 L-7.35,1.90 L-15.10,-5.50 L-4.55,-5.50Z" fill="#d8d23e"/><path d="M0,0 L0.00,-17.00 L-4.55,-5.50Z" fill="#e7e441"/><path d="M0,0 L0.00,-17.00 L4.55,-5.50Z" fill="#c2bc2b"/><path d="M0,0 L15.30,-5.50 L4.55,-5.50Z" fill="#f9f74b"/><path d="M0,0 L15.30,-5.50 L7.35,1.90Z" fill="#b0a820"/><path d="M0,0 L9.40,12.20 L7.35,1.90Z" fill="#d8d438"/><path d="M0,0 L9.40,12.20 L0.00,7.40Z" fill="#d1cb33"/><path d="M0,0 L-9.40,12.20 L0.00,7.40Z" fill="#b3ab21"/><path d="M0,0 L-9.40,12.20 L-7.35,1.90Z" fill="#f6f44a"/><path d="M0,0 L-15.10,-5.50 L-7.35,1.90Z" fill="#bcb527"/><path d="M0,0 L-15.10,-5.50 L-4.55,-5.50Z" fill="#edea44"/><path d="M0,0 L0.00,-17.00 M0,0 L15.30,-5.50 M0,0 L9.40,12.20 M0,0 L-9.40,12.20 M0,0 L-15.10,-5.50 " stroke="#7a7210" stroke-width="0.6" fill="none" opacity="0.7"/><path d="M0,0 L4.55,-5.50 M0,0 L7.35,1.90 M0,0 L0.00,7.40 M0,0 L-7.35,1.90 M0,0 L-4.55,-5.50 " stroke="#8a8214" stroke-width="0.5" fill="none" opacity="0.45"/><path d="M0.00,-17.00 L4.55,-5.50 L15.30,-5.50 L7.35,1.90 L9.40,12.20 L0.00,7.40 L-9.40,12.20 L-7.35,1.90 L-15.10,-5.50 L-4.55,-5.50Z" fill="none" stroke="#1a1a00" stroke-width="1.15" stroke-linejoin="miter" stroke-miterlimit="10"/></g></g>
<g transform="translate(50.40,839.70)"><g><path d="M0.00,-17.00 L4.55,-5.50 L15.30,-5.50 L7.35,1.90 L9.40,12.20 L0.00,7.40 L-9.40,12.20 L-7.35,1.90 L-15.10,-5.50 L-4.55,-5.50Z" fill="#909090" opacity="0.7" transform="translate(2.2,2.5)" filter="url(#bl)"/><path d="M0.00,-17.00 L4.55,-5.50 L15.30,-5.50 L7.35,1.90 L9.40,12.20 L0.00,7.40 L-9.40,12.20 L-7.35,1.90 L-15.10,-5.50 L-4.55,-5.50Z" fill="#d8d23e"/><path d="M0,0 L0.00,-17.00 L-4.55,-5.50Z" fill="#e7e441"/><path d="M0,0 L0.00,-17.00 L4.55,-5.50Z" fill="#c2bc2b"/><path d="M0,0 L15.30,-5.50 L4.55,-5.50Z" fill="#f9f74b"/><path d="M0,0 L15.30,-5.50 L7.35,1.90Z" fill="#b0a820"/><path d="M0,0 L9.40,12.20 L7.35,1.90Z" fill="#d8d438"/><path d="M0,0 L9.40,12.20 L0.00,7.40Z" fill="#d1cb33"/><path d="M0,0 L-9.40,12.20 L0.00,7.40Z" fill="#b3ab21"/><path d="M0,0 L-9.40,12.20 L-7.35,1.90Z" fill="#f6f44a"/><path d="M0,0 L-15.10,-5.50 L-7.35,1.90Z" fill="#bcb527"/><path d="M0,0 L-15.10,-5.50 L-4.55,-5.50Z" fill="#edea44"/><path d="M0,0 L0.00,-17.00 M0,0 L15.30,-5.50 M0,0 L9.40,12.20 M0,0 L-9.40,12.20 M0,0 L-15.10,-5.50 " stroke="#7a7210" stroke-width="0.6" fill="none" opacity="0.7"/><path d="M0,0 L4.55,-5.50 M0,0 L7.35,1.90 M0,0 L0.00,7.40 M0,0 L-7.35,1.90 M0,0 L-4.55,-5.50 " stroke="#8a8214" stroke-width="0.5" fill="none" opacity="0.45"/><path d="M0.00,-17.00 L4.55,-5.50 L15.30,-5.50 L7.35,1.90 L9.40,12.20 L0.00,7.40 L-9.40,12.20 L-7.35,1.90 L-15.10,-5.50 L-4.55,-5.50Z" fill="none" stroke="#1a1a00" stroke-width="1.15" stroke-linejoin="miter" stroke-miterlimit="10"/></g></g>
<g transform="translate(717.60,839.70)"><g><path d="M0.00,-17.00 L4.55,-5.50 L15.30,-5.50 L7.35,1.90 L9.40,12.20 L0.00,7.40 L-9.40,12.20 L-7.35,1.90 L-15.10,-5.50 L-4.55,-5.50Z" fill="#909090" opacity="0.7" transform="translate(2.2,2.5)" filter="url(#bl)"/><path d="M0.00,-17.00 L4.55,-5.50 L15.30,-5.50 L7.35,1.90 L9.40,12.20 L0.00,7.40 L-9.40,12.20 L-7.35,1.90 L-15.10,-5.50 L-4.55,-5.50Z" fill="#d8d23e"/><path d="M0,0 L0.00,-17.00 L-4.55,-5.50Z" fill="#e7e441"/><path d="M0,0 L0.00,-17.00 L4.55,-5.50Z" fill="#c2bc2b"/><path d="M0,0 L15.30,-5.50 L4.55,-5.50Z" fill="#f9f74b"/><path d="M0,0 L15.30,-5.50 L7.35,1.90Z" fill="#b0a820"/><path d="M0,0 L9.40,12.20 L7.35,1.90Z" fill="#d8d438"/><path d="M0,0 L9.40,12.20 L0.00,7.40Z" fill="#d1cb33"/><path d="M0,0 L-9.40,12.20 L0.00,7.40Z" fill="#b3ab21"/><path d="M0,0 L-9.40,12.20 L-7.35,1.90Z" fill="#f6f44a"/><path d="M0,0 L-15.10,-5.50 L-7.35,1.90Z" fill="#bcb527"/><path d="M0,0 L-15.10,-5.50 L-4.55,-5.50Z" fill="#edea44"/><path d="M0,0 L0.00,-17.00 M0,0 L15.30,-5.50 M0,0 L9.40,12.20 M0,0 L-9.40,12.20 M0,0 L-15.10,-5.50 " stroke="#7a7210" stroke-width="0.6" fill="none" opacity="0.7"/><path d="M0,0 L4.55,-5.50 M0,0 L7.35,1.90 M0,0 L0.00,7.40 M0,0 L-7.35,1.90 M0,0 L-4.55,-5.50 " stroke="#8a8214" stroke-width="0.5" fill="none" opacity="0.45"/><path d="M0.00,-17.00 L4.55,-5.50 L15.30,-5.50 L7.35,1.90 L9.40,12.20 L0.00,7.40 L-9.40,12.20 L-7.35,1.90 L-15.10,-5.50 L-4.55,-5.50Z" fill="none" stroke="#1a1a00" stroke-width="1.15" stroke-linejoin="miter" stroke-miterlimit="10"/></g></g>
<g transform="translate(50.40,879.50)"><g><path d="M0.00,-17.00 L4.55,-5.50 L15.30,-5.50 L7.35,1.90 L9.40,12.20 L0.00,7.40 L-9.40,12.20 L-7.35,1.90 L-15.10,-5.50 L-4.55,-5.50Z" fill="#909090" opacity="0.7" transform="translate(2.2,2.5)" filter="url(#bl)"/><path d="M0.00,-17.00 L4.55,-5.50 L15.30,-5.50 L7.35,1.90 L9.40,12.20 L0.00,7.40 L-9.40,12.20 L-7.35,1.90 L-15.10,-5.50 L-4.55,-5.50Z" fill="#d8d23e"/><path d="M0,0 L0.00,-17.00 L-4.55,-5.50Z" fill="#e7e441"/><path d="M0,0 L0.00,-17.00 L4.55,-5.50Z" fill="#c2bc2b"/><path d="M0,0 L15.30,-5.50 L4.55,-5.50Z" fill="#f9f74b"/><path d="M0,0 L15.30,-5.50 L7.35,1.90Z" fill="#b0a820"/><path d="M0,0 L9.40,12.20 L7.35,1.90Z" fill="#d8d438"/><path d="M0,0 L9.40,12.20 L0.00,7.40Z" fill="#d1cb33"/><path d="M0,0 L-9.40,12.20 L0.00,7.40Z" fill="#b3ab21"/><path d="M0,0 L-9.40,12.20 L-7.35,1.90Z" fill="#f6f44a"/><path d="M0,0 L-15.10,-5.50 L-7.35,1.90Z" fill="#bcb527"/><path d="M0,0 L-15.10,-5.50 L-4.55,-5.50Z" fill="#edea44"/><path d="M0,0 L0.00,-17.00 M0,0 L15.30,-5.50 M0,0 L9.40,12.20 M0,0 L-9.40,12.20 M0,0 L-15.10,-5.50 " stroke="#7a7210" stroke-width="0.6" fill="none" opacity="0.7"/><path d="M0,0 L4.55,-5.50 M0,0 L7.35,1.90 M0,0 L0.00,7.40 M0,0 L-7.35,1.90 M0,0 L-4.55,-5.50 " stroke="#8a8214" stroke-width="0.5" fill="none" opacity="0.45"/><path d="M0.00,-17.00 L4.55,-5.50 L15.30,-5.50 L7.35,1.90 L9.40,12.20 L0.00,7.40 L-9.40,12.20 L-7.35,1.90 L-15.10,-5.50 L-4.55,-5.50Z" fill="none" stroke="#1a1a00" stroke-width="1.15" stroke-linejoin="miter" stroke-miterlimit="10"/></g></g>
<g transform="translate(717.60,879.50)"><g><path d="M0.00,-17.00 L4.55,-5.50 L15.30,-5.50 L7.35,1.90 L9.40,12.20 L0.00,7.40 L-9.40,12.20 L-7.35,1.90 L-15.10,-5.50 L-4.55,-5.50Z" fill="#909090" opacity="0.7" transform="translate(2.2,2.5)" filter="url(#bl)"/><path d="M0.00,-17.00 L4.55,-5.50 L15.30,-5.50 L7.35,1.90 L9.40,12.20 L0.00,7.40 L-9.40,12.20 L-7.35,1.90 L-15.10,-5.50 L-4.55,-5.50Z" fill="#d8d23e"/><path d="M0,0 L0.00,-17.00 L-4.55,-5.50Z" fill="#e7e441"/><path d="M0,0 L0.00,-17.00 L4.55,-5.50Z" fill="#c2bc2b"/><path d="M0,0 L15.30,-5.50 L4.55,-5.50Z" fill="#f9f74b"/><path d="M0,0 L15.30,-5.50 L7.35,1.90Z" fill="#b0a820"/><path d="M0,0 L9.40,12.20 L7.35,1.90Z" fill="#d8d438"/><path d="M0,0 L9.40,12.20 L0.00,7.40Z" fill="#d1cb33"/><path d="M0,0 L-9.40,12.20 L0.00,7.40Z" fill="#b3ab21"/><path d="M0,0 L-9.40,12.20 L-7.35,1.90Z" fill="#f6f44a"/><path d="M0,0 L-15.10,-5.50 L-7.35,1.90Z" fill="#bcb527"/><path d="M0,0 L-15.10,-5.50 L-4.55,-5.50Z" fill="#edea44"/><path d="M0,0 L0.00,-17.00 M0,0 L15.30,-5.50 M0,0 L9.40,12.20 M0,0 L-9.40,12.20 M0,0 L-15.10,-5.50 " stroke="#7a7210" stroke-width="0.6" fill="none" opacity="0.7"/><path d="M0,0 L4.55,-5.50 M0,0 L7.35,1.90 M0,0 L0.00,7.40 M0,0 L-7.35,1.90 M0,0 L-4.55,-5.50 " stroke="#8a8214" stroke-width="0.5" fill="none" opacity="0.45"/><path d="M0.00,-17.00 L4.55,-5.50 L15.30,-5.50 L7.35,1.90 L9.40,12.20 L0.00,7.40 L-9.40,12.20 L-7.35,1.90 L-15.10,-5.50 L-4.55,-5.50Z" fill="none" stroke="#1a1a00" stroke-width="1.15" stroke-linejoin="miter" stroke-miterlimit="10"/></g></g>
<g transform="translate(50.40,919.00)"><g><path d="M0.00,-17.00 L4.55,-5.50 L15.30,-5.50 L7.35,1.90 L9.40,12.20 L0.00,7.40 L-9.40,12.20 L-7.35,1.90 L-15.10,-5.50 L-4.55,-5.50Z" fill="#909090" opacity="0.7" transform="translate(2.2,2.5)" filter="url(#bl)"/><path d="M0.00,-17.00 L4.55,-5.50 L15.30,-5.50 L7.35,1.90 L9.40,12.20 L0.00,7.40 L-9.40,12.20 L-7.35,1.90 L-15.10,-5.50 L-4.55,-5.50Z" fill="#d8d23e"/><path d="M0,0 L0.00,-17.00 L-4.55,-5.50Z" fill="#e7e441"/><path d="M0,0 L0.00,-17.00 L4.55,-5.50Z" fill="#c2bc2b"/><path d="M0,0 L15.30,-5.50 L4.55,-5.50Z" fill="#f9f74b"/><path d="M0,0 L15.30,-5.50 L7.35,1.90Z" fill="#b0a820"/><path d="M0,0 L9.40,12.20 L7.35,1.90Z" fill="#d8d438"/><path d="M0,0 L9.40,12.20 L0.00,7.40Z" fill="#d1cb33"/><path d="M0,0 L-9.40,12.20 L0.00,7.40Z" fill="#b3ab21"/><path d="M0,0 L-9.40,12.20 L-7.35,1.90Z" fill="#f6f44a"/><path d="M0,0 L-15.10,-5.50 L-7.35,1.90Z" fill="#bcb527"/><path d="M0,0 L-15.10,-5.50 L-4.55,-5.50Z" fill="#edea44"/><path d="M0,0 L0.00,-17.00 M0,0 L15.30,-5.50 M0,0 L9.40,12.20 M0,0 L-9.40,12.20 M0,0 L-15.10,-5.50 " stroke="#7a7210" stroke-width="0.6" fill="none" opacity="0.7"/><path d="M0,0 L4.55,-5.50 M0,0 L7.35,1.90 M0,0 L0.00,7.40 M0,0 L-7.35,1.90 M0,0 L-4.55,-5.50 " stroke="#8a8214" stroke-width="0.5" fill="none" opacity="0.45"/><path d="M0.00,-17.00 L4.55,-5.50 L15.30,-5.50 L7.35,1.90 L9.40,12.20 L0.00,7.40 L-9.40,12.20 L-7.35,1.90 L-15.10,-5.50 L-4.55,-5.50Z" fill="none" stroke="#1a1a00" stroke-width="1.15" stroke-linejoin="miter" stroke-miterlimit="10"/></g></g>
<g transform="translate(717.60,919.00)"><g><path d="M0.00,-17.00 L4.55,-5.50 L15.30,-5.50 L7.35,1.90 L9.40,12.20 L0.00,7.40 L-9.40,12.20 L-7.35,1.90 L-15.10,-5.50 L-4.55,-5.50Z" fill="#909090" opacity="0.7" transform="translate(2.2,2.5)" filter="url(#bl)"/><path d="M0.00,-17.00 L4.55,-5.50 L15.30,-5.50 L7.35,1.90 L9.40,12.20 L0.00,7.40 L-9.40,12.20 L-7.35,1.90 L-15.10,-5.50 L-4.55,-5.50Z" fill="#d8d23e"/><path d="M0,0 L0.00,-17.00 L-4.55,-5.50Z" fill="#e7e441"/><path d="M0,0 L0.00,-17.00 L4.55,-5.50Z" fill="#c2bc2b"/><path d="M0,0 L15.30,-5.50 L4.55,-5.50Z" fill="#f9f74b"/><path d="M0,0 L15.30,-5.50 L7.35,1.90Z" fill="#b0a820"/><path d="M0,0 L9.40,12.20 L7.35,1.90Z" fill="#d8d438"/><path d="M0,0 L9.40,12.20 L0.00,7.40Z" fill="#d1cb33"/><path d="M0,0 L-9.40,12.20 L0.00,7.40Z" fill="#b3ab21"/><path d="M0,0 L-9.40,12.20 L-7.35,1.90Z" fill="#f6f44a"/><path d="M0,0 L-15.10,-5.50 L-7.35,1.90Z" fill="#bcb527"/><path d="M0,0 L-15.10,-5.50 L-4.55,-5.50Z" fill="#edea44"/><path d="M0,0 L0.00,-17.00 M0,0 L15.30,-5.50 M0,0 L9.40,12.20 M0,0 L-9.40,12.20 M0,0 L-15.10,-5.50 " stroke="#7a7210" stroke-width="0.6" fill="none" opacity="0.7"/><path d="M0,0 L4.55,-5.50 M0,0 L7.35,1.90 M0,0 L0.00,7.40 M0,0 L-7.35,1.90 M0,0 L-4.55,-5.50 " stroke="#8a8214" stroke-width="0.5" fill="none" opacity="0.45"/><path d="M0.00,-17.00 L4.55,-5.50 L15.30,-5.50 L7.35,1.90 L9.40,12.20 L0.00,7.40 L-9.40,12.20 L-7.35,1.90 L-15.10,-5.50 L-4.55,-5.50Z" fill="none" stroke="#1a1a00" stroke-width="1.15" stroke-linejoin="miter" stroke-miterlimit="10"/></g></g>
<g transform="translate(50.40,958.70)"><g><path d="M0.00,-17.00 L4.55,-5.50 L15.30,-5.50 L7.35,1.90 L9.40,12.20 L0.00,7.40 L-9.40,12.20 L-7.35,1.90 L-15.10,-5.50 L-4.55,-5.50Z" fill="#909090" opacity="0.7" transform="translate(2.2,2.5)" filter="url(#bl)"/><path d="M0.00,-17.00 L4.55,-5.50 L15.30,-5.50 L7.35,1.90 L9.40,12.20 L0.00,7.40 L-9.40,12.20 L-7.35,1.90 L-15.10,-5.50 L-4.55,-5.50Z" fill="#d8d23e"/><path d="M0,0 L0.00,-17.00 L-4.55,-5.50Z" fill="#e7e441"/><path d="M0,0 L0.00,-17.00 L4.55,-5.50Z" fill="#c2bc2b"/><path d="M0,0 L15.30,-5.50 L4.55,-5.50Z" fill="#f9f74b"/><path d="M0,0 L15.30,-5.50 L7.35,1.90Z" fill="#b0a820"/><path d="M0,0 L9.40,12.20 L7.35,1.90Z" fill="#d8d438"/><path d="M0,0 L9.40,12.20 L0.00,7.40Z" fill="#d1cb33"/><path d="M0,0 L-9.40,12.20 L0.00,7.40Z" fill="#b3ab21"/><path d="M0,0 L-9.40,12.20 L-7.35,1.90Z" fill="#f6f44a"/><path d="M0,0 L-15.10,-5.50 L-7.35,1.90Z" fill="#bcb527"/><path d="M0,0 L-15.10,-5.50 L-4.55,-5.50Z" fill="#edea44"/><path d="M0,0 L0.00,-17.00 M0,0 L15.30,-5.50 M0,0 L9.40,12.20 M0,0 L-9.40,12.20 M0,0 L-15.10,-5.50 " stroke="#7a7210" stroke-width="0.6" fill="none" opacity="0.7"/><path d="M0,0 L4.55,-5.50 M0,0 L7.35,1.90 M0,0 L0.00,7.40 M0,0 L-7.35,1.90 M0,0 L-4.55,-5.50 " stroke="#8a8214" stroke-width="0.5" fill="none" opacity="0.45"/><path d="M0.00,-17.00 L4.55,-5.50 L15.30,-5.50 L7.35,1.90 L9.40,12.20 L0.00,7.40 L-9.40,12.20 L-7.35,1.90 L-15.10,-5.50 L-4.55,-5.50Z" fill="none" stroke="#1a1a00" stroke-width="1.15" stroke-linejoin="miter" stroke-miterlimit="10"/></g></g>
<g transform="translate(717.60,958.70)"><g><path d="M0.00,-17.00 L4.55,-5.50 L15.30,-5.50 L7.35,1.90 L9.40,12.20 L0.00,7.40 L-9.40,12.20 L-7.35,1.90 L-15.10,-5.50 L-4.55,-5.50Z" fill="#909090" opacity="0.7" transform="translate(2.2,2.5)" filter="url(#bl)"/><path d="M0.00,-17.00 L4.55,-5.50 L15.30,-5.50 L7.35,1.90 L9.40,12.20 L0.00,7.40 L-9.40,12.20 L-7.35,1.90 L-15.10,-5.50 L-4.55,-5.50Z" fill="#d8d23e"/><path d="M0,0 L0.00,-17.00 L-4.55,-5.50Z" fill="#e7e441"/><path d="M0,0 L0.00,-17.00 L4.55,-5.50Z" fill="#c2bc2b"/><path d="M0,0 L15.30,-5.50 L4.55,-5.50Z" fill="#f9f74b"/><path d="M0,0 L15.30,-5.50 L7.35,1.90Z" fill="#b0a820"/><path d="M0,0 L9.40,12.20 L7.35,1.90Z" fill="#d8d438"/><path d="M0,0 L9.40,12.20 L0.00,7.40Z" fill="#d1cb33"/><path d="M0,0 L-9.40,12.20 L0.00,7.40Z" fill="#b3ab21"/><path d="M0,0 L-9.40,12.20 L-7.35,1.90Z" fill="#f6f44a"/><path d="M0,0 L-15.10,-5.50 L-7.35,1.90Z" fill="#bcb527"/><path d="M0,0 L-15.10,-5.50 L-4.55,-5.50Z" fill="#edea44"/><path d="M0,0 L0.00,-17.00 M0,0 L15.30,-5.50 M0,0 L9.40,12.20 M0,0 L-9.40,12.20 M0,0 L-15.10,-5.50 " stroke="#7a7210" stroke-width="0.6" fill="none" opacity="0.7"/><path d="M0,0 L4.55,-5.50 M0,0 L7.35,1.90 M0,0 L0.00,7.40 M0,0 L-7.35,1.90 M0,0 L-4.55,-5.50 " stroke="#8a8214" stroke-width="0.5" fill="none" opacity="0.45"/><path d="M0.00,-17.00 L4.55,-5.50 L15.30,-5.50 L7.35,1.90 L9.40,12.20 L0.00,7.40 L-9.40,12.20 L-7.35,1.90 L-15.10,-5.50 L-4.55,-5.50Z" fill="none" stroke="#1a1a00" stroke-width="1.15" stroke-linejoin="miter" stroke-miterlimit="10"/></g></g>
<g transform="translate(50.40,998.00)"><g><path d="M0.00,-17.00 L4.55,-5.50 L15.30,-5.50 L7.35,1.90 L9.40,12.20 L0.00,7.40 L-9.40,12.20 L-7.35,1.90 L-15.10,-5.50 L-4.55,-5.50Z" fill="#909090" opacity="0.7" transform="translate(2.2,2.5)" filter="url(#bl)"/><path d="M0.00,-17.00 L4.55,-5.50 L15.30,-5.50 L7.35,1.90 L9.40,12.20 L0.00,7.40 L-9.40,12.20 L-7.35,1.90 L-15.10,-5.50 L-4.55,-5.50Z" fill="#d8d23e"/><path d="M0,0 L0.00,-17.00 L-4.55,-5.50Z" fill="#e7e441"/><path d="M0,0 L0.00,-17.00 L4.55,-5.50Z" fill="#c2bc2b"/><path d="M0,0 L15.30,-5.50 L4.55,-5.50Z" fill="#f9f74b"/><path d="M0,0 L15.30,-5.50 L7.35,1.90Z" fill="#b0a820"/><path d="M0,0 L9.40,12.20 L7.35,1.90Z" fill="#d8d438"/><path d="M0,0 L9.40,12.20 L0.00,7.40Z" fill="#d1cb33"/><path d="M0,0 L-9.40,12.20 L0.00,7.40Z" fill="#b3ab21"/><path d="M0,0 L-9.40,12.20 L-7.35,1.90Z" fill="#f6f44a"/><path d="M0,0 L-15.10,-5.50 L-7.35,1.90Z" fill="#bcb527"/><path d="M0,0 L-15.10,-5.50 L-4.55,-5.50Z" fill="#edea44"/><path d="M0,0 L0.00,-17.00 M0,0 L15.30,-5.50 M0,0 L9.40,12.20 M0,0 L-9.40,12.20 M0,0 L-15.10,-5.50 " stroke="#7a7210" stroke-width="0.6" fill="none" opacity="0.7"/><path d="M0,0 L4.55,-5.50 M0,0 L7.35,1.90 M0,0 L0.00,7.40 M0,0 L-7.35,1.90 M0,0 L-4.55,-5.50 " stroke="#8a8214" stroke-width="0.5" fill="none" opacity="0.45"/><path d="M0.00,-17.00 L4.55,-5.50 L15.30,-5.50 L7.35,1.90 L9.40,12.20 L0.00,7.40 L-9.40,12.20 L-7.35,1.90 L-15.10,-5.50 L-4.55,-5.50Z" fill="none" stroke="#1a1a00" stroke-width="1.15" stroke-linejoin="miter" stroke-miterlimit="10"/></g></g>
<g transform="translate(717.60,998.00)"><g><path d="M0.00,-17.00 L4.55,-5.50 L15.30,-5.50 L7.35,1.90 L9.40,12.20 L0.00,7.40 L-9.40,12.20 L-7.35,1.90 L-15.10,-5.50 L-4.55,-5.50Z" fill="#909090" opacity="0.7" transform="translate(2.2,2.5)" filter="url(#bl)"/><path d="M0.00,-17.00 L4.55,-5.50 L15.30,-5.50 L7.35,1.90 L9.40,12.20 L0.00,7.40 L-9.40,12.20 L-7.35,1.90 L-15.10,-5.50 L-4.55,-5.50Z" fill="#d8d23e"/><path d="M0,0 L0.00,-17.00 L-4.55,-5.50Z" fill="#e7e441"/><path d="M0,0 L0.00,-17.00 L4.55,-5.50Z" fill="#c2bc2b"/><path d="M0,0 L15.30,-5.50 L4.55,-5.50Z" fill="#f9f74b"/><path d="M0,0 L15.30,-5.50 L7.35,1.90Z" fill="#b0a820"/><path d="M0,0 L9.40,12.20 L7.35,1.90Z" fill="#d8d438"/><path d="M0,0 L9.40,12.20 L0.00,7.40Z" fill="#d1cb33"/><path d="M0,0 L-9.40,12.20 L0.00,7.40Z" fill="#b3ab21"/><path d="M0,0 L-9.40,12.20 L-7.35,1.90Z" fill="#f6f44a"/><path d="M0,0 L-15.10,-5.50 L-7.35,1.90Z" fill="#bcb527"/><path d="M0,0 L-15.10,-5.50 L-4.55,-5.50Z" fill="#edea44"/><path d="M0,0 L0.00,-17.00 M0,0 L15.30,-5.50 M0,0 L9.40,12.20 M0,0 L-9.40,12.20 M0,0 L-15.10,-5.50 " stroke="#7a7210" stroke-width="0.6" fill="none" opacity="0.7"/><path d="M0,0 L4.55,-5.50 M0,0 L7.35,1.90 M0,0 L0.00,7.40 M0,0 L-7.35,1.90 M0,0 L-4.55,-5.50 " stroke="#8a8214" stroke-width="0.5" fill="none" opacity="0.45"/><path d="M0.00,-17.00 L4.55,-5.50 L15.30,-5.50 L7.35,1.90 L9.40,12.20 L0.00,7.40 L-9.40,12.20 L-7.35,1.90 L-15.10,-5.50 L-4.55,-5.50Z" fill="none" stroke="#1a1a00" stroke-width="1.15" stroke-linejoin="miter" stroke-miterlimit="10"/></g></g>
<text x="93.5" y="174.2" font-size="18.2" textLength="284" lengthAdjust="spacingAndGlyphs" fill="#111">Mind-map of environmental issues</text>
<ellipse cx="401.5" cy="556.0" rx="116.5" ry="86.2" fill="#98b4bc"/>
<ellipse cx="401.5" cy="555.3" rx="116.3" ry="86.0" fill="url(#eg)"/>
<g fill="#0c1a20" font-size="20.0"><text x="327.2" y="538.0" textLength="137.4" lengthAdjust="spacingAndGlyphs">Environmental</text><text x="327.2" y="570.2" textLength="65.1" lengthAdjust="spacingAndGlyphs">issues?</text></g>
<g stroke="#000" stroke-width="1.35" fill="none" stroke-linecap="butt"><path d="M366.70,492.80 L335.60,390.90 M342.39,396.81 L335.60,390.90 L333.27,399.59" />
<path d="M423.40,501.90 L494.50,410.90 M493.56,419.85 L494.50,410.90 L486.04,413.98" />
<path d="M332.30,501.40 L232.50,469.10 M241.23,466.91 L232.50,469.10 L238.29,475.99" />
<path d="M312.80,544.40 L226.60,536.25 M234.65,532.22 L226.60,536.25 L233.75,541.72" />
<path d="M491.25,544.50 L591.70,544.50 M584.07,549.27 L591.70,544.50 L584.07,539.73" />
<path d="M313.90,570.90 L269.10,654.80 M268.49,645.82 L269.10,654.80 L276.90,650.31" />
<path d="M345.40,633.50 L331.90,746.00 M328.07,737.85 L331.90,746.00 L337.54,738.99" />
<path d="M384.60,645.40 L447.50,746.00 M439.41,742.06 L447.50,746.00 L447.50,737.00" />
<path d="M448.40,620.80 L530.00,660.60 M521.05,661.54 L530.00,660.60 L525.23,652.97" /></g>
<g fill="#111" font-size="20.0"><text x="293.8" y="366.5" textLength="87.0" lengthAdjust="spacingAndGlyphs">Recycling</text>
<text x="474.7" y="413.2" textLength="77.9" lengthAdjust="spacingAndGlyphs">Littering</text>
<text x="139.5" y="457.9" textLength="108.6" lengthAdjust="spacingAndGlyphs">Food waste</text>
<text x="93.4" y="549.3" textLength="119.9" lengthAdjust="spacingAndGlyphs">Water waste</text>
<text x="613.0" y="548.6" textLength="59.3" lengthAdjust="spacingAndGlyphs">Global</text>
<text x="588.4" y="595.0" textLength="86.8" lengthAdjust="spacingAndGlyphs">Warming</text>
<text x="193.6" y="685.8" textLength="124.5" lengthAdjust="spacingAndGlyphs">Energy waste</text>
<text x="519.7" y="686.0" textLength="83.1" lengthAdjust="spacingAndGlyphs">Pollution</text>
<text x="288.8" y="776.7" textLength="67.5" lengthAdjust="spacingAndGlyphs">Landfill</text>
<text x="424.4" y="776.7" textLength="135.8" lengthAdjust="spacingAndGlyphs">Medical waste</text></g>
</svg>
</body></html>
